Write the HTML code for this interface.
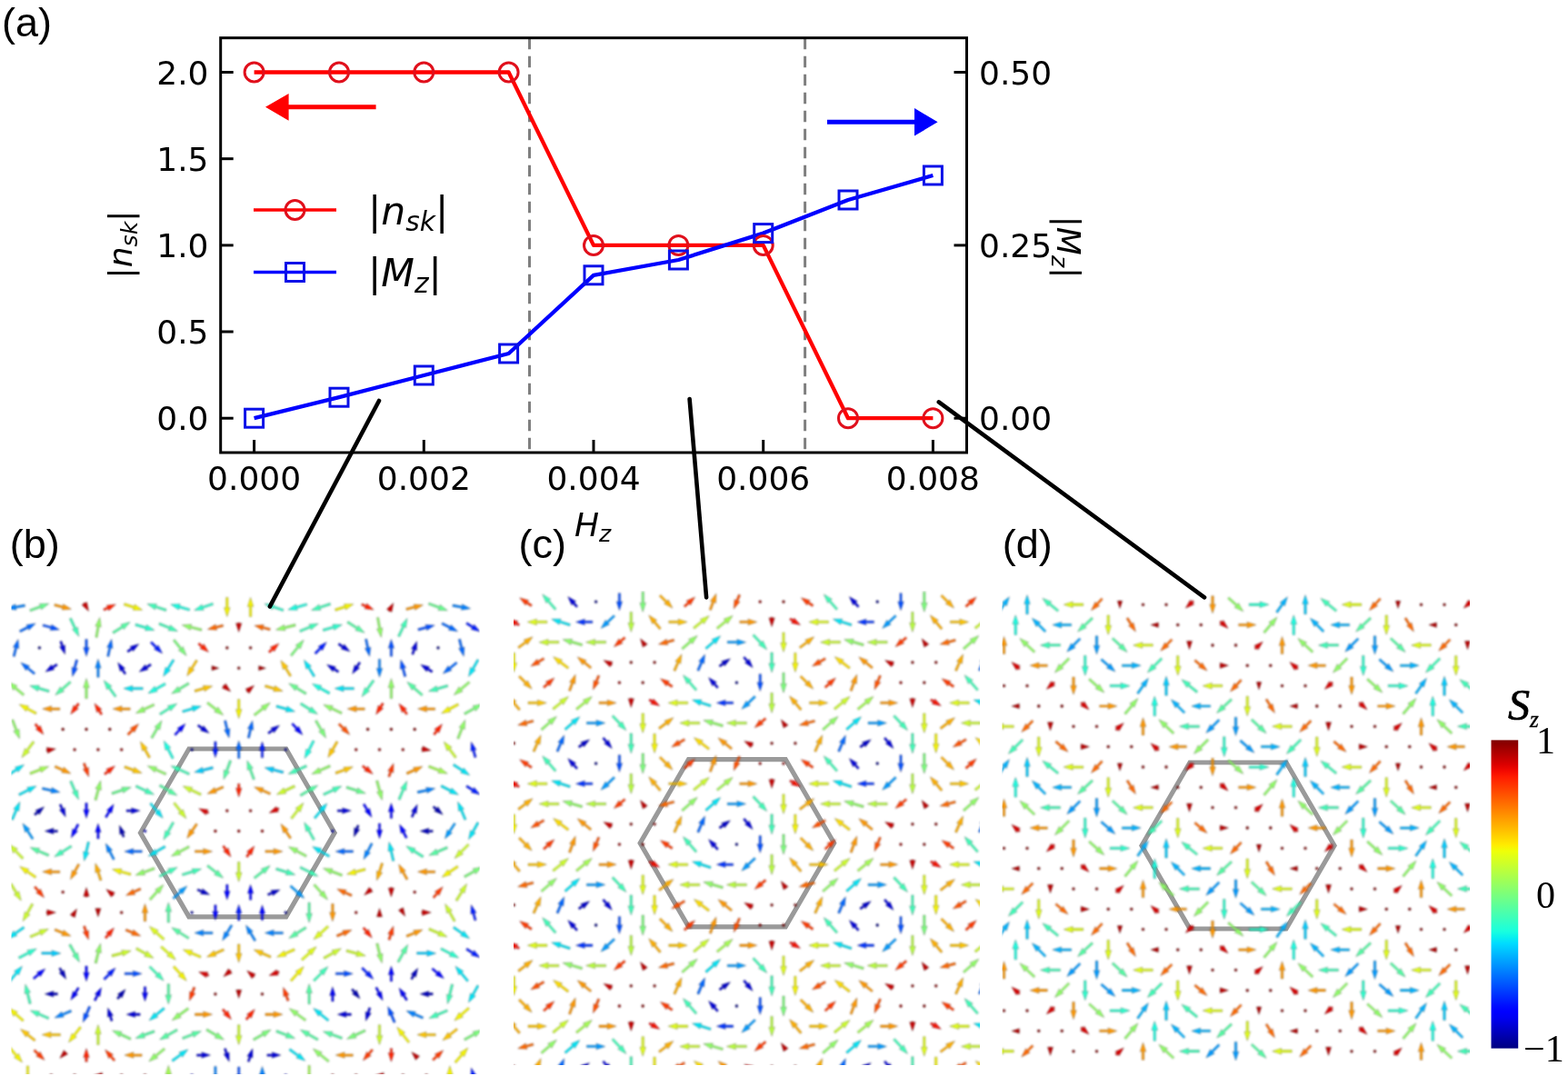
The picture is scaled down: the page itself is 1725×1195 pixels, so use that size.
<!DOCTYPE html>
<html><head><meta charset="utf-8"><title>Skyrmion figure</title><style>html,body{margin:0;padding:0;background:#fff;overflow:hidden}svg{display:block}</style></head><body>
<svg width="1725" height="1195" viewBox="0 0 1725 1195">
<defs><clipPath id="cpb"><rect x="12.5" y="655" width="515.2" height="527"/></clipPath><clipPath id="cpc"><rect x="565" y="650" width="513" height="522"/></clipPath><clipPath id="cpd"><rect x="1102.5" y="652" width="514.5" height="516"/></clipPath><filter id="bl" x="-2%" y="-2%" width="104%" height="104%"><feGaussianBlur stdDeviation="0.9"/></filter></defs>
<polygon points="207.9,824.0 314.7,824.0 368.1,916.4 314.7,1008.8 207.9,1008.8 154.5,916.4" fill="none" stroke="#9a9a9a" stroke-width="5.2" stroke-linejoin="miter"/>
<polygon points="757.5,835.7 864.2,835.7 917.6,927.7 864.2,1019.8 757.5,1019.8 704.2,927.7" fill="none" stroke="#9a9a9a" stroke-width="5.2" stroke-linejoin="miter"/>
<polygon points="1309.0,839.0 1415.0,839.0 1468.0,930.5 1415.0,1022.0 1309.0,1022.0 1256.0,930.5" fill="none" stroke="#9a9a9a" stroke-width="5.2" stroke-linejoin="miter"/>
<g clip-path="url(#cpb)"><g filter="url(#bl)" stroke="#000" stroke-opacity="0.4" stroke-width="0.7" stroke-linejoin="round"><path d="M27.2 665.1L16.7 667.0L17.1 664.8L7.8 669.7L18.2 671.2L17.1 669.3L27.6 667.4Z" fill="#0080ff"/>
<path d="M33.5 672.8L45.5 668.5L45.4 670.7L53.7 664.2L43.2 664.6L44.7 666.3L32.7 670.7Z" fill="#67ff90"/>
<path d="M59.7 666.8L69.2 669.2L68.0 671.0L78.4 670.3L69.5 664.8L69.8 667.0L60.2 664.6Z" fill="#ff9700"/>
<path d="M91.5 664.0L92.1 665.1L89.9 665.4L97.5 672.6L95.5 662.3L94.1 664.0L93.5 662.9Z" fill="#c50000"/>
<path d="M114.6 672.0L119.5 669.8L119.6 672.1L127.4 665.0L117.0 666.2L118.6 667.7L113.7 669.9Z" fill="#ff2100"/>
<path d="M136.3 665.9L147.5 669.5L146.1 671.2L156.6 671.2L148.1 665.1L148.2 667.3L137.0 663.7Z" fill="#f7f600"/>
<path d="M183.1 670.3L171.1 666.4L172.5 664.7L162.0 664.6L170.5 670.8L170.4 668.6L182.4 672.5Z" fill="#3effb9"/>
<path d="M208.8 669.9L197.0 666.5L198.4 664.7L187.9 665.0L196.6 670.9L196.4 668.7L208.2 672.1Z" fill="#15ffe2"/>
<path d="M233.9 663.4L222.1 667.4L222.2 665.2L213.8 671.5L224.3 671.3L222.8 669.6L234.6 665.6Z" fill="#29ffce"/>
<path d="M248.7 657.5L248.7 669.3L246.6 668.5L249.8 678.5L253.0 668.5L251.0 669.3L251.0 657.5Z" fill="#f7f600"/>
<path d="M276.8 678.5L276.8 666.7L278.8 667.5L275.6 657.5L272.4 667.5L274.5 666.7L274.5 678.5Z" fill="#f7f600"/>
<path d="M312.0 670.4L300.2 666.4L301.7 664.7L291.2 664.5L299.6 670.8L299.5 668.6L311.3 672.6Z" fill="#29ffce"/>
<path d="M337.2 663.9L325.4 667.3L325.6 665.1L316.9 671.0L327.4 671.3L326.0 669.5L337.8 666.1Z" fill="#15ffe2"/>
<path d="M363.0 663.5L351.0 667.4L351.1 665.2L342.6 671.4L353.1 671.3L351.7 669.6L363.7 665.7Z" fill="#3effb9"/>
<path d="M369.2 672.3L380.4 668.7L380.3 670.9L388.8 664.8L378.3 664.8L379.7 666.5L368.5 670.1Z" fill="#f7f600"/>
<path d="M397.5 666.1L402.4 668.3L400.8 669.8L411.2 671.0L403.4 663.9L403.3 666.2L398.4 664.0Z" fill="#ff2100"/>
<path d="M428.9 673.1L429.5 672.0L430.9 673.7L432.9 663.4L425.3 670.6L427.5 670.9L426.9 672.0Z" fill="#c50000"/>
<path d="M447.2 671.4L456.8 669.0L456.5 671.2L465.4 665.7L455.0 665.0L456.2 666.8L446.7 669.2Z" fill="#ff9700"/>
<path d="M471.3 665.3L483.3 669.7L481.8 671.4L492.3 671.8L484.0 665.3L484.1 667.5L472.1 663.2Z" fill="#67ff90"/>
<path d="M497.8 667.4L508.3 669.3L507.2 671.2L517.6 669.7L508.3 664.8L508.7 667.0L498.2 665.1Z" fill="#0080ff"/>
<path d="M535.2 668.0L534.4 669.4L532.8 669.4L532.0 668.0L532.8 666.6L534.4 666.6Z" fill="#b90000"/>
<path d="M22.4 695.8L31.5 691.2L31.7 693.4L39.2 686.0L28.8 687.7L30.4 689.1L21.3 693.8Z" fill="#0066ff"/>
<path d="M46.9 689.1L56.3 691.6L54.9 693.4L65.4 692.9L56.6 687.2L56.9 689.4L47.5 686.9Z" fill="#004dff"/>
<path d="M76.4 681.0L81.8 692.4L79.6 692.6L86.7 700.3L85.4 689.9L83.9 691.5L78.5 680.0Z" fill="#3effb9"/>
<path d="M107.1 701.4L109.3 688.9L111.2 690.0L109.8 679.6L104.9 688.9L107.1 688.5L104.9 701.0Z" fill="#90ff67"/>
<path d="M125.0 697.2L135.8 690.5L136.2 692.6L143.0 684.6L132.8 687.2L134.6 688.5L123.8 695.2Z" fill="#52ffa5"/>
<path d="M148.8 688.5L160.8 692.0L159.4 693.7L169.9 693.4L161.2 687.5L161.4 689.8L149.4 686.3Z" fill="#29ffce"/>
<path d="M174.8 687.4L186.5 692.1L184.9 693.7L195.4 694.5L187.3 687.8L187.3 690.0L175.6 685.3Z" fill="#3effb9"/>
<path d="M222.0 692.0L209.6 688.9L210.9 687.0L200.4 687.8L209.4 693.3L209.1 691.1L221.5 694.2Z" fill="#90ff67"/>
<path d="M245.2 687.2L237.0 689.2L237.3 687.0L228.4 692.5L238.8 693.2L237.6 691.4L245.7 689.4Z" fill="#ff6800"/>
<path d="M261.6 685.2L261.6 686.4L259.5 685.6L262.7 695.6L265.9 685.6L263.9 686.4L263.9 685.2Z" fill="#c50000"/>
<path d="M297.3 691.4L289.2 689.4L290.4 687.6L280.0 688.3L288.9 693.8L288.6 691.6L296.8 693.7Z" fill="#ff6800"/>
<path d="M324.7 686.6L312.3 689.7L312.6 687.5L303.6 693.1L314.1 693.8L312.8 692.0L325.2 688.9Z" fill="#90ff67"/>
<path d="M330.4 695.6L342.1 690.8L342.1 693.1L350.2 686.3L339.7 687.1L341.3 688.7L329.6 693.4Z" fill="#3effb9"/>
<path d="M355.8 694.5L367.8 691.1L367.6 693.3L376.3 687.4L365.8 687.1L367.2 688.9L355.2 692.3Z" fill="#29ffce"/>
<path d="M381.8 685.6L392.6 692.3L390.8 693.6L401.0 696.2L394.2 688.2L393.8 690.4L383.0 683.6Z" fill="#52ffa5"/>
<path d="M414.5 679.8L416.7 692.4L414.5 691.9L419.4 701.2L420.8 690.8L418.9 692.0L416.7 679.4Z" fill="#90ff67"/>
<path d="M439.7 700.8L445.1 689.3L446.6 691.0L447.9 680.5L440.8 688.2L443.0 688.4L437.6 699.8Z" fill="#3effb9"/>
<path d="M460.3 694.0L469.7 691.5L469.4 693.7L478.2 688.0L467.7 687.4L469.1 689.2L459.7 691.7Z" fill="#004dff"/>
<path d="M485.7 687.0L494.8 691.7L493.2 693.2L503.6 694.8L496.1 687.4L495.9 689.6L486.8 685.0Z" fill="#0066ff"/>
<path d="M512.6 686.7L519.8 691.2L518.0 692.5L528.2 695.1L521.4 687.1L521.0 689.2L513.8 684.7Z" fill="#001aff"/>
<path d="M16.4 722.5L18.8 712.6L20.7 713.9L20.0 703.4L14.4 712.3L16.6 712.0L14.1 722.0Z" fill="#0066ff"/>
<path d="M45.0 712.8L44.2 714.2L42.6 714.2L41.8 712.8L42.6 711.4L44.2 711.4Z" fill="#000080"/>
<path d="M65.8 705.9L67.6 711.7L65.4 711.5L71.6 720.1L71.5 709.5L69.8 710.9L67.9 705.2Z" fill="#0000d6"/>
<path d="M93.8 703.4L93.8 713.1L91.8 712.3L95.0 722.3L98.2 712.3L96.2 713.1L96.2 703.4Z" fill="#004dff"/>
<path d="M119.9 722.6L122.0 712.5L123.9 713.8L122.8 703.3L117.6 712.4L119.8 712.1L117.7 722.1Z" fill="#0066ff"/>
<path d="M140.9 718.0L145.9 714.7L146.4 716.8L152.9 708.6L142.8 711.5L144.6 712.8L139.7 716.1Z" fill="#0000d6"/>
<path d="M165.3 707.4L171.3 713.4L169.3 714.3L178.7 719.1L173.9 709.7L173.0 711.8L167.0 705.8Z" fill="#001aff"/>
<path d="M190.4 705.0L198.4 714.9L196.3 715.6L205.1 721.4L201.3 711.6L200.2 713.5L192.2 703.5Z" fill="#7bff7b"/>
<path d="M217.8 708.9L221.8 712.4L219.8 713.5L229.5 717.6L224.1 708.6L223.3 710.7L219.3 707.2Z" fill="#ff2100"/>
<path d="M251.4 712.8L250.6 714.2L249.0 714.2L248.2 712.8L249.0 711.4L250.6 711.4Z" fill="#800000"/>
<path d="M277.2 712.8L276.4 714.2L274.8 714.2L274.0 712.8L274.8 711.4L276.4 711.4Z" fill="#800000"/>
<path d="M296.7 718.5L300.7 715.0L301.5 717.0L306.9 708.0L297.2 712.2L299.2 713.2L295.2 716.7Z" fill="#ff2100"/>
<path d="M321.2 722.1L329.2 712.1L330.3 714.1L334.1 704.3L325.3 710.0L327.4 710.7L319.4 720.6Z" fill="#7bff7b"/>
<path d="M347.6 719.9L353.6 713.9L354.5 715.9L359.3 706.6L349.9 711.4L351.9 712.3L345.9 718.3Z" fill="#001aff"/>
<path d="M371.9 709.5L376.8 712.9L375.0 714.1L385.1 717.1L378.6 708.8L378.1 711.0L373.1 707.6Z" fill="#0000d6"/>
<path d="M401.5 703.5L403.6 713.6L401.4 713.2L406.6 722.3L407.7 711.9L405.8 713.1L403.7 703.1Z" fill="#0066ff"/>
<path d="M431.6 722.3L431.6 712.6L433.6 713.4L430.4 703.4L427.2 713.4L429.3 712.6L429.3 722.3Z" fill="#004dff"/>
<path d="M454.9 720.4L456.8 714.7L458.5 716.1L458.6 705.6L452.4 714.1L454.6 714.0L452.8 719.7Z" fill="#0000d6"/>
<path d="M483.6 712.8L482.8 714.2L481.2 714.2L480.4 712.8L481.2 711.4L482.8 711.4Z" fill="#000080"/>
<path d="M504.3 703.7L506.8 713.6L504.6 713.3L510.2 722.3L510.9 711.8L509.0 713.1L506.6 703.1Z" fill="#0066ff"/>
<path d="M535.2 712.8L534.4 714.2L532.8 714.2L532.0 712.8L532.8 711.4L534.4 711.4Z" fill="#0000b9"/>
<path d="M38.8 740.5L30.8 734.0L32.7 732.9L22.9 729.1L28.7 737.9L29.4 735.8L37.3 742.2Z" fill="#0066ff"/>
<path d="M62.1 730.2L57.0 733.4L56.6 731.2L49.9 739.3L60.0 736.7L58.3 735.4L63.4 732.2Z" fill="#0000d6"/>
<path d="M83.4 725.8L80.9 735.2L79.1 733.9L79.7 744.4L85.4 735.5L83.1 735.8L85.7 726.4Z" fill="#004dff"/>
<path d="M109.1 745.2L109.1 734.5L111.1 735.3L107.9 725.3L104.7 735.3L106.8 734.5L106.8 745.2Z" fill="#0080ff"/>
<path d="M138.8 741.0L135.5 735.9L137.7 735.5L129.6 728.9L132.3 739.0L133.6 737.2L136.9 742.2Z" fill="#0000d6"/>
<path d="M165.3 730.2L160.2 733.4L159.8 731.2L153.1 739.3L163.2 736.7L161.5 735.4L166.6 732.2Z" fill="#0000d6"/>
<path d="M190.0 725.6L183.6 735.8L182.2 734.1L179.7 744.3L187.7 737.5L185.5 737.1L191.9 726.8Z" fill="#00e5f7"/>
<path d="M215.5 726.1L209.7 735.4L208.3 733.6L205.8 743.8L213.8 737.0L211.6 736.6L217.4 727.3Z" fill="#ffc600"/>
<path d="M232.9 736.2L233.5 736.2L232.9 737.8L240.9 735.2L232.9 732.6L233.5 734.3L232.9 734.3Z" fill="#a80000"/>
<path d="M264.3 735.2L263.5 736.6L261.9 736.6L261.1 735.2L261.9 733.8L263.5 733.8Z" fill="#800000"/>
<path d="M284.5 736.2L285.1 736.2L284.5 737.8L292.5 735.2L284.5 732.6L285.1 734.3L284.5 734.3Z" fill="#a80000"/>
<path d="M320.6 743.2L314.8 733.9L317.0 733.5L309.0 726.7L311.5 736.9L312.9 735.1L318.7 744.4Z" fill="#ffc600"/>
<path d="M346.7 743.6L340.3 733.4L342.5 733.0L334.5 726.2L337.0 736.4L338.4 734.6L344.8 744.9Z" fill="#00e5f7"/>
<path d="M373.0 738.3L367.9 735.1L369.6 733.8L359.5 731.2L366.2 739.2L366.6 737.1L371.7 740.2Z" fill="#0000d6"/>
<path d="M394.9 728.2L391.6 733.3L390.3 731.5L387.6 741.6L395.7 735.0L393.5 734.5L396.8 729.5Z" fill="#0000d6"/>
<path d="M416.4 725.3L416.4 736.0L414.3 735.2L417.5 745.2L420.7 735.2L418.6 736.0L418.6 725.3Z" fill="#0080ff"/>
<path d="M446.9 744.1L444.3 734.7L446.6 734.9L440.9 726.1L440.3 736.6L442.1 735.3L444.6 744.7Z" fill="#004dff"/>
<path d="M476.2 738.3L471.1 735.1L472.8 733.8L462.7 731.2L469.4 739.2L469.8 737.1L474.9 740.2Z" fill="#0000d6"/>
<path d="M501.7 728.2L493.8 734.7L493.1 732.6L487.3 741.3L497.1 737.6L495.2 736.5L503.2 730.0Z" fill="#0066ff"/>
<path d="M524.9 725.4L519.0 735.9L517.6 734.2L515.5 744.5L523.2 737.3L521.0 737.0L526.9 726.5Z" fill="#00e5f7"/>
<path d="M26.8 763.8L17.0 755.6L18.9 754.5L9.2 750.6L14.8 759.5L15.5 757.4L25.3 765.6Z" fill="#90ff67"/>
<path d="M54.2 759.5L42.1 756.1L43.4 754.3L32.9 754.6L41.6 760.5L41.4 758.3L53.6 761.8Z" fill="#3effb9"/>
<path d="M76.7 749.6L67.1 757.9L66.4 755.8L60.9 764.8L70.6 760.7L68.6 759.7L78.2 751.3Z" fill="#52ffa5"/>
<path d="M96.2 768.6L96.2 755.9L98.2 756.7L95.0 746.7L91.8 756.7L93.8 755.9L93.8 768.6Z" fill="#90ff67"/>
<path d="M128.1 765.8L120.7 755.6L122.9 755.0L114.4 748.8L117.7 758.8L118.9 756.9L126.3 767.1Z" fill="#3effb9"/>
<path d="M157.2 756.5L145.2 756.5L146.0 754.4L136.0 757.6L146.0 760.9L145.2 758.8L157.2 758.8Z" fill="#00e5f7"/>
<path d="M181.2 751.4L170.5 757.4L170.2 755.2L163.0 762.9L173.3 760.8L171.6 759.4L182.4 753.4Z" fill="#15ffe2"/>
<path d="M207.0 751.0L196.1 757.6L195.7 755.4L188.8 763.3L199.0 760.9L197.3 759.5L208.2 753.0Z" fill="#67ff90"/>
<path d="M214.6 761.5L225.2 758.5L225.0 760.7L233.7 754.9L223.2 754.5L224.5 756.3L214.0 759.3Z" fill="#ffc600"/>
<path d="M245.1 755.2L246.0 756.0L244.1 757.0L253.8 761.0L248.2 752.1L247.5 754.2L246.5 753.4Z" fill="#c50000"/>
<path d="M272.3 761.9L273.3 761.1L274.0 763.2L279.6 754.3L269.9 758.2L271.8 759.3L270.9 760.1Z" fill="#c50000"/>
<path d="M291.4 756.0L301.9 759.0L300.6 760.8L311.1 760.4L302.4 754.6L302.6 756.8L292.0 753.8Z" fill="#ffc600"/>
<path d="M337.2 762.3L326.3 755.7L328.0 754.4L317.8 752.0L324.7 759.9L325.1 757.7L336.0 764.3Z" fill="#67ff90"/>
<path d="M363.0 761.8L352.2 755.9L353.9 754.5L343.6 752.4L350.8 760.1L351.1 757.9L361.8 763.9Z" fill="#15ffe2"/>
<path d="M389.4 756.5L377.4 756.5L378.2 754.4L368.2 757.6L378.2 760.9L377.4 758.8L389.4 758.8Z" fill="#00e5f7"/>
<path d="M410.1 748.1L402.7 758.3L401.5 756.5L398.2 766.5L406.7 760.3L404.5 759.7L411.9 749.5Z" fill="#3effb9"/>
<path d="M431.6 768.6L431.6 755.9L433.6 756.7L430.4 746.7L427.2 756.7L429.3 755.9L429.3 768.6Z" fill="#90ff67"/>
<path d="M465.2 764.0L455.6 755.6L457.6 754.6L447.9 750.4L453.4 759.4L454.1 757.4L463.7 765.7Z" fill="#52ffa5"/>
<path d="M492.2 753.5L480.0 757.0L480.2 754.8L471.5 760.6L482.0 761.0L480.7 759.2L492.8 755.7Z" fill="#3effb9"/>
<path d="M515.5 749.7L505.7 757.9L505.0 755.8L499.4 764.7L509.1 760.7L507.2 759.7L517.0 751.5Z" fill="#90ff67"/>
<path d="M532.5 747.1L532.5 758.9L530.4 758.1L533.6 768.1L536.8 758.1L534.8 758.9L534.8 747.1Z" fill="#f7f600"/>
<path d="M40.3 784.0L29.9 778.4L31.6 777.0L21.2 775.1L28.6 782.7L28.8 780.5L39.2 786.0Z" fill="#f7f600"/>
<path d="M65.8 778.9L56.0 778.9L56.8 776.8L46.8 780.0L56.8 783.3L56.0 781.2L65.8 781.2Z" fill="#ff9700"/>
<path d="M85.6 773.5L82.3 777.8L81.2 775.9L77.7 785.9L86.3 779.8L84.2 779.2L87.4 774.9Z" fill="#ff2100"/>
<path d="M112.7 785.6L109.9 781.1L112.1 780.7L104.0 773.9L106.6 784.1L107.9 782.3L110.8 786.8Z" fill="#ff2100"/>
<path d="M143.2 778.9L133.4 778.9L134.2 776.8L124.2 780.0L134.2 783.3L133.4 781.2L143.2 781.2Z" fill="#ff9700"/>
<path d="M169.0 774.4L157.4 779.8L157.2 777.5L149.5 784.7L160.0 783.4L158.4 781.8L169.9 776.4Z" fill="#90ff67"/>
<path d="M176.7 786.8L187.4 780.1L187.8 782.3L194.6 774.3L184.4 776.8L186.1 778.2L175.4 784.9Z" fill="#3effb9"/>
<path d="M201.2 784.1L212.8 780.8L212.6 783.0L221.3 777.1L210.8 776.8L212.2 778.5L200.6 781.9Z" fill="#00e5f7"/>
<path d="M227.5 774.2L237.6 782.1L235.7 783.2L245.6 786.8L239.7 778.1L239.0 780.2L229.0 772.4Z" fill="#90ff67"/>
<path d="M261.6 769.6L261.6 781.3L259.5 780.5L262.7 790.5L265.9 780.5L263.9 781.3L263.9 769.6Z" fill="#f7f600"/>
<path d="M280.6 787.7L290.6 779.9L291.3 782.0L297.2 773.3L287.3 776.9L289.2 778.0L279.1 785.9Z" fill="#90ff67"/>
<path d="M303.8 778.2L315.4 781.6L314.0 783.3L324.5 783.0L315.8 777.1L316.0 779.3L304.4 776.0Z" fill="#00e5f7"/>
<path d="M330.2 775.2L340.9 781.9L339.2 783.3L349.4 785.8L342.6 777.8L342.2 780.0L331.5 773.3Z" fill="#3effb9"/>
<path d="M376.3 783.7L364.8 778.3L366.4 776.7L355.9 775.4L363.6 782.6L363.8 780.3L375.4 785.7Z" fill="#90ff67"/>
<path d="M401.2 778.9L391.4 778.9L392.2 776.8L382.2 780.0L392.2 783.3L391.4 781.2L401.2 781.2Z" fill="#ff9700"/>
<path d="M420.4 773.3L417.5 777.8L416.2 776.0L413.6 786.2L421.7 779.4L419.5 779.0L422.3 774.5Z" fill="#ff2100"/>
<path d="M448.6 785.2L445.4 780.9L447.5 780.3L438.9 774.2L442.4 784.2L443.5 782.3L446.8 786.6Z" fill="#ff2100"/>
<path d="M478.6 778.9L468.8 778.9L469.6 776.8L459.6 780.0L469.6 783.3L468.8 781.2L478.6 781.2Z" fill="#ff9700"/>
<path d="M503.6 774.1L493.2 779.6L493.0 777.4L485.6 785.0L496.0 783.1L494.3 781.7L504.7 776.1Z" fill="#f7f600"/>
<path d="M511.6 786.4L522.8 780.2L523.1 782.4L530.3 774.7L520.0 776.8L521.7 778.2L510.5 784.4Z" fill="#7bff7b"/>
<path d="M12.6 792.6L17.2 804.5L14.9 804.5L21.5 812.7L21.0 802.2L19.3 803.7L14.7 791.8Z" fill="#90ff67"/>
<path d="M38.0 797.4L41.3 801.7L39.2 802.3L47.9 808.2L44.3 798.3L43.1 800.2L39.8 796.0Z" fill="#ff2100"/>
<path d="M70.8 802.5L70.0 803.9L68.4 803.9L67.6 802.5L68.4 801.1L70.0 801.1Z" fill="#800000"/>
<path d="M96.6 802.5L95.8 803.9L94.2 803.9L93.4 802.5L94.2 801.1L95.8 801.1Z" fill="#800000"/>
<path d="M122.4 802.5L121.6 803.9L120.0 803.9L119.2 802.5L120.0 801.1L121.6 801.1Z" fill="#800000"/>
<path d="M141.5 809.2L146.8 803.9L147.7 805.9L152.5 796.5L143.2 801.3L145.2 802.2L139.9 807.6Z" fill="#ff5000"/>
<path d="M167.9 812.6L174.3 801.5L175.7 803.2L177.9 792.9L170.1 800.0L172.3 800.3L165.9 811.4Z" fill="#7bff7b"/>
<path d="M193.3 809.4L198.5 803.8L199.5 805.8L204.0 796.3L194.8 801.4L196.9 802.2L191.6 807.9Z" fill="#0000ff"/>
<path d="M217.1 799.0L222.0 802.5L220.2 803.7L230.2 806.8L223.9 798.4L223.4 800.6L218.4 797.2Z" fill="#0000d6"/>
<path d="M246.5 793.2L248.8 803.2L246.6 802.9L252.0 811.9L252.9 801.5L251.0 802.7L248.7 792.7Z" fill="#0066ff"/>
<path d="M274.5 812.2L276.8 802.2L278.7 803.5L277.8 793.0L272.4 802.0L274.6 801.7L272.3 811.7Z" fill="#0066ff"/>
<path d="M295.8 807.8L300.8 804.3L301.3 806.5L307.6 798.1L297.6 801.2L299.4 802.4L294.5 805.9Z" fill="#0000d6"/>
<path d="M320.6 797.0L325.9 802.7L323.8 803.5L333.0 808.7L328.5 799.1L327.5 801.1L322.3 795.5Z" fill="#0000ff"/>
<path d="M346.5 793.5L352.9 804.6L350.7 804.9L358.5 812.0L356.3 801.7L354.9 803.4L348.5 792.4Z" fill="#7bff7b"/>
<path d="M372.1 797.4L377.4 802.7L375.4 803.6L384.7 808.4L379.9 799.0L379.0 801.1L373.7 795.7Z" fill="#ff5000"/>
<path d="M406.2 802.5L405.4 803.9L403.8 803.9L403.0 802.5L403.8 801.1L405.4 801.1Z" fill="#800000"/>
<path d="M432.0 802.5L431.2 803.9L429.6 803.9L428.8 802.5L429.6 801.1L431.2 801.1Z" fill="#800000"/>
<path d="M457.8 802.5L457.0 803.9L455.4 803.9L454.6 802.5L455.4 801.1L457.0 801.1Z" fill="#800000"/>
<path d="M478.4 808.9L481.7 804.7L482.9 806.6L486.5 796.7L477.8 802.6L479.9 803.3L476.6 807.5Z" fill="#ff2100"/>
<path d="M504.9 813.1L509.5 801.2L511.2 802.7L511.7 792.2L505.1 800.4L507.4 800.4L502.8 812.3Z" fill="#90ff67"/>
<path d="M535.2 802.5L534.4 803.9L532.8 803.9L532.0 802.5L532.8 801.1L534.4 801.1Z" fill="#00e5f7"/>
<path d="M36.1 815.6L28.6 825.4L27.5 823.5L24.0 833.5L32.6 827.4L30.5 826.8L37.9 817.0Z" fill="#ceff29"/>
<path d="M51.4 826.9L52.6 826.7L52.2 828.9L61.4 824.0L51.0 822.5L52.2 824.4L51.0 824.6Z" fill="#c50000"/>
<path d="M83.7 824.9L82.9 826.3L81.3 826.3L80.5 824.9L81.3 823.5L82.9 823.5Z" fill="#910000"/>
<path d="M109.5 824.9L108.7 826.3L107.1 826.3L106.3 824.9L107.1 823.5L108.7 823.5Z" fill="#910000"/>
<path d="M135.3 824.9L134.5 826.3L132.9 826.3L132.1 824.9L132.9 823.5L134.5 823.5Z" fill="#910000"/>
<path d="M165.5 833.0L160.1 823.5L162.3 823.2L154.5 816.1L156.7 826.4L158.1 824.7L163.5 834.2Z" fill="#ffc600"/>
<path d="M191.2 833.9L185.6 823.0L187.8 822.7L180.4 815.3L182.1 825.7L183.6 824.0L189.2 835.0Z" fill="#15ffe2"/>
<path d="M212.7 824.9L211.9 826.3L210.3 826.3L209.5 824.9L210.3 823.5L211.9 823.5Z" fill="#00009c"/>
<path d="M235.8 816.0L235.8 824.5L233.7 823.7L236.9 833.7L240.1 823.7L238.1 824.5L238.1 816.0Z" fill="#001aff"/>
<path d="M263.9 834.6L263.9 824.3L265.9 825.2L262.7 815.1L259.5 825.2L261.6 824.3L261.6 834.6Z" fill="#0066ff"/>
<path d="M289.6 833.7L289.6 825.2L291.7 826.0L288.5 816.0L285.3 826.0L287.4 825.2L287.4 833.7Z" fill="#001aff"/>
<path d="M315.9 824.9L315.1 826.3L313.5 826.3L312.7 824.9L313.5 823.5L315.1 823.5Z" fill="#00009c"/>
<path d="M344.0 814.8L338.4 825.7L336.9 824.1L335.2 834.4L342.6 827.0L340.4 826.8L346.0 815.8Z" fill="#15ffe2"/>
<path d="M369.9 815.6L364.5 825.1L363.1 823.3L360.9 833.6L368.7 826.5L366.5 826.2L371.9 816.7Z" fill="#ffc600"/>
<path d="M393.3 824.9L392.5 826.3L390.9 826.3L390.1 824.9L390.9 823.5L392.5 823.5Z" fill="#910000"/>
<path d="M419.1 824.9L418.3 826.3L416.7 826.3L415.9 824.9L416.7 823.5L418.3 823.5Z" fill="#910000"/>
<path d="M444.9 824.9L444.1 826.3L442.5 826.3L441.7 824.9L442.5 823.5L444.1 823.5Z" fill="#910000"/>
<path d="M463.8 825.1L465.0 825.3L463.8 827.2L474.2 825.8L465.0 820.9L465.4 823.0L464.2 822.8Z" fill="#c50000"/>
<path d="M502.3 832.8L494.9 822.9L497.0 822.3L488.4 816.3L491.9 826.2L493.0 824.3L500.5 834.2Z" fill="#ceff29"/>
<path d="M524.1 833.1L521.9 824.9L524.1 825.2L518.4 816.3L517.9 826.8L519.7 825.5L521.9 833.7Z" fill="#001aff"/>
<path d="M9.3 854.0L19.4 847.5L19.9 849.6L26.5 841.5L16.4 844.2L18.2 845.5L8.1 852.1Z" fill="#00e5f7"/>
<path d="M33.6 852.3L45.4 847.7L45.4 849.9L53.6 843.4L43.1 843.9L44.6 845.6L32.8 850.1Z" fill="#a5ff52"/>
<path d="M60.0 844.5L69.0 848.5L67.5 850.0L77.9 851.2L70.1 844.1L70.0 846.4L61.0 842.4Z" fill="#ff9700"/>
<path d="M91.4 840.2L93.5 846.4L91.3 846.3L97.6 854.7L97.3 844.2L95.6 845.6L93.5 839.5Z" fill="#ff3900"/>
<path d="M115.8 852.7L120.0 849.4L120.6 851.5L126.5 842.8L116.7 846.4L118.6 847.6L114.4 850.9Z" fill="#ff2100"/>
<path d="M136.7 844.9L147.0 848.7L145.6 850.3L156.1 850.7L147.8 844.3L147.8 846.5L137.5 842.8Z" fill="#ffc600"/>
<path d="M182.9 850.7L171.2 845.5L172.8 843.9L162.4 842.8L170.2 849.8L170.3 847.6L182.0 852.8Z" fill="#90ff67"/>
<path d="M208.6 850.7L197.1 845.5L198.7 844.0L188.2 842.8L196.1 849.9L196.2 847.6L207.7 852.8Z" fill="#3effb9"/>
<path d="M233.9 843.6L222.5 846.5L222.7 844.3L213.8 849.8L224.3 850.5L223.0 848.7L234.5 845.9Z" fill="#00ccff"/>
<path d="M252.5 836.6L248.1 848.5L246.4 847.1L246.1 857.6L252.5 849.3L250.3 849.3L254.6 837.4Z" fill="#52ffa5"/>
<path d="M280.4 857.2L276.1 845.2L278.3 845.3L271.9 837.0L272.2 847.5L273.9 846.0L278.3 858.0Z" fill="#52ffa5"/>
<path d="M311.9 848.7L300.4 845.8L301.7 844.0L291.2 844.7L300.1 850.3L299.9 848.1L311.3 850.9Z" fill="#00ccff"/>
<path d="M336.7 841.8L325.2 846.9L325.1 844.7L317.2 851.7L327.7 850.6L326.1 849.0L337.6 843.9Z" fill="#3effb9"/>
<path d="M362.6 841.8L350.9 847.0L350.8 844.7L343.0 851.7L353.4 850.6L351.8 849.1L363.5 843.9Z" fill="#90ff67"/>
<path d="M369.7 851.8L380.0 848.1L380.0 850.3L388.3 843.8L377.8 844.2L379.2 845.9L368.9 849.6Z" fill="#ffc600"/>
<path d="M398.2 843.7L402.4 847.0L400.5 848.1L410.3 851.8L404.4 843.1L403.8 845.2L399.6 841.9Z" fill="#ff2100"/>
<path d="M428.9 855.1L431.0 848.9L432.7 850.4L433.0 839.9L426.7 848.3L428.9 848.2L426.8 854.3Z" fill="#ff3900"/>
<path d="M448.0 852.2L457.0 848.2L457.1 850.4L464.9 843.4L454.5 844.5L456.0 846.1L447.0 850.1Z" fill="#ff9700"/>
<path d="M471.4 844.4L483.2 849.0L481.7 850.6L492.2 851.2L484.0 844.6L484.0 846.8L472.2 842.3Z" fill="#a5ff52"/>
<path d="M498.3 842.5L508.4 849.0L506.6 850.3L516.7 853.1L510.1 844.9L509.6 847.1L499.5 840.5Z" fill="#00e5f7"/>
<path d="M535.2 847.3L534.4 848.7L532.8 848.7L532.0 847.3L532.8 845.9L534.4 845.9Z" fill="#b90000"/>
<path d="M21.5 875.5L32.3 870.1L32.5 872.3L40.0 864.9L29.6 866.5L31.3 868.0L20.5 873.5Z" fill="#00e5f7"/>
<path d="M46.3 868.7L56.8 871.0L55.6 872.8L66.0 871.8L56.9 866.5L57.3 868.7L46.8 866.5Z" fill="#0080ff"/>
<path d="M76.8 860.1L81.7 871.7L79.5 871.8L86.4 879.7L85.4 869.3L83.8 870.8L78.9 859.2Z" fill="#3effb9"/>
<path d="M106.2 880.6L109.5 868.3L111.3 869.6L110.7 859.1L105.0 867.9L107.3 867.7L103.9 880.0Z" fill="#90ff67"/>
<path d="M123.6 874.2L135.8 870.2L135.6 872.4L144.2 866.3L133.6 866.3L135.0 868.0L122.9 872.0Z" fill="#67ff90"/>
<path d="M149.1 866.1L160.6 871.5L159.0 873.0L169.4 874.3L161.7 867.2L161.5 869.4L150.1 864.0Z" fill="#3effb9"/>
<path d="M175.2 865.2L186.2 871.6L184.5 873.0L194.8 875.2L187.7 867.4L187.4 869.6L176.4 863.2Z" fill="#52ffa5"/>
<path d="M221.4 873.2L210.2 868.0L211.8 866.4L201.3 865.1L209.0 872.3L209.2 870.1L220.4 875.3Z" fill="#ceff29"/>
<path d="M245.2 864.9L236.2 868.8L236.1 866.5L228.1 873.4L238.6 872.5L237.0 870.9L246.1 867.0Z" fill="#ff9700"/>
<path d="M261.6 862.4L261.6 867.8L259.5 867.0L262.7 877.0L265.9 867.0L263.9 867.8L263.9 862.4Z" fill="#ff2100"/>
<path d="M297.7 872.4L288.6 868.5L290.2 866.9L279.7 866.0L287.7 872.8L287.8 870.6L296.8 874.5Z" fill="#ff9700"/>
<path d="M323.6 864.1L312.4 869.3L312.2 867.1L304.5 874.2L315.0 872.9L313.4 871.4L324.6 866.2Z" fill="#ceff29"/>
<path d="M331.2 876.2L342.2 869.8L342.5 872.0L349.6 864.2L339.3 866.4L341.0 867.8L330.0 874.2Z" fill="#52ffa5"/>
<path d="M356.5 875.3L367.9 870.0L368.1 872.2L375.8 865.1L365.4 866.4L367.0 867.9L355.5 873.3Z" fill="#3effb9"/>
<path d="M380.9 867.4L393.0 871.3L391.6 873.1L402.2 873.1L393.6 866.9L393.8 869.1L381.6 865.2Z" fill="#67ff90"/>
<path d="M413.5 859.4L416.9 871.7L414.6 871.5L420.3 880.3L420.9 869.8L419.1 871.1L415.8 858.8Z" fill="#90ff67"/>
<path d="M440.1 880.2L445.0 868.6L446.6 870.1L447.6 859.6L440.7 867.6L442.9 867.7L438.0 879.3Z" fill="#3effb9"/>
<path d="M459.6 872.9L470.1 870.7L469.7 872.8L478.8 867.6L468.4 866.6L469.6 868.4L459.1 870.6Z" fill="#0080ff"/>
<path d="M484.9 865.9L495.7 871.4L494.0 872.8L504.4 874.5L496.9 867.1L496.7 869.3L485.9 863.8Z" fill="#00e5f7"/>
<path d="M512.6 866.0L519.8 870.5L518.0 871.8L528.2 874.4L521.4 866.3L521.0 868.5L513.8 864.0Z" fill="#001aff"/>
<path d="M14.5 902.3L19.2 891.2L20.8 892.8L21.8 882.3L14.9 890.3L17.1 890.3L12.4 901.4Z" fill="#00e5f7"/>
<path d="M38.9 897.4L42.3 894.5L43.1 896.6L48.7 887.7L38.9 891.7L40.9 892.7L37.4 895.6Z" fill="#0000ae"/>
<path d="M65.2 885.5L67.5 891.1L65.3 891.1L72.2 899.1L71.2 888.6L69.6 890.2L67.3 884.7Z" fill="#0000d6"/>
<path d="M93.8 883.6L93.8 891.4L91.8 890.6L95.0 900.6L98.2 890.6L96.2 891.4L96.2 883.6Z" fill="#0000ff"/>
<path d="M117.4 900.0L121.4 893.3L122.8 895.1L125.2 884.8L117.3 891.8L119.4 892.1L115.4 898.8Z" fill="#0000ff"/>
<path d="M139.0 893.2L145.0 893.2L144.2 895.3L154.2 892.1L144.2 888.9L145.0 891.0L139.0 891.0Z" fill="#0000d6"/>
<path d="M164.7 884.7L172.4 893.9L170.3 894.7L179.2 900.2L175.3 890.5L174.2 892.5L166.4 883.2Z" fill="#00e5f7"/>
<path d="M190.7 884.3L198.3 894.1L196.1 894.7L204.8 900.6L201.2 890.7L200.1 892.6L192.5 882.9Z" fill="#ceff29"/>
<path d="M229.7 893.5L227.6 892.5L229.2 891.0L218.7 889.7L226.5 896.8L226.6 894.6L228.8 895.6Z" fill="#d60000"/>
<path d="M251.4 892.1L250.6 893.5L249.0 893.5L248.2 892.1L249.0 890.7L250.6 890.7Z" fill="#910000"/>
<path d="M277.2 892.1L276.4 893.5L274.8 893.5L274.0 892.1L274.8 890.7L276.4 890.7Z" fill="#910000"/>
<path d="M306.2 888.6L304.0 889.6L303.9 887.4L296.1 894.5L306.6 893.2L305.0 891.7L307.1 890.7Z" fill="#d60000"/>
<path d="M321.5 901.3L329.1 891.6L330.2 893.5L333.8 883.6L325.1 889.5L327.3 890.1L319.7 899.9Z" fill="#ceff29"/>
<path d="M347.0 901.0L354.8 891.7L355.9 893.7L359.8 884.0L350.9 889.5L353.0 890.3L345.3 899.5Z" fill="#00e5f7"/>
<path d="M371.2 893.2L377.2 893.2L376.4 895.3L386.4 892.1L376.4 888.9L377.2 891.0L371.2 891.0Z" fill="#0000d6"/>
<path d="M399.2 885.4L403.2 892.1L401.1 892.4L409.0 899.4L406.6 889.1L405.2 890.9L401.2 884.2Z" fill="#0000ff"/>
<path d="M431.6 900.6L431.6 892.8L433.6 893.6L430.4 883.6L427.2 893.6L429.3 892.8L429.3 900.6Z" fill="#0000ff"/>
<path d="M454.3 899.5L456.6 894.0L458.2 895.6L459.2 885.1L452.3 893.1L454.5 893.1L452.2 898.7Z" fill="#0000d6"/>
<path d="M476.0 888.6L479.5 891.5L477.5 892.5L487.3 896.5L481.7 887.6L480.9 889.7L477.5 886.8Z" fill="#0000ae"/>
<path d="M513.0 901.4L508.3 890.3L510.5 890.3L503.6 882.3L504.6 892.8L506.2 891.2L510.9 902.3Z" fill="#00e5f7"/>
<path d="M535.2 892.1L534.4 893.5L532.8 893.5L532.0 892.1L532.8 890.7L534.4 890.7Z" fill="#0000b9"/>
<path d="M37.0 922.4L30.9 913.1L33.1 912.6L25.0 906.0L27.7 916.1L29.0 914.3L35.1 923.7Z" fill="#0099ff"/>
<path d="M63.4 913.4L58.4 913.4L59.2 911.3L49.2 914.5L59.2 917.7L58.4 915.7L63.4 915.7Z" fill="#0000b9"/>
<path d="M84.9 906.4L81.4 913.3L79.9 911.7L78.3 922.1L85.7 914.6L83.5 914.4L87.0 907.5Z" fill="#0000ff"/>
<path d="M109.1 923.0L109.1 915.2L111.1 916.0L107.9 906.0L104.7 916.0L106.8 915.2L106.8 923.0Z" fill="#0000ff"/>
<path d="M137.1 920.6L135.6 916.3L137.8 916.4L131.4 908.1L131.8 918.6L133.4 917.1L135.0 921.3Z" fill="#0000ae"/>
<path d="M161.1 914.5L160.3 915.9L158.7 915.9L157.9 914.5L158.7 913.1L160.3 913.1Z" fill="#0000b9"/>
<path d="M189.6 904.4L183.5 915.4L182.0 913.7L180.0 924.1L187.7 916.9L185.5 916.6L191.6 905.5Z" fill="#3effb9"/>
<path d="M215.5 906.0L210.0 914.1L208.7 912.3L205.8 922.4L214.0 915.9L211.9 915.4L217.4 907.3Z" fill="#ff9700"/>
<path d="M238.5 914.5L237.7 915.9L236.1 915.9L235.3 914.5L236.1 913.1L237.7 913.1Z" fill="#910000"/>
<path d="M264.3 914.5L263.5 915.9L261.9 915.9L261.1 914.5L261.9 913.1L263.5 913.1Z" fill="#910000"/>
<path d="M290.1 914.5L289.3 915.9L287.7 915.9L286.9 914.5L287.7 913.1L289.3 913.1Z" fill="#910000"/>
<path d="M320.6 921.8L315.1 913.6L317.2 913.1L309.0 906.6L311.9 916.7L313.2 914.9L318.7 923.1Z" fill="#ff9700"/>
<path d="M346.4 923.5L340.3 912.5L342.5 912.2L334.8 905.0L336.8 915.3L338.3 913.6L344.4 924.6Z" fill="#3effb9"/>
<path d="M367.5 914.5L366.7 915.9L365.1 915.9L364.3 914.5L365.1 913.1L366.7 913.1Z" fill="#0000b9"/>
<path d="M393.0 907.7L391.4 911.9L389.8 910.4L389.4 921.0L395.8 912.7L393.6 912.7L395.1 908.5Z" fill="#0000ae"/>
<path d="M416.4 906.0L416.4 913.8L414.3 913.0L417.5 923.0L420.7 913.0L418.6 913.8L418.6 906.0Z" fill="#0000ff"/>
<path d="M448.2 921.5L444.7 914.6L446.9 914.4L439.5 907.0L441.1 917.3L442.6 915.7L446.1 922.6Z" fill="#0000ff"/>
<path d="M476.2 913.4L471.2 913.4L472.0 911.3L462.0 914.5L472.0 917.7L471.2 915.7L476.2 915.7Z" fill="#0000b9"/>
<path d="M499.5 905.4L493.4 914.7L492.1 912.9L489.4 923.0L497.5 916.4L495.3 915.9L501.4 906.6Z" fill="#0099ff"/>
<path d="M524.9 904.6L519.0 915.2L517.6 913.5L515.5 923.8L523.2 916.6L521.0 916.3L526.9 905.8Z" fill="#00e5f7"/>
<path d="M26.0 943.7L17.3 935.0L19.3 934.1L10.0 929.3L14.8 938.7L15.7 936.6L24.4 945.4Z" fill="#ceff29"/>
<path d="M53.9 940.1L42.2 935.2L43.8 933.6L33.3 932.6L41.3 939.5L41.3 937.3L53.0 942.3Z" fill="#52ffa5"/>
<path d="M77.8 930.2L67.1 936.9L66.7 934.7L59.9 942.7L70.1 940.1L68.4 938.8L79.1 932.1Z" fill="#3effb9"/>
<path d="M96.3 926.3L93.6 938.1L91.7 936.8L92.6 947.3L98.0 938.3L95.8 938.6L98.5 926.8Z" fill="#00e5f7"/>
<path d="M126.3 945.3L121.5 935.7L123.7 935.5L116.3 928.0L118.0 938.4L119.4 936.8L124.3 946.3Z" fill="#0080ff"/>
<path d="M156.3 935.8L146.1 935.8L146.9 933.7L136.9 936.9L146.9 940.1L146.1 938.1L156.3 938.1Z" fill="#0066ff"/>
<path d="M181.0 930.6L170.6 936.6L170.2 934.4L163.2 942.2L173.5 940.0L171.7 938.6L182.2 932.6Z" fill="#00e5f7"/>
<path d="M207.4 930.7L196.1 936.7L195.8 934.5L188.5 942.1L198.8 940.2L197.2 938.8L208.4 932.8Z" fill="#90ff67"/>
<path d="M214.5 938.1L224.3 938.1L223.5 940.1L233.5 936.9L223.5 933.7L224.3 935.8L214.5 935.8Z" fill="#ff9700"/>
<path d="M244.7 931.6L247.8 936.0L245.6 936.5L254.0 942.9L250.9 932.8L249.6 934.7L246.6 930.3Z" fill="#ff2100"/>
<path d="M272.4 943.5L275.4 939.2L276.7 941.0L279.8 931.0L271.4 937.3L273.6 937.8L270.5 942.2Z" fill="#ff2100"/>
<path d="M291.9 938.1L301.7 938.1L300.9 940.1L310.9 936.9L300.9 933.7L301.7 935.8L291.9 935.8Z" fill="#ff9700"/>
<path d="M337.4 941.1L326.2 935.1L327.8 933.6L317.5 931.8L324.8 939.3L325.1 937.1L336.4 943.1Z" fill="#90ff67"/>
<path d="M362.8 941.2L352.3 935.2L354.1 933.8L343.8 931.6L350.8 939.4L351.2 937.2L361.6 943.2Z" fill="#00e5f7"/>
<path d="M388.5 935.8L378.3 935.8L379.1 933.7L369.1 936.9L379.1 940.1L378.3 938.1L388.5 938.1Z" fill="#0066ff"/>
<path d="M408.1 927.5L403.2 937.1L401.8 935.4L400.1 945.8L407.5 938.3L405.3 938.1L410.1 928.6Z" fill="#0080ff"/>
<path d="M433.9 947.0L431.2 935.3L433.4 935.6L428.0 926.6L427.1 937.0L429.0 935.8L431.7 947.5Z" fill="#00e5f7"/>
<path d="M466.1 941.7L455.4 935.0L457.1 933.7L446.9 931.1L453.7 939.2L454.1 937.0L464.8 943.7Z" fill="#3effb9"/>
<path d="M491.6 931.6L479.9 936.5L479.9 934.3L471.9 941.2L482.4 940.3L480.8 938.7L492.5 933.7Z" fill="#52ffa5"/>
<path d="M514.6 928.5L505.9 937.2L505.0 935.2L500.2 944.5L509.5 939.7L507.5 938.8L516.2 930.1Z" fill="#ceff29"/>
<path d="M532.5 926.4L532.5 938.2L530.4 937.4L533.6 947.4L536.8 937.4L534.8 938.2L534.8 926.4Z" fill="#f7f600"/>
<path d="M39.8 964.2L30.1 957.7L31.9 956.4L21.8 953.5L28.3 961.7L28.8 959.6L38.6 966.2Z" fill="#f7f600"/>
<path d="M65.8 958.2L56.0 958.2L56.8 956.1L46.8 959.3L56.8 962.5L56.0 960.5L65.8 960.5Z" fill="#ff9700"/>
<path d="M85.7 950.4L80.9 959.1L79.5 957.4L77.5 967.7L85.1 960.5L82.9 960.2L87.7 951.6Z" fill="#ff9700"/>
<path d="M112.0 968.3L108.8 958.4L111.0 958.5L104.9 950.0L104.9 960.5L106.6 959.1L109.8 969.0Z" fill="#ffaf00"/>
<path d="M144.1 960.9L132.7 957.9L134.1 956.1L123.6 956.6L132.4 962.3L132.2 960.1L143.5 963.2Z" fill="#f7f600"/>
<path d="M169.4 954.5L157.4 958.9L157.5 956.6L149.2 963.1L159.7 962.7L158.2 961.0L170.2 956.7Z" fill="#90ff67"/>
<path d="M176.1 965.3L187.3 959.6L187.6 961.8L195.0 954.4L184.6 956.0L186.3 957.5L175.1 963.3Z" fill="#3effb9"/>
<path d="M201.0 963.6L213.1 959.9L212.9 962.1L221.5 956.1L211.0 956.0L212.4 957.7L200.3 961.4Z" fill="#3effb9"/>
<path d="M227.6 953.5L237.6 961.3L235.7 962.5L245.5 966.1L239.6 957.4L239.0 959.5L229.0 951.7Z" fill="#52ffa5"/>
<path d="M261.6 948.6L261.6 960.9L259.5 960.1L262.7 970.1L265.9 960.1L263.9 960.9L263.9 948.6Z" fill="#ceff29"/>
<path d="M280.6 967.0L290.6 959.2L291.2 961.3L297.1 952.6L287.3 956.2L289.2 957.3L279.2 965.2Z" fill="#52ffa5"/>
<path d="M303.5 957.2L315.6 960.9L314.2 962.7L324.7 962.5L316.1 956.5L316.3 958.7L304.2 955.0Z" fill="#3effb9"/>
<path d="M329.9 955.4L341.1 961.1L339.4 962.6L349.8 964.3L342.4 956.9L342.1 959.1L330.9 953.4Z" fill="#3effb9"/>
<path d="M376.6 962.0L364.6 957.6L366.1 956.0L355.6 955.6L363.9 962.0L363.8 959.8L375.8 964.2Z" fill="#90ff67"/>
<path d="M401.5 955.5L390.2 958.6L390.4 956.3L381.6 962.0L392.1 962.6L390.7 960.8L402.1 957.7Z" fill="#f7f600"/>
<path d="M419.4 949.6L416.2 959.6L414.5 958.2L414.5 968.7L420.6 960.2L418.4 960.3L421.6 950.3Z" fill="#ffaf00"/>
<path d="M448.9 967.1L444.1 958.5L446.3 958.2L438.7 951.0L440.7 961.3L442.1 959.6L446.9 968.2Z" fill="#ff9700"/>
<path d="M478.6 958.2L468.8 958.2L469.6 956.1L459.6 959.3L469.6 962.5L468.8 960.5L478.6 960.5Z" fill="#ff9700"/>
<path d="M503.0 952.5L493.2 959.1L492.7 956.9L486.2 965.2L496.3 962.3L494.5 961.0L504.2 954.4Z" fill="#f7f600"/>
<path d="M511.6 965.7L522.8 959.5L523.1 961.7L530.3 954.0L520.0 956.0L521.7 957.5L510.5 963.7Z" fill="#7bff7b"/>
<path d="M10.9 973.2L17.5 983.7L15.3 984.1L23.3 990.9L20.7 980.7L19.4 982.5L12.9 972.0Z" fill="#ceff29"/>
<path d="M37.4 976.6L41.7 981.5L39.6 982.2L48.6 987.7L44.4 978.0L43.4 980.0L39.1 975.1Z" fill="#ff3900"/>
<path d="M70.8 981.7L70.0 983.1L68.4 983.1L67.6 981.7L68.4 980.3L70.0 980.3Z" fill="#910000"/>
<path d="M96.2 987.0L96.2 985.7L98.2 986.5L95.0 976.5L91.8 986.5L93.8 985.7L93.8 987.0Z" fill="#c50000"/>
<path d="M125.5 984.2L124.6 983.4L126.5 982.3L116.8 978.4L122.4 987.3L123.1 985.2L124.1 986.0Z" fill="#c50000"/>
<path d="M154.2 977.1L146.5 980.5L146.4 978.3L138.6 985.3L149.0 984.2L147.4 982.6L155.1 979.2Z" fill="#ff6800"/>
<path d="M165.9 990.7L174.4 981.2L175.4 983.2L179.8 973.6L170.7 978.9L172.7 979.6L164.2 989.1Z" fill="#90ff67"/>
<path d="M191.4 989.4L199.7 981.9L200.5 984.0L205.8 974.9L196.2 979.2L198.1 980.2L189.9 987.7Z" fill="#0099ff"/>
<path d="M216.8 980.1L221.8 982.1L220.3 983.7L230.8 984.5L222.7 977.7L222.7 980.0L217.7 977.9Z" fill="#0000c5"/>
<path d="M248.7 973.3L248.7 981.0L246.6 980.2L249.8 990.2L253.0 980.2L251.0 981.0L251.0 973.3Z" fill="#0000ff"/>
<path d="M276.8 990.2L276.8 982.5L278.8 983.3L275.6 973.3L272.4 983.3L274.5 982.5L274.5 990.2Z" fill="#0000ff"/>
<path d="M295.1 985.5L300.1 983.5L300.1 985.7L308.2 979.0L297.7 979.8L299.2 981.4L294.2 983.4Z" fill="#0000c5"/>
<path d="M318.9 975.8L327.1 983.2L325.2 984.2L334.8 988.5L329.5 979.5L328.7 981.5L320.4 974.1Z" fill="#0099ff"/>
<path d="M344.8 974.3L353.3 983.8L351.3 984.6L360.4 989.9L356.0 980.3L355.0 982.3L346.5 972.8Z" fill="#90ff67"/>
<path d="M387.3 984.3L379.6 980.9L381.2 979.3L370.8 978.2L378.6 985.2L378.7 983.0L386.4 986.4Z" fill="#ff6800"/>
<path d="M407.9 977.5L406.9 978.3L406.2 976.2L400.6 985.1L410.3 981.1L408.4 980.1L409.3 979.3Z" fill="#c50000"/>
<path d="M429.3 976.5L429.3 977.8L427.2 977.0L430.4 987.0L433.6 977.0L431.6 977.8L431.6 976.5Z" fill="#c50000"/>
<path d="M457.8 981.7L457.0 983.1L455.4 983.1L454.6 981.7L455.4 980.3L457.0 980.3Z" fill="#910000"/>
<path d="M477.7 988.4L482.0 983.5L483.0 985.5L487.2 975.8L478.2 981.2L480.3 982.0L476.0 986.9Z" fill="#ff3900"/>
<path d="M503.1 991.5L509.6 981.0L510.9 982.8L513.5 972.6L505.5 979.4L507.7 979.8L501.1 990.3Z" fill="#ceff29"/>
<path d="M535.2 981.7L534.4 983.1L532.8 983.1L532.0 981.7L532.8 980.3L534.4 980.3Z" fill="#00e5f7"/>
<path d="M34.7 994.2L28.7 1005.0L27.3 1003.3L25.3 1013.6L32.9 1006.4L30.7 1006.1L36.7 995.3Z" fill="#ceff29"/>
<path d="M51.1 1005.3L52.3 1005.3L51.5 1007.4L61.5 1004.1L51.5 1000.9L52.3 1003.0L51.1 1003.0Z" fill="#c50000"/>
<path d="M80.7 1008.9L81.0 1008.2L82.4 1009.8L84.5 1000.0L77.0 1006.8L79.1 1007.1L78.7 1007.8Z" fill="#b90000"/>
<path d="M106.8 999.4L106.8 1000.1L104.8 999.4L107.9 1008.9L111.0 999.4L109.0 1000.1L109.0 999.4Z" fill="#b90000"/>
<path d="M135.3 1004.1L134.5 1005.5L132.9 1005.5L132.1 1004.1L132.9 1002.8L134.5 1002.8Z" fill="#910000"/>
<path d="M160.7 1013.7L160.7 1003.8L162.7 1004.6L159.5 994.6L156.3 1004.6L158.3 1003.8L158.3 1013.7Z" fill="#ff9700"/>
<path d="M186.5 1015.1L186.5 1002.4L188.5 1003.2L185.3 993.2L182.1 1003.2L184.2 1002.4L184.2 1015.1Z" fill="#52ffa5"/>
<path d="M212.7 1004.1L211.9 1005.5L210.3 1005.5L209.5 1004.1L210.3 1002.8L211.9 1002.8Z" fill="#00009c"/>
<path d="M235.8 995.7L235.8 1003.4L233.7 1002.6L236.9 1012.6L240.1 1002.6L238.1 1003.4L238.1 995.7Z" fill="#0000ff"/>
<path d="M263.9 1013.0L263.9 1004.5L265.9 1005.3L262.7 995.3L259.5 1005.3L261.6 1004.5L261.6 1013.0Z" fill="#001aff"/>
<path d="M289.6 1012.6L289.6 1004.9L291.7 1005.7L288.5 995.7L285.3 1005.7L287.4 1004.9L287.4 1012.6Z" fill="#0000ff"/>
<path d="M315.9 1004.1L315.1 1005.5L313.5 1005.5L312.7 1004.1L313.5 1002.8L315.1 1002.8Z" fill="#00009c"/>
<path d="M339.0 993.2L339.0 1005.9L336.9 1005.1L340.1 1015.1L343.3 1005.1L341.2 1005.9L341.2 993.2Z" fill="#52ffa5"/>
<path d="M364.8 994.6L364.8 1004.5L362.7 1003.7L365.9 1013.7L369.1 1003.7L367.1 1004.5L367.1 994.6Z" fill="#ff9700"/>
<path d="M393.3 1004.1L392.5 1005.5L390.9 1005.5L390.1 1004.1L390.9 1002.8L392.5 1002.8Z" fill="#910000"/>
<path d="M418.6 1008.9L418.6 1008.2L420.6 1008.9L417.5 999.4L414.4 1008.9L416.4 1008.2L416.4 1008.9Z" fill="#b90000"/>
<path d="M439.9 1000.5L440.3 1001.2L438.2 1001.5L445.7 1008.3L443.6 998.5L442.2 1000.1L441.9 999.4Z" fill="#b90000"/>
<path d="M463.9 1005.3L465.1 1005.3L464.3 1007.4L474.3 1004.1L464.3 1000.9L465.1 1003.0L463.9 1003.0Z" fill="#c50000"/>
<path d="M501.1 1013.0L495.1 1002.2L497.3 1001.9L489.7 994.7L491.7 1005.0L493.1 1003.3L499.1 1014.1Z" fill="#ceff29"/>
<path d="M524.1 1012.4L521.9 1004.2L524.1 1004.4L518.4 995.6L517.9 1006.1L519.7 1004.8L521.9 1013.0Z" fill="#001aff"/>
<path d="M25.7 1019.5L15.8 1026.4L15.2 1024.3L8.9 1032.7L18.9 1029.6L17.1 1028.3L27.0 1021.4Z" fill="#00e5f7"/>
<path d="M33.9 1031.8L45.3 1027.0L45.4 1029.2L53.3 1022.3L42.9 1023.3L44.4 1024.9L33.0 1029.7Z" fill="#ceff29"/>
<path d="M59.9 1024.1L69.1 1027.7L67.5 1029.4L78.0 1030.1L70.0 1023.4L69.9 1025.6L60.8 1021.9Z" fill="#ff9700"/>
<path d="M91.5 1019.4L93.5 1025.6L91.3 1025.5L97.4 1034.0L97.4 1023.5L95.7 1024.9L93.7 1018.7Z" fill="#ff3900"/>
<path d="M117.0 1032.9L120.4 1028.8L121.5 1030.7L125.5 1021.0L116.6 1026.6L118.7 1027.3L115.2 1031.4Z" fill="#ff2100"/>
<path d="M138.0 1024.3L145.8 1027.5L144.3 1029.1L154.8 1029.9L146.7 1023.1L146.7 1025.3L138.9 1022.2Z" fill="#ff6800"/>
<path d="M181.1 1032.8L172.1 1024.7L174.1 1023.7L164.5 1019.4L169.8 1028.5L170.6 1026.4L179.5 1034.5Z" fill="#e2ff15"/>
<path d="M208.1 1031.4L197.3 1024.7L199.1 1023.3L188.9 1020.8L195.7 1028.8L196.1 1026.6L206.9 1033.3Z" fill="#52ffa5"/>
<path d="M234.0 1025.4L223.2 1025.4L224.0 1023.3L214.0 1026.6L224.0 1029.8L223.2 1027.7L234.0 1027.7Z" fill="#0080ff"/>
<path d="M253.9 1017.4L248.4 1026.6L247.1 1024.9L244.7 1035.1L252.6 1028.2L250.4 1027.8L255.9 1018.6Z" fill="#0080ff"/>
<path d="M281.7 1034.5L276.2 1025.3L278.4 1024.9L270.5 1018.0L272.9 1028.3L274.2 1026.5L279.7 1035.7Z" fill="#0080ff"/>
<path d="M311.4 1025.4L300.6 1025.4L301.4 1023.3L291.4 1026.6L301.4 1029.8L300.6 1027.7L311.4 1027.7Z" fill="#0080ff"/>
<path d="M335.9 1019.8L325.1 1026.5L324.7 1024.3L317.9 1032.4L328.1 1029.8L326.3 1028.5L337.1 1021.7Z" fill="#52ffa5"/>
<path d="M360.1 1018.6L351.2 1026.7L350.4 1024.6L345.1 1033.7L354.7 1029.4L352.7 1028.4L361.7 1020.3Z" fill="#e2ff15"/>
<path d="M371.1 1030.9L378.9 1027.8L378.9 1030.0L387.0 1023.3L376.5 1024.0L378.0 1025.6L370.2 1028.8Z" fill="#ff6800"/>
<path d="M399.0 1021.7L402.5 1025.8L400.4 1026.5L409.3 1032.1L405.3 1022.4L404.2 1024.3L400.8 1020.2Z" fill="#ff2100"/>
<path d="M429.1 1034.4L431.1 1028.2L432.8 1029.6L432.8 1019.1L426.7 1027.6L428.9 1027.5L426.9 1033.7Z" fill="#ff3900"/>
<path d="M447.8 1031.2L456.9 1027.5L457.0 1029.7L465.0 1023.0L454.5 1023.8L456.1 1025.4L446.9 1029.1Z" fill="#ff9700"/>
<path d="M471.6 1023.4L483.0 1028.2L481.5 1029.8L491.9 1030.8L484.0 1023.9L483.9 1026.1L472.5 1021.3Z" fill="#ceff29"/>
<path d="M498.4 1021.4L508.3 1028.3L506.5 1029.6L516.5 1032.7L510.2 1024.3L509.6 1026.4L499.7 1019.5Z" fill="#00e5f7"/>
<path d="M535.2 1026.6L534.4 1028.0L532.8 1028.0L532.0 1026.6L532.8 1025.2L534.4 1025.2Z" fill="#b90000"/>
<path d="M21.4 1054.9L32.5 1049.3L32.7 1051.5L40.2 1044.0L29.8 1045.7L31.4 1047.2L20.3 1052.9Z" fill="#29ffce"/>
<path d="M45.8 1050.1L57.6 1050.1L56.8 1052.2L66.8 1049.0L56.8 1045.8L57.6 1047.8L45.8 1047.8Z" fill="#00ccff"/>
<path d="M75.8 1039.9L81.9 1051.1L79.7 1051.4L87.4 1058.6L85.4 1048.2L84.0 1050.0L77.8 1038.8Z" fill="#52ffa5"/>
<path d="M106.4 1059.9L109.4 1047.5L111.3 1048.8L110.6 1038.3L105.0 1047.2L107.2 1047.0L104.1 1059.4Z" fill="#90ff67"/>
<path d="M123.6 1052.9L135.5 1049.7L135.3 1051.9L144.1 1046.2L133.6 1045.7L134.9 1047.5L123.0 1050.6Z" fill="#ceff29"/>
<path d="M149.5 1044.8L160.3 1050.7L158.6 1052.2L168.9 1054.2L161.7 1046.5L161.4 1048.7L150.6 1042.7Z" fill="#ceff29"/>
<path d="M176.6 1042.7L185.6 1050.8L183.6 1051.8L193.2 1056.1L187.9 1047.0L187.1 1049.1L178.2 1041.0Z" fill="#e2ff15"/>
<path d="M221.2 1052.0L210.4 1047.4L211.9 1045.8L201.4 1044.9L209.4 1051.7L209.5 1049.5L220.3 1054.1Z" fill="#f7f600"/>
<path d="M245.7 1044.0L235.6 1048.3L235.6 1046.0L227.6 1052.9L238.1 1052.0L236.5 1050.4L246.6 1046.1Z" fill="#ffc600"/>
<path d="M261.6 1038.9L261.6 1049.9L259.5 1049.0L262.7 1059.1L265.9 1049.0L263.9 1049.9L263.9 1038.9Z" fill="#ffc600"/>
<path d="M298.2 1051.9L288.1 1047.6L289.7 1046.0L279.2 1045.0L287.2 1051.9L287.2 1049.7L297.3 1054.0Z" fill="#ffc600"/>
<path d="M323.5 1043.8L312.7 1048.4L312.6 1046.2L304.6 1053.1L315.1 1052.1L313.6 1050.5L324.4 1045.9Z" fill="#f7f600"/>
<path d="M333.0 1057.0L341.9 1048.9L342.7 1050.9L348.0 1041.8L338.4 1046.1L340.4 1047.1L331.4 1055.2Z" fill="#e2ff15"/>
<path d="M357.0 1055.2L367.8 1049.2L368.1 1051.4L375.3 1043.7L365.0 1045.8L366.7 1047.2L355.9 1053.2Z" fill="#ceff29"/>
<path d="M381.0 1047.3L392.9 1050.5L391.6 1052.3L402.1 1051.8L393.3 1046.1L393.5 1048.3L381.6 1045.1Z" fill="#ceff29"/>
<path d="M413.7 1038.6L416.8 1051.0L414.6 1050.7L420.2 1059.6L420.9 1049.1L419.0 1050.4L416.0 1038.0Z" fill="#90ff67"/>
<path d="M439.0 1059.1L445.2 1048.0L446.6 1049.7L448.6 1039.4L440.9 1046.6L443.1 1046.9L437.0 1058.0Z" fill="#52ffa5"/>
<path d="M458.6 1050.1L470.4 1050.1L469.6 1052.2L479.6 1049.0L469.6 1045.8L470.4 1047.8L458.6 1047.8Z" fill="#00ccff"/>
<path d="M484.7 1045.1L495.8 1050.7L494.2 1052.2L504.6 1053.9L497.1 1046.5L496.9 1048.7L485.8 1043.0Z" fill="#29ffce"/>
<path d="M512.6 1045.3L519.8 1049.8L518.0 1051.1L528.2 1053.7L521.4 1045.6L521.0 1047.8L513.8 1043.3Z" fill="#001aff"/>
<path d="M11.6 1080.3L19.4 1071.0L20.5 1073.0L24.4 1063.2L15.5 1068.8L17.6 1069.5L9.9 1078.8Z" fill="#00e5f7"/>
<path d="M37.6 1077.7L43.6 1072.7L44.3 1074.8L49.9 1065.9L40.2 1069.9L42.1 1071.0L36.2 1075.9Z" fill="#0000ff"/>
<path d="M64.7 1065.8L67.1 1070.1L65.0 1070.5L72.7 1077.5L70.5 1067.2L69.1 1069.0L66.7 1064.7Z" fill="#0000b9"/>
<path d="M93.8 1062.9L93.8 1070.7L91.8 1069.8L95.0 1079.9L98.2 1069.8L96.2 1070.7L96.2 1062.9Z" fill="#0000ff"/>
<path d="M115.4 1078.4L121.4 1072.4L122.3 1074.5L127.1 1065.1L117.7 1069.9L119.7 1070.8L113.7 1076.8Z" fill="#001aff"/>
<path d="M137.1 1072.5L146.9 1072.5L146.1 1074.6L156.1 1071.4L146.1 1068.2L146.9 1070.2L137.1 1070.2Z" fill="#004dff"/>
<path d="M163.9 1064.5L172.8 1073.4L170.8 1074.3L180.1 1079.1L175.3 1069.7L174.4 1071.8L165.5 1062.9Z" fill="#3effb9"/>
<path d="M190.3 1064.4L198.2 1073.1L196.1 1073.9L205.2 1079.2L200.9 1069.6L199.9 1071.6L192.0 1062.8Z" fill="#f7f600"/>
<path d="M229.8 1072.3L227.6 1071.5L229.1 1069.8L218.6 1069.4L226.9 1075.8L226.8 1073.6L229.1 1074.4Z" fill="#d60000"/>
<path d="M253.1 1067.1L252.1 1067.9L251.4 1065.8L245.8 1074.7L255.5 1070.8L253.6 1069.7L254.5 1068.9Z" fill="#c50000"/>
<path d="M280.3 1073.9L279.4 1073.1L281.3 1072.0L271.6 1068.0L277.2 1076.9L277.9 1074.8L278.9 1075.6Z" fill="#c50000"/>
<path d="M306.5 1068.3L304.2 1069.1L304.3 1066.9L296.0 1073.4L306.5 1073.0L305.0 1071.3L307.2 1070.5Z" fill="#d60000"/>
<path d="M321.0 1079.9L328.9 1071.2L329.9 1073.2L334.2 1063.6L325.1 1068.9L327.2 1069.6L319.3 1078.4Z" fill="#f7f600"/>
<path d="M346.1 1079.9L355.0 1071.0L355.9 1073.0L360.7 1063.7L351.4 1068.5L353.4 1069.4L344.5 1078.3Z" fill="#3effb9"/>
<path d="M369.3 1072.5L379.1 1072.5L378.3 1074.6L388.3 1071.4L378.3 1068.2L379.1 1070.2L369.3 1070.2Z" fill="#004dff"/>
<path d="M397.5 1065.9L403.5 1071.9L401.5 1072.8L410.9 1077.6L406.1 1068.3L405.2 1070.3L399.2 1064.3Z" fill="#001aff"/>
<path d="M431.6 1079.9L431.6 1072.1L433.6 1072.9L430.4 1062.9L427.2 1072.9L429.3 1072.1L429.3 1079.9Z" fill="#0000ff"/>
<path d="M453.7 1078.1L456.1 1073.8L457.5 1075.5L459.7 1065.2L452.0 1072.3L454.1 1072.6L451.7 1076.9Z" fill="#0000b9"/>
<path d="M474.8 1066.8L480.7 1071.8L478.8 1072.9L488.5 1076.8L482.9 1067.9L482.2 1070.0L476.2 1065.1Z" fill="#0000ff"/>
<path d="M515.5 1078.8L507.8 1069.5L509.9 1068.8L501.0 1063.2L504.9 1073.0L506.0 1071.0L513.8 1080.3Z" fill="#00e5f7"/>
<path d="M535.2 1071.4L534.4 1072.8L532.8 1072.8L532.0 1071.4L532.8 1070.0L534.4 1070.0Z" fill="#0000b9"/>
<path d="M34.3 1104.1L31.2 1091.9L33.4 1092.1L27.9 1083.2L27.2 1093.7L29.0 1092.4L32.0 1104.7Z" fill="#3effb9"/>
<path d="M63.4 1092.6L58.4 1092.6L59.2 1090.6L49.2 1093.8L59.2 1097.0L58.4 1094.9L63.4 1094.9Z" fill="#0000b9"/>
<path d="M85.4 1086.3L81.7 1092.2L80.4 1090.4L77.8 1100.6L85.9 1093.9L83.7 1093.4L87.3 1087.6Z" fill="#0000f3"/>
<path d="M105.3 1101.5L108.4 1095.3L109.9 1097.0L111.6 1086.6L104.2 1094.1L106.4 1094.3L103.2 1100.5Z" fill="#0000f3"/>
<path d="M130.2 1099.8L133.1 1096.3L134.1 1098.3L138.1 1088.5L129.2 1094.1L131.3 1094.8L128.4 1098.3Z" fill="#0000ae"/>
<path d="M158.3 1085.7L158.3 1092.7L156.3 1091.9L159.5 1101.9L162.7 1091.9L160.7 1092.7L160.7 1085.7Z" fill="#0000f3"/>
<path d="M184.2 1082.8L184.2 1095.6L182.1 1094.7L185.3 1104.8L188.5 1094.7L186.5 1095.6L186.5 1082.8Z" fill="#52ffa5"/>
<path d="M212.7 1086.0L210.5 1092.1L208.8 1090.7L208.4 1101.2L214.9 1092.9L212.6 1092.9L214.9 1086.8Z" fill="#ff3900"/>
<path d="M238.5 1093.8L237.7 1095.2L236.1 1095.2L235.3 1093.8L236.1 1092.4L237.7 1092.4Z" fill="#800000"/>
<path d="M261.6 1089.0L261.6 1089.8L259.6 1089.0L262.7 1098.6L265.8 1089.0L263.8 1089.8L263.8 1089.0Z" fill="#b90000"/>
<path d="M290.1 1093.8L289.3 1095.2L287.7 1095.2L286.9 1093.8L287.7 1092.4L289.3 1092.4Z" fill="#800000"/>
<path d="M318.1 1100.8L315.8 1094.7L318.1 1094.7L311.6 1086.4L312.0 1096.9L313.7 1095.4L315.9 1101.6Z" fill="#ff3900"/>
<path d="M341.2 1104.8L341.2 1092.0L343.3 1092.8L340.1 1082.8L336.9 1092.8L339.0 1092.0L339.0 1104.8Z" fill="#52ffa5"/>
<path d="M367.1 1101.9L367.1 1094.9L369.1 1095.7L365.9 1085.7L362.7 1095.7L364.8 1094.9L364.8 1101.9Z" fill="#0000f3"/>
<path d="M386.4 1089.3L389.3 1092.7L387.2 1093.4L396.1 1099.0L392.1 1089.3L391.1 1091.3L388.2 1087.8Z" fill="#0000ae"/>
<path d="M412.8 1087.1L416.0 1093.3L413.8 1093.5L421.2 1101.0L419.5 1090.6L418.0 1092.3L414.9 1086.1Z" fill="#0000f3"/>
<path d="M448.5 1100.0L444.9 1094.1L447.1 1093.7L439.0 1087.0L441.6 1097.1L442.9 1095.4L446.6 1101.2Z" fill="#0000f3"/>
<path d="M476.2 1092.6L471.2 1092.6L472.0 1090.6L462.0 1093.8L472.0 1097.0L471.2 1094.9L476.2 1094.9Z" fill="#0000b9"/>
<path d="M496.4 1082.9L493.4 1095.2L491.6 1093.9L492.3 1104.4L497.8 1095.4L495.6 1095.7L498.7 1083.5Z" fill="#3effb9"/>
<path d="M524.9 1083.9L519.0 1094.5L517.6 1092.8L515.5 1103.1L523.2 1095.9L521.0 1095.6L526.9 1085.0Z" fill="#00e5f7"/>
<path d="M26.3 1122.2L17.4 1114.5L19.3 1113.4L9.7 1109.3L15.1 1118.3L15.9 1116.2L24.8 1124.0Z" fill="#f7f600"/>
<path d="M53.9 1119.4L42.3 1114.5L43.8 1112.9L33.4 1111.9L41.3 1118.8L41.4 1116.6L53.0 1121.5Z" fill="#3effb9"/>
<path d="M77.9 1111.3L68.1 1115.4L68.0 1113.2L60.0 1120.1L70.5 1119.1L69.0 1117.6L78.8 1113.4Z" fill="#0080ff"/>
<path d="M97.6 1107.0L93.8 1116.0L92.2 1114.4L91.3 1124.9L98.2 1117.0L96.0 1116.9L99.8 1107.9Z" fill="#004dff"/>
<path d="M124.1 1123.1L122.4 1117.4L124.6 1117.6L118.6 1108.9L118.4 1119.4L120.2 1118.1L121.9 1123.8Z" fill="#0000d6"/>
<path d="M154.2 1115.0L148.2 1115.0L149.0 1113.0L139.0 1116.2L149.0 1119.4L148.2 1117.4L154.2 1117.4Z" fill="#0000d6"/>
<path d="M179.9 1108.6L170.6 1116.2L169.9 1114.1L164.1 1122.9L173.9 1119.1L172.0 1118.0L181.4 1110.4Z" fill="#00e5f7"/>
<path d="M206.4 1108.8L196.1 1116.3L195.5 1114.2L189.3 1122.7L199.3 1119.4L197.4 1118.2L207.8 1110.7Z" fill="#90ff67"/>
<path d="M214.5 1117.4L224.3 1117.4L223.5 1119.4L233.5 1116.2L223.5 1113.0L224.3 1115.0L214.5 1115.0Z" fill="#ff9700"/>
<path d="M244.2 1111.4L247.7 1115.5L245.6 1116.2L254.5 1121.8L250.5 1112.0L249.4 1114.0L246.0 1109.9Z" fill="#ff2100"/>
<path d="M271.8 1122.5L275.2 1118.4L276.3 1120.4L280.3 1110.6L271.4 1116.2L273.5 1116.9L270.0 1121.0Z" fill="#ff2100"/>
<path d="M291.9 1117.4L301.7 1117.4L300.9 1119.4L310.9 1116.2L300.9 1113.0L301.7 1115.0L291.9 1115.0Z" fill="#ff9700"/>
<path d="M336.8 1121.7L326.4 1114.2L328.3 1113.0L318.3 1109.7L324.5 1118.2L325.1 1116.1L335.4 1123.6Z" fill="#90ff67"/>
<path d="M362.0 1122.0L352.6 1114.4L354.5 1113.3L344.7 1109.5L350.5 1118.3L351.2 1116.2L360.5 1123.8Z" fill="#00e5f7"/>
<path d="M386.4 1115.0L380.4 1115.0L381.2 1113.0L371.2 1116.2L381.2 1119.4L380.4 1117.4L386.4 1117.4Z" fill="#0000d6"/>
<path d="M405.7 1108.6L404.0 1114.3L402.2 1113.0L402.4 1123.5L408.4 1114.8L406.2 1115.0L407.9 1109.3Z" fill="#0000d6"/>
<path d="M435.2 1124.5L431.4 1115.5L433.6 1115.4L426.7 1107.5L427.6 1118.0L429.2 1116.4L433.0 1125.4Z" fill="#004dff"/>
<path d="M465.8 1119.0L456.0 1114.8L457.5 1113.3L447.0 1112.3L455.0 1119.2L455.1 1117.0L464.9 1121.1Z" fill="#0080ff"/>
<path d="M491.6 1110.9L480.0 1115.8L479.9 1113.6L472.0 1120.5L482.4 1119.5L480.9 1117.9L492.5 1113.0Z" fill="#3effb9"/>
<path d="M515.0 1108.4L506.1 1116.2L505.3 1114.1L499.9 1123.1L509.5 1119.0L507.6 1117.9L516.5 1110.2Z" fill="#f7f600"/>
<path d="M532.5 1105.7L532.5 1117.5L530.4 1116.7L533.6 1126.7L536.8 1116.7L534.8 1117.5L534.8 1105.7Z" fill="#f7f600"/>
<path d="M39.2 1143.9L30.5 1137.2L32.4 1136.0L22.6 1132.4L28.5 1141.1L29.1 1139.0L37.7 1145.7Z" fill="#ffc600"/>
<path d="M66.4 1137.5L55.4 1137.5L56.2 1135.4L46.2 1138.6L56.2 1141.8L55.4 1139.8L66.4 1139.8Z" fill="#ffc600"/>
<path d="M87.7 1129.6L80.4 1138.9L79.3 1137.0L75.6 1146.9L84.3 1141.0L82.2 1140.3L89.5 1131.0Z" fill="#f7f600"/>
<path d="M109.1 1149.4L109.1 1137.0L111.1 1137.8L107.9 1127.8L104.7 1137.8L106.8 1137.0L106.8 1149.4Z" fill="#ceff29"/>
<path d="M144.2 1142.2L132.6 1136.8L134.2 1135.3L123.7 1134.0L131.4 1141.1L131.6 1138.9L143.2 1144.3Z" fill="#7bff7b"/>
<path d="M169.4 1133.8L157.5 1138.1L157.5 1135.9L149.2 1142.4L159.7 1142.0L158.2 1140.3L170.2 1135.9Z" fill="#52ffa5"/>
<path d="M194.3 1132.3L183.2 1138.5L182.9 1136.3L175.7 1143.9L186.0 1141.9L184.3 1140.5L195.4 1134.3Z" fill="#52ffa5"/>
<path d="M201.3 1143.6L213.2 1139.1L213.1 1141.3L221.3 1134.7L210.8 1135.3L212.3 1136.9L200.5 1141.5Z" fill="#52ffa5"/>
<path d="M226.8 1134.1L237.9 1140.5L236.2 1141.9L246.4 1144.1L239.4 1136.3L239.0 1138.5L227.9 1132.1Z" fill="#7bff7b"/>
<path d="M261.6 1127.8L261.6 1140.2L259.5 1139.4L262.7 1149.4L265.9 1139.4L263.9 1140.2L263.9 1127.8Z" fill="#ceff29"/>
<path d="M279.5 1145.1L290.6 1138.7L291.0 1140.9L298.0 1133.1L287.8 1135.3L289.5 1136.7L278.4 1143.1Z" fill="#7bff7b"/>
<path d="M303.7 1135.8L315.5 1140.3L314.0 1142.0L324.5 1142.5L316.3 1135.9L316.4 1138.2L304.5 1133.6Z" fill="#52ffa5"/>
<path d="M350.2 1142.9L339.1 1136.8L340.8 1135.3L330.5 1133.3L337.7 1141.0L338.0 1138.8L349.1 1144.9Z" fill="#52ffa5"/>
<path d="M376.6 1141.3L364.6 1136.9L366.1 1135.3L355.6 1134.9L363.9 1141.3L363.9 1139.1L375.8 1143.4Z" fill="#52ffa5"/>
<path d="M401.2 1132.9L389.6 1138.3L389.4 1136.1L381.7 1143.3L392.2 1141.9L390.6 1140.4L402.2 1135.0Z" fill="#7bff7b"/>
<path d="M416.4 1127.8L416.4 1140.2L414.3 1139.4L417.5 1149.4L420.7 1139.4L418.6 1140.2L418.6 1127.8Z" fill="#ceff29"/>
<path d="M450.7 1146.2L443.4 1136.9L445.5 1136.2L436.8 1130.3L440.5 1140.2L441.6 1138.3L448.9 1147.6Z" fill="#f7f600"/>
<path d="M479.2 1137.5L468.2 1137.5L469.0 1135.4L459.0 1138.6L469.0 1141.8L468.2 1139.8L479.2 1139.8Z" fill="#ffc600"/>
<path d="M502.1 1131.5L493.5 1138.2L492.9 1136.1L487.0 1144.8L496.8 1141.2L494.9 1140.1L503.6 1133.3Z" fill="#ffc600"/>
<path d="M511.6 1144.9L522.8 1138.7L523.1 1140.9L530.3 1133.3L520.0 1135.3L521.7 1136.7L510.5 1142.9Z" fill="#7bff7b"/>
<path d="M9.8 1153.9L17.6 1162.8L15.5 1163.5L24.5 1168.9L20.4 1159.3L19.3 1161.2L11.6 1152.3Z" fill="#f7f600"/>
<path d="M36.9 1156.5L41.6 1160.9L39.6 1161.9L49.1 1166.4L44.0 1157.2L43.2 1159.3L38.4 1154.8Z" fill="#ff3900"/>
<path d="M71.8 1156.9L71.3 1157.4L70.4 1155.4L65.8 1164.4L74.8 1159.8L72.8 1159.0L73.4 1158.4Z" fill="#b90000"/>
<path d="M96.2 1168.3L96.2 1162.9L98.2 1163.7L95.0 1153.7L91.8 1163.7L93.8 1162.9L93.8 1168.3Z" fill="#ff2100"/>
<path d="M126.8 1166.2L122.5 1161.3L124.6 1160.5L115.6 1155.1L119.8 1164.8L120.8 1162.8L125.1 1167.7Z" fill="#ff3900"/>
<path d="M156.1 1159.9L146.3 1159.9L147.1 1157.8L137.1 1161.0L147.1 1164.2L146.3 1162.2L156.1 1162.2Z" fill="#ff9700"/>
<path d="M180.2 1153.2L170.3 1161.3L169.6 1159.1L163.9 1167.9L173.7 1164.1L171.7 1163.0L181.7 1155.0Z" fill="#90ff67"/>
<path d="M190.3 1168.2L200.0 1161.1L200.6 1163.3L206.8 1154.8L196.8 1158.0L198.7 1159.2L188.9 1166.3Z" fill="#00e5f7"/>
<path d="M216.4 1162.2L222.4 1162.2L221.6 1164.2L231.6 1161.0L221.6 1157.8L222.4 1159.9L216.4 1159.9Z" fill="#0000d6"/>
<path d="M246.4 1154.1L248.2 1159.9L246.0 1159.7L252.2 1168.3L252.1 1157.7L250.4 1159.1L248.5 1153.4Z" fill="#0000d6"/>
<path d="M274.3 1168.6L276.2 1162.9L277.9 1164.3L278.0 1153.8L271.8 1162.3L274.0 1162.2L272.2 1167.9Z" fill="#0000d6"/>
<path d="M293.8 1162.2L299.8 1162.2L299.0 1164.2L309.0 1161.0L299.0 1157.8L299.8 1159.9L293.8 1159.9Z" fill="#0000d6"/>
<path d="M317.9 1155.7L327.7 1162.8L325.8 1164.0L335.8 1167.3L329.6 1158.8L329.0 1160.9L319.3 1153.8Z" fill="#00e5f7"/>
<path d="M362.3 1167.0L352.3 1159.0L354.3 1157.9L344.5 1154.1L350.2 1162.9L350.9 1160.8L360.8 1168.8Z" fill="#90ff67"/>
<path d="M388.3 1159.9L378.5 1159.9L379.3 1157.8L369.3 1161.0L379.3 1164.2L378.5 1162.2L388.3 1162.2Z" fill="#ff9700"/>
<path d="M408.9 1154.3L404.6 1159.3L403.6 1157.3L399.4 1166.9L408.4 1161.5L406.3 1160.8L410.6 1155.8Z" fill="#ff3900"/>
<path d="M429.3 1153.7L429.3 1159.1L427.2 1158.3L430.4 1168.3L433.6 1158.3L431.6 1159.1L431.6 1153.7Z" fill="#ff2100"/>
<path d="M460.4 1163.6L459.8 1163.1L461.8 1162.2L452.8 1157.6L457.4 1166.6L458.3 1164.6L458.8 1165.2Z" fill="#b90000"/>
<path d="M477.0 1167.2L481.8 1162.8L482.6 1164.8L487.7 1155.7L478.2 1160.1L480.2 1161.1L475.5 1165.5Z" fill="#ff3900"/>
<path d="M501.8 1169.7L509.5 1160.8L510.6 1162.8L514.7 1153.1L505.7 1158.5L507.8 1159.3L500.0 1168.2Z" fill="#f7f600"/>
<path d="M535.2 1161.0L534.4 1162.4L532.8 1162.4L532.0 1161.0L532.8 1159.6L534.4 1159.6Z" fill="#00e5f7"/>
<path d="M29.4 1172.9L29.4 1184.7L27.3 1183.9L30.5 1193.9L33.7 1183.9L31.6 1184.7L31.6 1172.9Z" fill="#f7f600"/>
<path d="M57.9 1183.4L57.1 1184.8L55.5 1184.8L54.7 1183.4L55.5 1182.0L57.1 1182.0Z" fill="#800000"/>
<path d="M83.7 1183.4L82.9 1184.8L81.3 1184.8L80.5 1183.4L81.3 1182.0L82.9 1182.0Z" fill="#800000"/>
<path d="M112.7 1182.3L111.9 1182.3L112.7 1180.3L103.1 1183.4L112.7 1186.5L111.9 1184.5L112.7 1184.5Z" fill="#b90000"/>
<path d="M135.3 1183.4L134.5 1184.8L132.9 1184.8L132.1 1183.4L132.9 1182.0L134.5 1182.0Z" fill="#800000"/>
<path d="M161.1 1183.4L160.3 1184.8L158.7 1184.8L157.9 1183.4L158.7 1182.0L160.3 1182.0Z" fill="#800000"/>
<path d="M186.5 1194.4L186.5 1181.7L188.5 1182.5L185.3 1172.5L182.1 1182.5L184.2 1181.7L184.2 1194.4Z" fill="#a5ff52"/>
<path d="M212.7 1183.4L211.9 1184.8L210.3 1184.8L209.5 1183.4L210.3 1182.0L211.9 1182.0Z" fill="#0000b9"/>
<path d="M235.8 1173.5L235.8 1184.2L233.7 1183.4L236.9 1193.4L240.1 1183.4L238.1 1184.2L238.1 1173.5Z" fill="#0080ff"/>
<path d="M261.6 1174.0L261.6 1183.7L259.5 1182.9L262.7 1192.9L265.9 1182.9L263.9 1183.7L263.9 1174.0Z" fill="#004dff"/>
<path d="M289.6 1193.4L289.6 1182.7L291.7 1183.5L288.5 1173.5L285.3 1183.5L287.4 1182.7L287.4 1193.4Z" fill="#0080ff"/>
<path d="M315.9 1183.4L315.1 1184.8L313.5 1184.8L312.7 1183.4L313.5 1182.0L315.1 1182.0Z" fill="#0000b9"/>
<path d="M339.0 1172.5L339.0 1185.2L336.9 1184.4L340.1 1194.4L343.3 1184.4L341.2 1185.2L341.2 1172.5Z" fill="#a5ff52"/>
<path d="M367.5 1183.4L366.7 1184.8L365.1 1184.8L364.3 1183.4L365.1 1182.0L366.7 1182.0Z" fill="#800000"/>
<path d="M393.3 1183.4L392.5 1184.8L390.9 1184.8L390.1 1183.4L390.9 1182.0L392.5 1182.0Z" fill="#800000"/>
<path d="M422.3 1182.3L421.5 1182.3L422.3 1180.3L412.7 1183.4L422.3 1186.5L421.5 1184.5L422.3 1184.5Z" fill="#b90000"/>
<path d="M444.9 1183.4L444.1 1184.8L442.5 1184.8L441.7 1183.4L442.5 1182.0L444.1 1182.0Z" fill="#800000"/>
<path d="M470.7 1183.4L469.9 1184.8L468.3 1184.8L467.5 1183.4L468.3 1182.0L469.9 1182.0Z" fill="#800000"/>
<path d="M496.1 1193.9L496.1 1182.1L498.1 1182.9L494.9 1172.9L491.7 1182.9L493.8 1182.1L493.8 1193.9Z" fill="#f7f600"/>
<path d="M524.1 1191.7L521.9 1183.5L524.1 1183.7L518.4 1174.9L517.9 1185.4L519.7 1184.1L521.9 1192.3Z" fill="#001aff"/></g></g>
<g clip-path="url(#cpc)"><g filter="url(#bl)" stroke="#000" stroke-opacity="0.4" stroke-width="0.7" stroke-linejoin="round"><path d="M585.4 665.6L580.0 662.0L581.8 660.7L571.7 657.8L578.2 666.1L578.7 663.9L584.1 667.5Z" fill="#ff3900"/>
<path d="M612.0 669.7L603.7 660.2L605.8 659.4L596.8 654.0L601.0 663.6L602.0 661.7L610.3 671.2Z" fill="#3effb9"/>
<path d="M635.7 667.1L631.7 662.6L633.8 661.8L624.7 656.5L629.0 666.1L630.0 664.2L634.0 668.6Z" fill="#0000d6"/>
<path d="M657.2 662.2L656.4 663.6L654.8 663.6L654.0 662.2L654.8 660.8L656.4 660.8Z" fill="#000080"/>
<path d="M680.3 652.7L680.3 662.5L678.2 661.7L681.4 671.7L684.6 661.7L682.6 662.5L682.6 652.7Z" fill="#004dff"/>
<path d="M706.1 651.2L706.1 664.0L704.0 663.2L707.2 673.2L710.4 663.2L708.4 664.0L708.4 651.2Z" fill="#7bff7b"/>
<path d="M725.2 656.1L732.6 663.5L730.6 664.3L739.9 669.1L735.1 659.8L734.3 661.8L726.9 654.4Z" fill="#ffaf00"/>
<path d="M753.7 668.3L758.6 664.0L759.4 666.0L764.6 656.9L755.0 661.2L757.0 662.2L752.2 666.6Z" fill="#ff3900"/>
<path d="M782.4 671.5L785.8 662.3L787.5 663.8L787.9 653.2L781.4 661.5L783.6 661.5L780.3 670.8Z" fill="#ff9700"/>
<path d="M812.5 654.0L809.6 661.0L808.0 659.5L807.3 670.0L814.0 661.9L811.8 661.9L814.6 654.9Z" fill="#ff5000"/>
<path d="M837.8 662.2L837.0 663.6L835.4 663.6L834.6 662.2L835.4 660.8L837.0 660.8Z" fill="#910000"/>
<path d="M863.6 662.2L862.8 663.6L861.2 663.6L860.4 662.2L861.2 660.8L862.8 660.8Z" fill="#800000"/>
<path d="M895.0 665.6L889.6 662.0L891.4 660.7L881.3 657.8L887.8 666.1L888.3 663.9L893.7 667.5Z" fill="#ff3900"/>
<path d="M921.6 669.7L913.3 660.2L915.4 659.4L906.4 654.0L910.6 663.6L911.6 661.7L919.9 671.2Z" fill="#3effb9"/>
<path d="M945.3 667.1L941.3 662.6L943.4 661.8L934.3 656.5L938.6 666.1L939.6 664.2L943.6 668.6Z" fill="#0000d6"/>
<path d="M966.8 662.2L966.0 663.6L964.4 663.6L963.6 662.2L964.4 660.8L966.0 660.8Z" fill="#000080"/>
<path d="M989.9 652.7L989.9 662.5L987.8 661.7L991.0 671.7L994.2 661.7L992.1 662.5L992.1 652.7Z" fill="#004dff"/>
<path d="M1015.7 651.2L1015.7 664.0L1013.6 663.2L1016.8 673.2L1020.0 663.2L1018.0 664.0L1018.0 651.2Z" fill="#7bff7b"/>
<path d="M1034.8 656.1L1042.2 663.5L1040.2 664.3L1049.5 669.1L1044.7 659.8L1043.9 661.8L1036.5 654.4Z" fill="#ffaf00"/>
<path d="M1063.3 668.3L1068.2 664.0L1069.0 666.0L1074.2 656.9L1064.6 661.2L1066.6 662.2L1061.8 666.6Z" fill="#ff3900"/>
<path d="M571.6 686.7L568.1 684.7L569.9 683.4L559.6 681.1L566.6 688.9L567.0 686.7L570.4 688.7Z" fill="#f30900"/>
<path d="M601.8 683.3L589.6 683.3L590.5 681.2L580.4 684.4L590.5 687.7L589.6 685.6L601.8 685.6Z" fill="#e2ff15"/>
<path d="M627.4 686.6L615.9 682.9L617.3 681.2L606.8 681.2L615.3 687.3L615.2 685.1L626.7 688.8Z" fill="#00e5f7"/>
<path d="M651.9 683.3L642.7 683.3L643.5 681.2L633.5 684.4L643.5 687.7L642.7 685.6L651.9 685.6Z" fill="#0033ff"/>
<path d="M675.1 676.7L667.0 684.3L666.2 682.2L661.1 691.4L670.6 686.9L668.6 685.9L676.7 678.3Z" fill="#0099ff"/>
<path d="M693.1 673.6L693.1 686.1L691.1 685.3L694.3 695.3L697.5 685.3L695.4 686.1L695.4 673.6Z" fill="#b9ff3e"/>
<path d="M727.3 691.2L720.6 683.2L722.7 682.5L713.8 676.9L717.8 686.6L718.8 684.7L725.5 692.7Z" fill="#ffaf00"/>
<path d="M735.8 685.6L746.8 685.6L746.0 687.7L756.0 684.4L746.0 681.2L746.8 683.3L735.8 683.3Z" fill="#ffc600"/>
<path d="M764.0 692.1L773.6 684.3L774.3 686.5L780.1 677.7L770.3 681.5L772.2 682.6L762.6 690.3Z" fill="#ceff29"/>
<path d="M789.7 692.2L799.6 684.2L800.3 686.4L806.0 677.6L796.2 681.3L798.1 682.4L788.3 690.4Z" fill="#a5ff52"/>
<path d="M813.8 685.6L823.6 685.6L822.8 687.7L832.8 684.4L822.8 681.2L823.6 683.3L813.8 683.3Z" fill="#ff9700"/>
<path d="M847.9 679.2L847.9 680.5L845.9 679.7L849.1 689.7L852.3 679.7L850.2 680.5L850.2 679.2Z" fill="#c50000"/>
<path d="M868.6 682.1L872.1 684.1L870.3 685.5L880.6 687.7L873.6 679.9L873.2 682.1L869.8 680.1Z" fill="#f30900"/>
<path d="M911.4 683.3L899.2 683.3L900.1 681.2L890.0 684.4L900.1 687.7L899.2 685.6L911.4 685.6Z" fill="#e2ff15"/>
<path d="M937.0 686.6L925.5 682.9L926.9 681.2L916.4 681.2L924.9 687.3L924.8 685.1L936.3 688.8Z" fill="#00e5f7"/>
<path d="M961.5 683.3L952.3 683.3L953.1 681.2L943.1 684.4L953.1 687.7L952.3 685.6L961.5 685.6Z" fill="#0033ff"/>
<path d="M984.7 676.7L976.6 684.3L975.8 682.2L970.7 691.4L980.2 686.9L978.2 685.9L986.3 678.3Z" fill="#0099ff"/>
<path d="M1002.8 673.6L1002.8 686.1L1000.7 685.3L1003.9 695.3L1007.1 685.3L1005.0 686.1L1005.0 673.6Z" fill="#b9ff3e"/>
<path d="M1036.9 691.2L1030.2 683.2L1032.3 682.5L1023.4 676.9L1027.4 686.6L1028.4 684.7L1035.1 692.7Z" fill="#ffaf00"/>
<path d="M1045.4 685.6L1056.4 685.6L1055.6 687.7L1065.6 684.4L1055.6 681.2L1056.4 683.3L1045.4 683.3Z" fill="#ffc600"/>
<path d="M1073.6 692.1L1083.2 684.3L1083.9 686.5L1089.7 677.7L1079.9 681.5L1081.8 682.6L1072.2 690.3Z" fill="#ceff29"/>
<path d="M571.0 713.5L579.4 707.2L580.0 709.4L586.0 700.8L576.1 704.2L578.0 705.4L569.7 711.7Z" fill="#ffaf00"/>
<path d="M614.8 705.5L602.4 705.5L603.2 703.5L593.2 706.7L603.2 709.9L602.4 707.8L614.8 707.8Z" fill="#ceff29"/>
<path d="M640.7 708.6L628.4 705.1L629.7 703.3L619.2 703.7L628.0 709.5L627.8 707.3L640.0 710.8Z" fill="#90ff67"/>
<path d="M666.5 705.5L653.9 705.5L654.7 703.5L644.7 706.7L654.7 709.9L653.9 707.8L666.5 707.8Z" fill="#b9ff3e"/>
<path d="M686.7 700.7L681.7 704.9L681.0 702.8L675.4 711.7L685.1 707.8L683.2 706.7L688.2 702.5Z" fill="#ff3900"/>
<path d="M710.8 710.0L710.4 709.4L712.4 708.9L704.5 702.7L707.3 712.4L708.5 710.6L709.0 711.3Z" fill="#b90000"/>
<path d="M741.2 703.3L733.1 705.5L733.3 703.3L724.5 709.0L735.0 709.5L733.7 707.7L741.8 705.5Z" fill="#ff6800"/>
<path d="M751.3 714.8L760.9 706.4L761.7 708.5L767.1 699.5L757.4 703.6L759.4 704.6L749.8 713.0Z" fill="#90ff67"/>
<path d="M777.3 714.5L786.4 706.6L787.2 708.7L792.6 699.7L783.0 703.8L784.9 704.9L775.8 712.8Z" fill="#00e5f7"/>
<path d="M800.2 707.8L811.4 707.8L810.6 709.9L820.6 706.7L810.6 703.5L811.4 705.5L800.2 705.5Z" fill="#0099ff"/>
<path d="M827.9 699.5L836.5 708.7L834.5 709.5L843.6 714.7L839.2 705.1L838.2 707.1L829.6 697.9Z" fill="#3effb9"/>
<path d="M860.9 696.0L860.9 708.1L858.8 707.3L862.0 717.3L865.2 707.3L863.1 708.1L863.1 696.0Z" fill="#e2ff15"/>
<path d="M880.6 713.5L889.0 707.2L889.6 709.4L895.6 700.8L885.7 704.2L887.6 705.4L879.3 711.7Z" fill="#ffaf00"/>
<path d="M924.4 705.5L912.0 705.5L912.8 703.5L902.8 706.7L912.8 709.9L912.0 707.8L924.4 707.8Z" fill="#ceff29"/>
<path d="M950.3 708.6L938.0 705.1L939.3 703.3L928.8 703.7L937.6 709.5L937.4 707.3L949.6 710.8Z" fill="#90ff67"/>
<path d="M976.1 705.5L963.5 705.5L964.3 703.5L954.3 706.7L964.3 709.9L963.5 707.8L976.1 707.8Z" fill="#b9ff3e"/>
<path d="M996.3 700.7L991.3 704.9L990.6 702.8L985.0 711.7L994.7 707.8L992.8 706.7L997.8 702.5Z" fill="#ff3900"/>
<path d="M1020.4 710.0L1020.0 709.4L1022.0 708.9L1014.1 702.7L1016.9 712.4L1018.1 710.6L1018.6 711.3Z" fill="#b90000"/>
<path d="M1050.8 703.3L1042.7 705.5L1042.9 703.3L1034.1 709.0L1044.6 709.5L1043.3 707.7L1051.4 705.5Z" fill="#ff6800"/>
<path d="M1060.9 714.8L1070.5 706.4L1071.3 708.5L1076.7 699.5L1067.0 703.6L1069.0 704.6L1059.4 713.0Z" fill="#90ff67"/>
<path d="M564.1 718.4L564.1 730.2L562.1 729.4L565.3 739.4L568.5 729.4L566.4 730.2L566.4 718.4Z" fill="#f7f600"/>
<path d="M597.8 723.7L591.3 727.5L590.9 725.3L583.9 733.1L594.1 730.9L592.4 729.5L598.9 725.7Z" fill="#ff5000"/>
<path d="M625.8 734.2L616.7 727.3L618.6 726.2L608.7 722.7L614.7 731.3L615.3 729.2L624.4 736.0Z" fill="#ffde00"/>
<path d="M650.8 734.0L643.2 727.8L645.1 726.7L635.3 722.9L641.0 731.7L641.7 729.6L649.4 735.8Z" fill="#ff9700"/>
<path d="M673.7 730.4L672.5 729.8L674.2 728.3L663.9 726.5L671.2 734.0L671.5 731.8L672.6 732.4Z" fill="#c50000"/>
<path d="M695.9 728.9L695.1 730.3L693.5 730.3L692.7 728.9L693.5 727.5L695.1 727.5Z" fill="#800000"/>
<path d="M721.7 728.9L720.9 730.3L719.3 730.3L718.5 728.9L719.3 727.5L720.9 727.5Z" fill="#800000"/>
<path d="M743.0 738.4L747.2 728.8L748.8 730.4L749.9 719.9L742.9 727.8L745.1 727.9L740.9 737.4Z" fill="#ffaf00"/>
<path d="M769.0 738.3L773.0 728.9L774.6 730.4L775.5 720.0L768.6 727.9L770.8 728.0L766.8 737.4Z" fill="#0066ff"/>
<path d="M792.2 734.0L796.6 731.0L797.1 733.1L803.5 724.7L793.4 727.8L795.3 729.1L790.9 732.2Z" fill="#0000c5"/>
<path d="M817.5 723.8L821.4 728.4L819.3 729.2L828.2 734.7L824.2 725.0L823.2 727.0L819.3 722.4Z" fill="#0000d6"/>
<path d="M847.9 718.0L847.9 730.6L845.9 729.8L849.1 739.8L852.3 729.8L850.2 730.6L850.2 718.0Z" fill="#3effb9"/>
<path d="M873.8 718.4L873.8 730.2L871.7 729.4L874.9 739.4L878.1 729.4L876.0 730.2L876.0 718.4Z" fill="#f7f600"/>
<path d="M907.4 723.7L900.9 727.5L900.5 725.3L893.5 733.1L903.7 730.9L902.0 729.5L908.5 725.7Z" fill="#ff5000"/>
<path d="M935.4 734.2L926.3 727.3L928.2 726.2L918.3 722.7L924.3 731.3L924.9 729.2L934.0 736.0Z" fill="#ffde00"/>
<path d="M960.4 734.0L952.8 727.8L954.7 726.7L944.9 722.9L950.6 731.7L951.3 729.6L959.0 735.8Z" fill="#ff9700"/>
<path d="M983.3 730.4L982.1 729.8L983.8 728.3L973.5 726.5L980.8 734.0L981.1 731.8L982.2 732.4Z" fill="#c50000"/>
<path d="M1005.5 728.9L1004.7 730.3L1003.1 730.3L1002.3 728.9L1003.1 727.5L1004.7 727.5Z" fill="#800000"/>
<path d="M1031.3 728.9L1030.5 730.3L1028.9 730.3L1028.1 728.9L1028.9 727.5L1030.5 727.5Z" fill="#800000"/>
<path d="M1052.6 738.4L1056.8 728.8L1058.4 730.4L1059.5 719.9L1052.5 727.8L1054.7 727.9L1050.5 737.4Z" fill="#ffaf00"/>
<path d="M1078.6 738.3L1082.6 728.9L1084.2 730.4L1085.1 720.0L1078.2 727.9L1080.4 728.0L1076.4 737.4Z" fill="#0066ff"/>
<path d="M570.4 745.0L577.8 752.4L575.8 753.3L585.1 758.1L580.3 748.8L579.5 750.8L572.1 743.4Z" fill="#ffaf00"/>
<path d="M598.9 757.3L603.8 752.9L604.6 755.0L609.8 745.9L600.2 750.2L602.2 751.2L597.4 755.6Z" fill="#ff3900"/>
<path d="M627.6 760.5L631.0 751.2L632.7 752.7L633.1 742.2L626.6 750.5L628.8 750.5L625.5 759.7Z" fill="#ff9700"/>
<path d="M657.7 743.0L654.8 749.9L653.2 748.4L652.5 758.9L659.2 750.8L657.0 750.8L659.8 743.8Z" fill="#ff5000"/>
<path d="M683.0 751.2L682.2 752.6L680.6 752.6L679.8 751.2L680.6 749.8L682.2 749.8Z" fill="#910000"/>
<path d="M708.8 751.2L708.0 752.6L706.4 752.6L705.6 751.2L706.4 749.8L708.0 749.8Z" fill="#800000"/>
<path d="M740.2 754.6L734.8 751.0L736.6 749.7L726.5 746.8L733.0 755.0L733.5 752.9L738.9 756.5Z" fill="#ff3900"/>
<path d="M766.8 758.6L758.5 749.1L760.6 748.4L751.6 742.9L755.8 752.6L756.8 750.6L765.1 760.1Z" fill="#3effb9"/>
<path d="M790.5 756.0L786.5 751.6L788.6 750.8L779.5 745.5L783.8 755.1L784.8 753.1L788.8 757.6Z" fill="#0000d6"/>
<path d="M812.0 751.2L811.2 752.6L809.6 752.6L808.8 751.2L809.6 749.8L811.2 749.8Z" fill="#000080"/>
<path d="M835.1 741.7L835.1 751.4L833.0 750.6L836.2 760.6L839.4 750.6L837.4 751.4L837.4 741.7Z" fill="#004dff"/>
<path d="M860.9 740.2L860.9 753.0L858.8 752.2L862.0 762.2L865.2 752.2L863.1 753.0L863.1 740.2Z" fill="#7bff7b"/>
<path d="M880.0 745.0L887.4 752.4L885.4 753.3L894.7 758.1L889.9 748.8L889.1 750.8L881.7 743.4Z" fill="#ffaf00"/>
<path d="M908.5 757.3L913.4 752.9L914.2 755.0L919.4 745.9L909.8 750.2L911.8 751.2L907.0 755.6Z" fill="#ff3900"/>
<path d="M937.2 760.5L940.6 751.2L942.3 752.7L942.7 742.2L936.2 750.5L938.4 750.5L935.1 759.7Z" fill="#ff9700"/>
<path d="M967.3 743.0L964.4 749.9L962.8 748.4L962.1 758.9L968.8 750.8L966.6 750.8L969.4 743.8Z" fill="#ff5000"/>
<path d="M992.6 751.2L991.8 752.6L990.2 752.6L989.4 751.2L990.2 749.8L991.8 749.8Z" fill="#910000"/>
<path d="M1018.4 751.2L1017.6 752.6L1016.0 752.6L1015.2 751.2L1016.0 749.8L1017.6 749.8Z" fill="#800000"/>
<path d="M1049.8 754.6L1044.4 751.0L1046.2 749.7L1036.1 746.8L1042.6 755.0L1043.1 752.9L1048.5 756.5Z" fill="#ff3900"/>
<path d="M1076.4 758.6L1068.1 749.1L1070.2 748.4L1061.2 742.9L1065.4 752.6L1066.4 750.6L1074.7 760.1Z" fill="#3effb9"/>
<path d="M572.5 780.2L565.8 772.2L567.9 771.5L559.0 765.9L563.0 775.6L564.0 773.7L570.7 781.7Z" fill="#ffaf00"/>
<path d="M581.0 774.6L592.0 774.6L591.2 776.6L601.2 773.4L591.2 770.2L592.0 772.3L581.0 772.3Z" fill="#ffc600"/>
<path d="M609.2 781.1L618.8 773.3L619.5 775.4L625.3 766.6L615.5 770.4L617.4 771.5L607.8 779.3Z" fill="#ceff29"/>
<path d="M634.9 781.2L644.8 773.2L645.5 775.3L651.2 766.5L641.4 770.3L643.3 771.4L633.5 779.4Z" fill="#a5ff52"/>
<path d="M659.0 774.6L668.8 774.6L668.0 776.6L678.0 773.4L668.0 770.2L668.8 772.3L659.0 772.3Z" fill="#ff9700"/>
<path d="M693.1 768.2L693.1 769.4L691.1 768.6L694.3 778.6L697.5 768.6L695.4 769.4L695.4 768.2Z" fill="#c50000"/>
<path d="M713.8 771.1L717.3 773.1L715.5 774.5L725.8 776.7L718.8 768.9L718.4 771.1L715.0 769.1Z" fill="#f30900"/>
<path d="M756.6 772.3L744.4 772.3L745.3 770.2L735.2 773.4L745.3 776.6L744.4 774.6L756.6 774.6Z" fill="#e2ff15"/>
<path d="M782.2 775.6L770.7 771.9L772.1 770.1L761.6 770.1L770.1 776.3L770.0 774.0L781.5 777.8Z" fill="#00e5f7"/>
<path d="M806.7 772.3L797.5 772.3L798.3 770.2L788.3 773.4L798.3 776.6L797.5 774.6L806.7 774.6Z" fill="#0033ff"/>
<path d="M829.9 765.6L821.8 773.2L821.0 771.2L815.9 780.3L825.4 775.9L823.4 774.9L831.5 767.3Z" fill="#0099ff"/>
<path d="M847.9 762.5L847.9 775.1L845.9 774.3L849.1 784.3L852.3 774.3L850.2 775.1L850.2 762.5Z" fill="#b9ff3e"/>
<path d="M882.1 780.2L875.4 772.2L877.5 771.5L868.6 765.9L872.6 775.6L873.6 773.7L880.3 781.7Z" fill="#ffaf00"/>
<path d="M890.6 774.6L901.6 774.6L900.8 776.6L910.8 773.4L900.8 770.2L901.6 772.3L890.6 772.3Z" fill="#ffc600"/>
<path d="M918.8 781.1L928.4 773.3L929.1 775.4L934.9 766.6L925.1 770.4L927.0 771.5L917.4 779.3Z" fill="#ceff29"/>
<path d="M944.5 781.2L954.4 773.2L955.1 775.3L960.8 766.5L951.0 770.3L952.9 771.4L943.1 779.4Z" fill="#a5ff52"/>
<path d="M968.6 774.6L978.4 774.6L977.6 776.6L987.6 773.4L977.6 770.2L978.4 772.3L968.6 772.3Z" fill="#ff9700"/>
<path d="M1002.8 768.2L1002.8 769.4L1000.7 768.6L1003.9 778.6L1007.1 768.6L1005.0 769.4L1005.0 768.2Z" fill="#c50000"/>
<path d="M1023.4 771.1L1026.9 773.1L1025.1 774.5L1035.4 776.7L1028.4 768.9L1028.0 771.1L1024.6 769.1Z" fill="#f30900"/>
<path d="M1066.2 772.3L1054.0 772.3L1054.9 770.2L1044.8 773.4L1054.9 776.6L1054.0 774.6L1066.2 774.6Z" fill="#e2ff15"/>
<path d="M1091.8 775.6L1080.3 771.9L1081.7 770.1L1071.2 770.1L1079.7 776.3L1079.6 774.0L1091.1 777.8Z" fill="#00e5f7"/>
<path d="M586.4 792.3L578.3 794.4L578.5 792.2L569.7 797.9L580.2 798.4L578.9 796.6L587.0 794.5Z" fill="#ff6800"/>
<path d="M596.5 803.7L606.1 795.3L606.9 797.4L612.3 788.4L602.6 792.6L604.6 793.6L595.0 802.0Z" fill="#90ff67"/>
<path d="M622.5 803.5L631.6 795.6L632.4 797.7L637.8 788.7L628.2 792.8L630.1 793.8L621.0 801.8Z" fill="#00e5f7"/>
<path d="M645.4 796.8L656.6 796.8L655.8 798.9L665.8 795.6L655.8 792.4L656.6 794.5L645.4 794.5Z" fill="#0099ff"/>
<path d="M673.1 788.4L681.7 797.7L679.7 798.5L688.8 803.6L684.4 794.1L683.4 796.1L674.8 786.9Z" fill="#3effb9"/>
<path d="M706.1 785.0L706.1 797.1L704.0 796.3L707.2 806.3L710.4 796.3L708.4 797.1L708.4 785.0Z" fill="#e2ff15"/>
<path d="M725.8 802.5L734.2 796.2L734.8 798.3L740.8 789.7L730.9 793.2L732.8 794.3L724.5 800.6Z" fill="#ffaf00"/>
<path d="M769.6 794.5L757.2 794.5L758.0 792.4L748.0 795.6L758.0 798.9L757.2 796.8L769.6 796.8Z" fill="#ceff29"/>
<path d="M795.5 797.6L783.2 794.0L784.5 792.3L774.0 792.6L782.8 798.5L782.6 796.3L794.8 799.8Z" fill="#90ff67"/>
<path d="M821.3 794.5L808.7 794.5L809.5 792.4L799.5 795.6L809.5 798.9L808.7 796.8L821.3 796.8Z" fill="#b9ff3e"/>
<path d="M841.5 789.7L836.5 793.9L835.8 791.8L830.2 800.7L839.9 796.7L838.0 795.7L843.0 791.5Z" fill="#ff3900"/>
<path d="M865.6 799.0L865.2 798.4L867.2 797.9L859.3 791.7L862.1 801.3L863.3 799.6L863.8 800.2Z" fill="#b90000"/>
<path d="M896.0 792.3L887.9 794.4L888.1 792.2L879.3 797.9L889.8 798.4L888.5 796.6L896.6 794.5Z" fill="#ff6800"/>
<path d="M906.1 803.7L915.7 795.3L916.5 797.4L921.9 788.4L912.2 792.6L914.2 793.6L904.6 802.0Z" fill="#90ff67"/>
<path d="M932.1 803.5L941.2 795.6L942.0 797.7L947.4 788.7L937.8 792.8L939.7 793.8L930.6 801.8Z" fill="#00e5f7"/>
<path d="M955.0 796.8L966.2 796.8L965.4 798.9L975.4 795.6L965.4 792.4L966.2 794.5L955.0 794.5Z" fill="#0099ff"/>
<path d="M982.7 788.4L991.3 797.7L989.3 798.5L998.4 803.6L994.0 794.1L993.0 796.1L984.4 786.9Z" fill="#3effb9"/>
<path d="M1015.7 785.0L1015.7 797.1L1013.6 796.3L1016.8 806.3L1020.0 796.3L1018.0 797.1L1018.0 785.0Z" fill="#e2ff15"/>
<path d="M1035.4 802.5L1043.8 796.2L1044.4 798.3L1050.4 789.7L1040.5 793.2L1042.4 794.3L1034.1 800.6Z" fill="#ffaf00"/>
<path d="M1079.2 794.5L1066.8 794.5L1067.6 792.4L1057.6 795.6L1067.6 798.9L1066.8 796.8L1079.2 796.8Z" fill="#ceff29"/>
<path d="M566.9 817.9L566.1 819.3L564.5 819.3L563.7 817.9L564.5 816.5L566.1 816.5Z" fill="#800000"/>
<path d="M588.2 827.3L592.4 817.8L594.0 819.4L595.1 808.9L588.1 816.7L590.3 816.8L586.1 826.4Z" fill="#ffaf00"/>
<path d="M614.2 827.3L618.2 817.8L619.8 819.4L620.7 808.9L613.8 816.9L616.0 816.9L612.0 826.4Z" fill="#0066ff"/>
<path d="M637.4 823.0L641.8 819.9L642.3 822.1L648.7 813.7L638.6 816.8L640.5 818.0L636.1 821.1Z" fill="#0000c5"/>
<path d="M662.7 812.8L666.6 817.4L664.5 818.1L673.4 823.7L669.4 814.0L668.4 815.9L664.5 811.3Z" fill="#0000d6"/>
<path d="M693.1 807.0L693.1 819.6L691.1 818.8L694.3 828.8L697.5 818.8L695.4 819.6L695.4 807.0Z" fill="#3effb9"/>
<path d="M718.9 807.4L718.9 819.2L716.9 818.4L720.1 828.4L723.3 818.4L721.2 819.2L721.2 807.4Z" fill="#f7f600"/>
<path d="M752.6 812.7L746.1 816.5L745.7 814.3L738.7 822.1L748.9 819.8L747.2 818.5L753.7 814.7Z" fill="#ff5000"/>
<path d="M780.6 823.2L771.5 816.3L773.4 815.1L763.5 811.7L769.5 820.3L770.1 818.1L779.2 825.0Z" fill="#ffde00"/>
<path d="M805.6 823.0L798.0 816.8L799.9 815.7L790.1 811.9L795.8 820.7L796.5 818.6L804.2 824.8Z" fill="#ff9700"/>
<path d="M828.5 819.3L827.3 818.7L829.0 817.3L818.7 815.4L826.0 823.0L826.3 820.8L827.4 821.3Z" fill="#c50000"/>
<path d="M850.7 817.9L849.9 819.3L848.3 819.3L847.5 817.9L848.3 816.5L849.9 816.5Z" fill="#800000"/>
<path d="M876.5 817.9L875.7 819.3L874.1 819.3L873.3 817.9L874.1 816.5L875.7 816.5Z" fill="#800000"/>
<path d="M897.8 827.3L902.0 817.8L903.6 819.4L904.7 808.9L897.7 816.7L899.9 816.8L895.7 826.4Z" fill="#ffaf00"/>
<path d="M923.8 827.3L927.8 817.8L929.4 819.4L930.3 808.9L923.4 816.9L925.6 816.9L921.6 826.4Z" fill="#0066ff"/>
<path d="M947.0 823.0L951.4 819.9L951.9 822.1L958.3 813.7L948.2 816.8L950.1 818.0L945.7 821.1Z" fill="#0000c5"/>
<path d="M972.3 812.8L976.2 817.4L974.1 818.1L983.0 823.7L979.0 814.0L978.0 815.9L974.1 811.3Z" fill="#0000d6"/>
<path d="M1002.8 807.0L1002.8 819.6L1000.7 818.8L1003.9 828.8L1007.1 818.8L1005.0 819.6L1005.0 807.0Z" fill="#3effb9"/>
<path d="M1028.5 807.4L1028.5 819.2L1026.5 818.4L1029.7 828.4L1032.9 818.4L1030.9 819.2L1030.9 807.4Z" fill="#f7f600"/>
<path d="M1062.2 812.7L1055.7 816.5L1055.3 814.3L1048.3 822.1L1058.5 819.8L1056.8 818.5L1063.3 814.7Z" fill="#ff5000"/>
<path d="M1090.2 823.2L1081.1 816.3L1083.0 815.1L1073.1 811.7L1079.1 820.3L1079.7 818.1L1088.8 825.0Z" fill="#ffde00"/>
<path d="M585.4 843.6L580.0 839.9L581.8 838.7L571.7 835.7L578.2 844.0L578.7 841.8L584.1 845.5Z" fill="#ff3900"/>
<path d="M612.0 847.6L603.7 838.1L605.8 837.3L596.8 831.9L601.0 841.5L602.0 839.6L610.3 849.1Z" fill="#3effb9"/>
<path d="M635.7 845.0L631.7 840.5L633.8 839.7L624.7 834.5L629.0 844.1L630.0 842.1L634.0 846.5Z" fill="#0000d6"/>
<path d="M657.2 840.1L656.4 841.5L654.8 841.5L654.0 840.1L654.8 838.7L656.4 838.7Z" fill="#000080"/>
<path d="M680.3 830.7L680.3 840.4L678.2 839.6L681.4 849.6L684.6 839.6L682.6 840.4L682.6 830.7Z" fill="#004dff"/>
<path d="M706.1 829.1L706.1 841.9L704.0 841.1L707.2 851.1L710.4 841.1L708.4 841.9L708.4 829.1Z" fill="#7bff7b"/>
<path d="M725.2 834.0L732.6 841.4L730.6 842.3L739.9 847.1L735.1 837.7L734.3 839.7L726.9 832.4Z" fill="#ffaf00"/>
<path d="M753.7 846.2L758.6 841.9L759.4 844.0L764.6 834.9L755.0 839.2L757.0 840.2L752.2 844.5Z" fill="#ff3900"/>
<path d="M782.4 849.5L785.8 840.2L787.5 841.7L787.9 831.2L781.4 839.5L783.6 839.4L780.3 848.7Z" fill="#ff9700"/>
<path d="M812.5 831.9L809.6 838.9L808.0 837.4L807.3 847.9L814.0 839.8L811.8 839.8L814.6 832.8Z" fill="#ff5000"/>
<path d="M837.8 840.1L837.0 841.5L835.4 841.5L834.6 840.1L835.4 838.7L837.0 838.7Z" fill="#910000"/>
<path d="M863.6 840.1L862.8 841.5L861.2 841.5L860.4 840.1L861.2 838.7L862.8 838.7Z" fill="#800000"/>
<path d="M895.0 843.6L889.6 839.9L891.4 838.7L881.3 835.7L887.8 844.0L888.3 841.8L893.7 845.5Z" fill="#ff3900"/>
<path d="M921.6 847.6L913.3 838.1L915.4 837.3L906.4 831.9L910.6 841.5L911.6 839.6L919.9 849.1Z" fill="#3effb9"/>
<path d="M945.3 845.0L941.3 840.5L943.4 839.7L934.3 834.5L938.6 844.1L939.6 842.1L943.6 846.5Z" fill="#0000d6"/>
<path d="M966.8 840.1L966.0 841.5L964.4 841.5L963.6 840.1L964.4 838.7L966.0 838.7Z" fill="#000080"/>
<path d="M989.9 830.7L989.9 840.4L987.8 839.6L991.0 849.6L994.2 839.6L992.1 840.4L992.1 830.7Z" fill="#004dff"/>
<path d="M1015.7 829.1L1015.7 841.9L1013.6 841.1L1016.8 851.1L1020.0 841.1L1018.0 841.9L1018.0 829.1Z" fill="#7bff7b"/>
<path d="M1034.8 834.0L1042.2 841.4L1040.2 842.3L1049.5 847.1L1044.7 837.7L1043.9 839.7L1036.5 832.4Z" fill="#ffaf00"/>
<path d="M1063.3 846.2L1068.2 841.9L1069.0 844.0L1074.2 834.9L1064.6 839.2L1066.6 840.2L1061.8 844.5Z" fill="#ff3900"/>
<path d="M571.6 864.7L568.1 862.7L569.9 861.3L559.6 859.1L566.6 866.9L567.0 864.7L570.4 866.7Z" fill="#f30900"/>
<path d="M601.8 861.2L589.6 861.2L590.5 859.1L580.4 862.4L590.5 865.6L589.6 863.5L601.8 863.5Z" fill="#e2ff15"/>
<path d="M627.4 864.6L615.9 860.8L617.3 859.1L606.8 859.1L615.3 865.2L615.2 863.0L626.7 866.7Z" fill="#00e5f7"/>
<path d="M651.9 861.2L642.7 861.2L643.5 859.1L633.5 862.4L643.5 865.6L642.7 863.5L651.9 863.5Z" fill="#0033ff"/>
<path d="M675.1 854.6L667.0 862.2L666.2 860.1L661.1 869.3L670.6 864.8L668.6 863.9L676.7 856.3Z" fill="#0099ff"/>
<path d="M693.1 851.5L693.1 864.0L691.1 863.2L694.3 873.2L697.5 863.2L695.4 864.0L695.4 851.5Z" fill="#b9ff3e"/>
<path d="M727.3 869.1L720.6 861.1L722.7 860.4L713.8 854.8L717.8 864.6L718.8 862.6L725.5 870.6Z" fill="#ffaf00"/>
<path d="M735.8 863.5L746.8 863.5L746.0 865.6L756.0 862.4L746.0 859.1L746.8 861.2L735.8 861.2Z" fill="#ffc600"/>
<path d="M764.0 870.0L773.6 862.3L774.3 864.4L780.1 855.6L770.3 859.4L772.2 860.5L762.6 868.2Z" fill="#ceff29"/>
<path d="M789.7 870.1L799.6 862.2L800.3 864.3L806.0 855.5L796.2 859.3L798.1 860.4L788.3 868.4Z" fill="#a5ff52"/>
<path d="M813.8 863.5L823.6 863.5L822.8 865.6L832.8 862.4L822.8 859.1L823.6 861.2L813.8 861.2Z" fill="#ff9700"/>
<path d="M847.9 857.1L847.9 858.4L845.9 857.6L849.1 867.6L852.3 857.6L850.2 858.4L850.2 857.1Z" fill="#c50000"/>
<path d="M868.6 860.1L872.1 862.1L870.3 863.4L880.6 865.7L873.6 857.9L873.2 860.1L869.8 858.1Z" fill="#f30900"/>
<path d="M911.4 861.2L899.2 861.2L900.1 859.1L890.0 862.4L900.1 865.6L899.2 863.5L911.4 863.5Z" fill="#e2ff15"/>
<path d="M937.0 864.6L925.5 860.8L926.9 859.1L916.4 859.1L924.9 865.2L924.8 863.0L936.3 866.7Z" fill="#00e5f7"/>
<path d="M961.5 861.2L952.3 861.2L953.1 859.1L943.1 862.4L953.1 865.6L952.3 863.5L961.5 863.5Z" fill="#0033ff"/>
<path d="M984.7 854.6L976.6 862.2L975.8 860.1L970.7 869.3L980.2 864.8L978.2 863.9L986.3 856.3Z" fill="#0099ff"/>
<path d="M1002.8 851.5L1002.8 864.0L1000.7 863.2L1003.9 873.2L1007.1 863.2L1005.0 864.0L1005.0 851.5Z" fill="#b9ff3e"/>
<path d="M1036.9 869.1L1030.2 861.1L1032.3 860.4L1023.4 854.8L1027.4 864.6L1028.4 862.6L1035.1 870.6Z" fill="#ffaf00"/>
<path d="M1045.4 863.5L1056.4 863.5L1055.6 865.6L1065.6 862.4L1055.6 859.1L1056.4 861.2L1045.4 861.2Z" fill="#ffc600"/>
<path d="M1073.6 870.0L1083.2 862.3L1083.9 864.4L1089.7 855.6L1079.9 859.4L1081.8 860.5L1072.2 868.2Z" fill="#ceff29"/>
<path d="M571.0 891.4L579.4 885.1L580.0 887.3L586.0 878.7L576.1 882.1L578.0 883.3L569.7 889.6Z" fill="#ffaf00"/>
<path d="M614.8 883.5L602.4 883.5L603.2 881.4L593.2 884.6L603.2 887.8L602.4 885.8L614.8 885.8Z" fill="#ceff29"/>
<path d="M640.7 886.5L628.4 883.0L629.7 881.2L619.2 881.6L628.0 887.4L627.8 885.2L640.0 888.7Z" fill="#90ff67"/>
<path d="M666.5 883.5L653.9 883.5L654.7 881.4L644.7 884.6L654.7 887.8L653.9 885.8L666.5 885.8Z" fill="#b9ff3e"/>
<path d="M686.7 878.7L681.7 882.9L681.0 880.8L675.4 889.6L685.1 885.7L683.2 884.6L688.2 880.4Z" fill="#ff3900"/>
<path d="M710.8 888.0L710.4 887.3L712.4 886.8L704.5 880.6L707.3 890.3L708.5 888.6L709.0 889.2Z" fill="#b90000"/>
<path d="M741.2 881.2L733.1 883.4L733.3 881.2L724.5 886.9L735.0 887.4L733.7 885.6L741.8 883.4Z" fill="#ff6800"/>
<path d="M751.3 892.7L760.9 884.3L761.7 886.4L767.1 877.4L757.4 881.5L759.4 882.6L749.8 890.9Z" fill="#90ff67"/>
<path d="M777.3 892.4L786.4 884.5L787.2 886.6L792.6 877.6L783.0 881.8L784.9 882.8L775.8 890.7Z" fill="#00e5f7"/>
<path d="M800.2 885.8L811.4 885.8L810.6 887.8L820.6 884.6L810.6 881.4L811.4 883.5L800.2 883.5Z" fill="#0099ff"/>
<path d="M827.9 877.4L836.5 886.6L834.5 887.5L843.6 892.6L839.2 883.1L838.2 885.1L829.6 875.8Z" fill="#3effb9"/>
<path d="M860.9 873.9L860.9 886.1L858.8 885.2L862.0 895.3L865.2 885.2L863.1 886.1L863.1 873.9Z" fill="#e2ff15"/>
<path d="M880.6 891.4L889.0 885.1L889.6 887.3L895.6 878.7L885.7 882.1L887.6 883.3L879.3 889.6Z" fill="#ffaf00"/>
<path d="M924.4 883.5L912.0 883.5L912.8 881.4L902.8 884.6L912.8 887.8L912.0 885.8L924.4 885.8Z" fill="#ceff29"/>
<path d="M950.3 886.5L938.0 883.0L939.3 881.2L928.8 881.6L937.6 887.4L937.4 885.2L949.6 888.7Z" fill="#90ff67"/>
<path d="M976.1 883.5L963.5 883.5L964.3 881.4L954.3 884.6L964.3 887.8L963.5 885.8L976.1 885.8Z" fill="#b9ff3e"/>
<path d="M996.3 878.7L991.3 882.9L990.6 880.8L985.0 889.6L994.7 885.7L992.8 884.6L997.8 880.4Z" fill="#ff3900"/>
<path d="M1020.4 888.0L1020.0 887.3L1022.0 886.8L1014.1 880.6L1016.9 890.3L1018.1 888.6L1018.6 889.2Z" fill="#b90000"/>
<path d="M1050.8 881.2L1042.7 883.4L1042.9 881.2L1034.1 886.9L1044.6 887.4L1043.3 885.6L1051.4 883.4Z" fill="#ff6800"/>
<path d="M1060.9 892.7L1070.5 884.3L1071.3 886.4L1076.7 877.4L1067.0 881.5L1069.0 882.6L1059.4 890.9Z" fill="#90ff67"/>
<path d="M564.1 896.3L564.1 908.1L562.1 907.3L565.3 917.3L568.5 907.3L566.4 908.1L566.4 896.3Z" fill="#f7f600"/>
<path d="M597.8 901.7L591.3 905.4L590.9 903.2L583.9 911.0L594.1 908.8L592.4 907.4L598.9 903.7Z" fill="#ff5000"/>
<path d="M625.8 912.1L616.7 905.3L618.6 904.1L608.7 900.6L614.7 909.2L615.3 907.1L624.4 914.0Z" fill="#ffde00"/>
<path d="M650.8 911.9L643.2 905.7L645.1 904.6L635.3 900.8L641.0 909.6L641.7 907.5L649.4 913.7Z" fill="#ff9700"/>
<path d="M673.7 908.3L672.5 907.7L674.2 906.2L663.9 904.4L671.2 911.9L671.5 909.7L672.6 910.3Z" fill="#c50000"/>
<path d="M695.9 906.8L695.1 908.2L693.5 908.2L692.7 906.8L693.5 905.4L695.1 905.4Z" fill="#800000"/>
<path d="M721.7 906.8L720.9 908.2L719.3 908.2L718.5 906.8L719.3 905.4L720.9 905.4Z" fill="#800000"/>
<path d="M743.0 916.3L747.2 906.7L748.8 908.3L749.9 897.9L742.9 905.7L745.1 905.8L740.9 915.3Z" fill="#ffaf00"/>
<path d="M769.0 916.2L773.0 906.8L774.6 908.4L775.5 897.9L768.6 905.8L770.8 905.9L766.8 915.3Z" fill="#0066ff"/>
<path d="M792.2 912.0L796.6 908.9L797.1 911.0L803.5 902.7L793.4 905.8L795.3 907.0L790.9 910.1Z" fill="#0000c5"/>
<path d="M817.5 901.8L821.4 906.4L819.3 907.1L828.2 912.7L824.2 902.9L823.2 904.9L819.3 900.3Z" fill="#0000d6"/>
<path d="M847.9 895.9L847.9 908.6L845.9 907.7L849.1 917.8L852.3 907.7L850.2 908.6L850.2 895.9Z" fill="#3effb9"/>
<path d="M873.8 896.3L873.8 908.1L871.7 907.3L874.9 917.3L878.1 907.3L876.0 908.1L876.0 896.3Z" fill="#f7f600"/>
<path d="M907.4 901.7L900.9 905.4L900.5 903.2L893.5 911.0L903.7 908.8L902.0 907.4L908.5 903.7Z" fill="#ff5000"/>
<path d="M935.4 912.1L926.3 905.3L928.2 904.1L918.3 900.6L924.3 909.2L924.9 907.1L934.0 914.0Z" fill="#ffde00"/>
<path d="M960.4 911.9L952.8 905.7L954.7 904.6L944.9 900.8L950.6 909.6L951.3 907.5L959.0 913.7Z" fill="#ff9700"/>
<path d="M983.3 908.3L982.1 907.7L983.8 906.2L973.5 904.4L980.8 911.9L981.1 909.7L982.2 910.3Z" fill="#c50000"/>
<path d="M1005.5 906.8L1004.7 908.2L1003.1 908.2L1002.3 906.8L1003.1 905.4L1004.7 905.4Z" fill="#800000"/>
<path d="M1031.3 906.8L1030.5 908.2L1028.9 908.2L1028.1 906.8L1028.9 905.4L1030.5 905.4Z" fill="#800000"/>
<path d="M1052.6 916.3L1056.8 906.7L1058.4 908.3L1059.5 897.9L1052.5 905.7L1054.7 905.8L1050.5 915.3Z" fill="#ffaf00"/>
<path d="M1078.6 916.2L1082.6 906.8L1084.2 908.4L1085.1 897.9L1078.2 905.8L1080.4 905.9L1076.4 915.3Z" fill="#0066ff"/>
<path d="M570.4 922.9L577.8 930.3L575.8 931.2L585.1 936.0L580.3 926.7L579.5 928.7L572.1 921.3Z" fill="#ffaf00"/>
<path d="M598.9 935.2L603.8 930.8L604.6 932.9L609.8 923.8L600.2 928.1L602.2 929.1L597.4 933.5Z" fill="#ff3900"/>
<path d="M627.6 938.4L631.0 929.2L632.7 930.6L633.1 920.1L626.6 928.4L628.8 928.4L625.5 937.6Z" fill="#ff9700"/>
<path d="M657.7 920.9L654.8 927.9L653.2 926.3L652.5 936.8L659.2 928.8L657.0 928.7L659.8 921.8Z" fill="#ff5000"/>
<path d="M683.0 929.1L682.2 930.5L680.6 930.5L679.8 929.1L680.6 927.7L682.2 927.7Z" fill="#910000"/>
<path d="M708.8 929.1L708.0 930.5L706.4 930.5L705.6 929.1L706.4 927.7L708.0 927.7Z" fill="#800000"/>
<path d="M740.2 932.5L734.8 928.9L736.6 927.6L726.5 924.7L733.0 933.0L733.5 930.8L738.9 934.4Z" fill="#ff3900"/>
<path d="M766.8 936.6L758.5 927.0L760.6 926.3L751.6 920.8L755.8 930.5L756.8 928.5L765.1 938.1Z" fill="#3effb9"/>
<path d="M790.5 934.0L786.5 929.5L788.6 928.7L779.5 923.4L783.8 933.0L784.8 931.0L788.8 935.5Z" fill="#0000d6"/>
<path d="M812.0 929.1L811.2 930.5L809.6 930.5L808.8 929.1L809.6 927.7L811.2 927.7Z" fill="#000080"/>
<path d="M835.1 919.6L835.1 929.3L833.0 928.5L836.2 938.5L839.4 928.5L837.4 929.3L837.4 919.6Z" fill="#004dff"/>
<path d="M860.9 918.1L860.9 930.9L858.8 930.1L862.0 940.1L865.2 930.1L863.1 930.9L863.1 918.1Z" fill="#7bff7b"/>
<path d="M880.0 922.9L887.4 930.3L885.4 931.2L894.7 936.0L889.9 926.7L889.1 928.7L881.7 921.3Z" fill="#ffaf00"/>
<path d="M908.5 935.2L913.4 930.8L914.2 932.9L919.4 923.8L909.8 928.1L911.8 929.1L907.0 933.5Z" fill="#ff3900"/>
<path d="M937.2 938.4L940.6 929.2L942.3 930.6L942.7 920.1L936.2 928.4L938.4 928.4L935.1 937.6Z" fill="#ff9700"/>
<path d="M967.3 920.9L964.4 927.9L962.8 926.3L962.1 936.8L968.8 928.8L966.6 928.7L969.4 921.8Z" fill="#ff5000"/>
<path d="M992.6 929.1L991.8 930.5L990.2 930.5L989.4 929.1L990.2 927.7L991.8 927.7Z" fill="#910000"/>
<path d="M1018.4 929.1L1017.6 930.5L1016.0 930.5L1015.2 929.1L1016.0 927.7L1017.6 927.7Z" fill="#800000"/>
<path d="M1049.8 932.5L1044.4 928.9L1046.2 927.6L1036.1 924.7L1042.6 933.0L1043.1 930.8L1048.5 934.4Z" fill="#ff3900"/>
<path d="M1076.4 936.6L1068.1 927.0L1070.2 926.3L1061.2 920.8L1065.4 930.5L1066.4 928.5L1074.7 938.1Z" fill="#3effb9"/>
<path d="M572.5 958.1L565.8 950.1L567.9 949.4L559.0 943.8L563.0 953.5L564.0 951.6L570.7 959.6Z" fill="#ffaf00"/>
<path d="M581.0 952.5L592.0 952.5L591.2 954.5L601.2 951.3L591.2 948.1L592.0 950.2L581.0 950.2Z" fill="#ffc600"/>
<path d="M609.2 959.0L618.8 951.2L619.5 953.3L625.3 944.5L615.5 948.3L617.4 949.4L607.8 957.2Z" fill="#ceff29"/>
<path d="M634.9 959.1L644.8 951.1L645.5 953.2L651.2 944.4L641.4 948.2L643.3 949.3L633.5 957.3Z" fill="#a5ff52"/>
<path d="M659.0 952.5L668.8 952.5L668.0 954.5L678.0 951.3L668.0 948.1L668.8 950.2L659.0 950.2Z" fill="#ff9700"/>
<path d="M693.1 946.1L693.1 947.3L691.1 946.5L694.3 956.5L697.5 946.5L695.4 947.3L695.4 946.1Z" fill="#c50000"/>
<path d="M713.8 949.0L717.3 951.0L715.5 952.4L725.8 954.6L718.8 946.8L718.4 949.0L715.0 947.0Z" fill="#f30900"/>
<path d="M756.6 950.2L744.4 950.2L745.3 948.1L735.2 951.3L745.3 954.5L744.4 952.5L756.6 952.5Z" fill="#e2ff15"/>
<path d="M782.2 953.5L770.7 949.8L772.1 948.1L761.6 948.0L770.1 954.2L770.0 952.0L781.5 955.7Z" fill="#00e5f7"/>
<path d="M806.7 950.2L797.5 950.2L798.3 948.1L788.3 951.3L798.3 954.5L797.5 952.5L806.7 952.5Z" fill="#0033ff"/>
<path d="M829.9 943.5L821.8 951.1L821.0 949.1L815.9 958.3L825.4 953.8L823.4 952.8L831.5 945.2Z" fill="#0099ff"/>
<path d="M847.9 940.4L847.9 953.0L845.9 952.2L849.1 962.2L852.3 952.2L850.2 953.0L850.2 940.4Z" fill="#b9ff3e"/>
<path d="M882.1 958.1L875.4 950.1L877.5 949.4L868.6 943.8L872.6 953.5L873.6 951.6L880.3 959.6Z" fill="#ffaf00"/>
<path d="M890.6 952.5L901.6 952.5L900.8 954.5L910.8 951.3L900.8 948.1L901.6 950.2L890.6 950.2Z" fill="#ffc600"/>
<path d="M918.8 959.0L928.4 951.2L929.1 953.3L934.9 944.5L925.1 948.3L927.0 949.4L917.4 957.2Z" fill="#ceff29"/>
<path d="M944.5 959.1L954.4 951.1L955.1 953.2L960.8 944.4L951.0 948.2L952.9 949.3L943.1 957.3Z" fill="#a5ff52"/>
<path d="M968.6 952.5L978.4 952.5L977.6 954.5L987.6 951.3L977.6 948.1L978.4 950.2L968.6 950.2Z" fill="#ff9700"/>
<path d="M1002.8 946.1L1002.8 947.3L1000.7 946.5L1003.9 956.5L1007.1 946.5L1005.0 947.3L1005.0 946.1Z" fill="#c50000"/>
<path d="M1023.4 949.0L1026.9 951.0L1025.1 952.4L1035.4 954.6L1028.4 946.8L1028.0 949.0L1024.6 947.0Z" fill="#f30900"/>
<path d="M1066.2 950.2L1054.0 950.2L1054.9 948.1L1044.8 951.3L1054.9 954.5L1054.0 952.5L1066.2 952.5Z" fill="#e2ff15"/>
<path d="M1091.8 953.5L1080.3 949.8L1081.7 948.1L1071.2 948.0L1079.7 954.2L1079.6 952.0L1091.1 955.7Z" fill="#00e5f7"/>
<path d="M586.4 970.2L578.3 972.3L578.5 970.1L569.7 975.8L580.2 976.4L578.9 974.6L587.0 972.4Z" fill="#ff6800"/>
<path d="M596.5 981.6L606.1 973.3L606.9 975.3L612.3 966.4L602.6 970.5L604.6 971.5L595.0 979.9Z" fill="#90ff67"/>
<path d="M622.5 981.4L631.6 973.5L632.4 975.6L637.8 966.6L628.2 970.7L630.1 971.7L621.0 979.7Z" fill="#00e5f7"/>
<path d="M645.4 974.7L656.6 974.7L655.8 976.8L665.8 973.6L655.8 970.3L656.6 972.4L645.4 972.4Z" fill="#0099ff"/>
<path d="M673.1 966.4L681.7 975.6L679.7 976.4L688.8 981.5L684.4 972.0L683.4 974.0L674.8 964.8Z" fill="#3effb9"/>
<path d="M706.1 962.9L706.1 975.0L704.0 974.2L707.2 984.2L710.4 974.2L708.4 975.0L708.4 962.9Z" fill="#e2ff15"/>
<path d="M725.8 980.4L734.2 974.1L734.8 976.2L740.8 967.6L730.9 971.1L732.8 972.3L724.5 978.6Z" fill="#ffaf00"/>
<path d="M769.6 972.4L757.2 972.4L758.0 970.3L748.0 973.6L758.0 976.8L757.2 974.7L769.6 974.7Z" fill="#ceff29"/>
<path d="M795.5 975.5L783.2 972.0L784.5 970.2L774.0 970.5L782.8 976.4L782.6 974.2L794.8 977.7Z" fill="#90ff67"/>
<path d="M821.3 972.4L808.7 972.4L809.5 970.3L799.5 973.6L809.5 976.8L808.7 974.7L821.3 974.7Z" fill="#b9ff3e"/>
<path d="M841.5 967.6L836.5 971.8L835.8 969.7L830.2 978.6L839.9 974.6L838.0 973.6L843.0 969.4Z" fill="#ff3900"/>
<path d="M865.6 976.9L865.2 976.3L867.2 975.8L859.3 969.6L862.1 979.3L863.3 977.5L863.8 978.2Z" fill="#b90000"/>
<path d="M896.0 970.2L887.9 972.3L888.1 970.1L879.3 975.8L889.8 976.4L888.5 974.6L896.6 972.4Z" fill="#ff6800"/>
<path d="M906.1 981.6L915.7 973.3L916.5 975.3L921.9 966.4L912.2 970.5L914.2 971.5L904.6 979.9Z" fill="#90ff67"/>
<path d="M932.1 981.4L941.2 973.5L942.0 975.6L947.4 966.6L937.8 970.7L939.7 971.7L930.6 979.7Z" fill="#00e5f7"/>
<path d="M955.0 974.7L966.2 974.7L965.4 976.8L975.4 973.6L965.4 970.3L966.2 972.4L955.0 972.4Z" fill="#0099ff"/>
<path d="M982.7 966.4L991.3 975.6L989.3 976.4L998.4 981.5L994.0 972.0L993.0 974.0L984.4 964.8Z" fill="#3effb9"/>
<path d="M1015.7 962.9L1015.7 975.0L1013.6 974.2L1016.8 984.2L1020.0 974.2L1018.0 975.0L1018.0 962.9Z" fill="#e2ff15"/>
<path d="M1035.4 980.4L1043.8 974.1L1044.4 976.2L1050.4 967.6L1040.5 971.1L1042.4 972.3L1034.1 978.6Z" fill="#ffaf00"/>
<path d="M1079.2 972.4L1066.8 972.4L1067.6 970.3L1057.6 973.6L1067.6 976.8L1066.8 974.7L1079.2 974.7Z" fill="#ceff29"/>
<path d="M566.9 995.8L566.1 997.2L564.5 997.2L563.7 995.8L564.5 994.4L566.1 994.4Z" fill="#800000"/>
<path d="M588.2 1005.2L592.4 995.7L594.0 997.3L595.1 986.8L588.1 994.7L590.3 994.8L586.1 1004.3Z" fill="#ffaf00"/>
<path d="M614.2 1005.2L618.2 995.8L619.8 997.3L620.7 986.8L613.8 994.8L616.0 994.9L612.0 1004.3Z" fill="#0066ff"/>
<path d="M637.4 1000.9L641.8 997.8L642.3 1000.0L648.7 991.6L638.6 994.7L640.5 995.9L636.1 999.0Z" fill="#0000c5"/>
<path d="M662.7 990.7L666.6 995.3L664.5 996.0L673.4 1001.6L669.4 991.9L668.4 993.8L664.5 989.2Z" fill="#0000d6"/>
<path d="M693.1 984.9L693.1 997.5L691.1 996.7L694.3 1006.7L697.5 996.7L695.4 997.5L695.4 984.9Z" fill="#3effb9"/>
<path d="M718.9 985.3L718.9 997.1L716.9 996.3L720.1 1006.3L723.3 996.3L721.2 997.1L721.2 985.3Z" fill="#f7f600"/>
<path d="M752.6 990.6L746.1 994.4L745.7 992.2L738.7 1000.0L748.9 997.8L747.2 996.4L753.7 992.6Z" fill="#ff5000"/>
<path d="M780.6 1001.1L771.5 994.2L773.4 993.0L763.5 989.6L769.5 998.2L770.1 996.1L779.2 1002.9Z" fill="#ffde00"/>
<path d="M805.6 1000.9L798.0 994.7L799.9 993.6L790.1 989.8L795.8 998.6L796.5 996.5L804.2 1002.7Z" fill="#ff9700"/>
<path d="M828.5 997.2L827.3 996.7L829.0 995.2L818.7 993.3L826.0 1000.9L826.3 998.7L827.4 999.3Z" fill="#c50000"/>
<path d="M850.7 995.8L849.9 997.2L848.3 997.2L847.5 995.8L848.3 994.4L849.9 994.4Z" fill="#800000"/>
<path d="M876.5 995.8L875.7 997.2L874.1 997.2L873.3 995.8L874.1 994.4L875.7 994.4Z" fill="#800000"/>
<path d="M897.8 1005.2L902.0 995.7L903.6 997.3L904.7 986.8L897.7 994.7L899.9 994.8L895.7 1004.3Z" fill="#ffaf00"/>
<path d="M923.8 1005.2L927.8 995.8L929.4 997.3L930.3 986.8L923.4 994.8L925.6 994.9L921.6 1004.3Z" fill="#0066ff"/>
<path d="M947.0 1000.9L951.4 997.8L951.9 1000.0L958.3 991.6L948.2 994.7L950.1 995.9L945.7 999.0Z" fill="#0000c5"/>
<path d="M972.3 990.7L976.2 995.3L974.1 996.0L983.0 1001.6L979.0 991.9L978.0 993.8L974.1 989.2Z" fill="#0000d6"/>
<path d="M1002.8 984.9L1002.8 997.5L1000.7 996.7L1003.9 1006.7L1007.1 996.7L1005.0 997.5L1005.0 984.9Z" fill="#3effb9"/>
<path d="M1028.5 985.3L1028.5 997.1L1026.5 996.3L1029.7 1006.3L1032.9 996.3L1030.9 997.1L1030.9 985.3Z" fill="#f7f600"/>
<path d="M1062.2 990.6L1055.7 994.4L1055.3 992.2L1048.3 1000.0L1058.5 997.8L1056.8 996.4L1063.3 992.6Z" fill="#ff5000"/>
<path d="M1090.2 1001.1L1081.1 994.2L1083.0 993.0L1073.1 989.6L1079.1 998.2L1079.7 996.1L1088.8 1002.9Z" fill="#ffde00"/>
<path d="M585.4 1021.5L580.0 1017.8L581.8 1016.6L571.7 1013.6L578.2 1021.9L578.7 1019.7L584.1 1023.4Z" fill="#ff3900"/>
<path d="M612.0 1025.5L603.7 1016.0L605.8 1015.2L596.8 1009.8L601.0 1019.5L602.0 1017.5L610.3 1027.0Z" fill="#3effb9"/>
<path d="M635.7 1022.9L631.7 1018.5L633.8 1017.7L624.7 1012.4L629.0 1022.0L630.0 1020.0L634.0 1024.5Z" fill="#0000d6"/>
<path d="M657.2 1018.0L656.4 1019.4L654.8 1019.4L654.0 1018.0L654.8 1016.6L656.4 1016.6Z" fill="#000080"/>
<path d="M680.3 1008.6L680.3 1018.3L678.2 1017.5L681.4 1027.5L684.6 1017.5L682.6 1018.3L682.6 1008.6Z" fill="#004dff"/>
<path d="M706.1 1007.0L706.1 1019.8L704.0 1019.0L707.2 1029.0L710.4 1019.0L708.4 1019.8L708.4 1007.0Z" fill="#7bff7b"/>
<path d="M725.2 1011.9L732.6 1019.3L730.6 1020.2L739.9 1025.0L735.1 1015.6L734.3 1017.7L726.9 1010.3Z" fill="#ffaf00"/>
<path d="M753.7 1024.2L758.6 1019.8L759.4 1021.9L764.6 1012.8L755.0 1017.1L757.0 1018.1L752.2 1022.4Z" fill="#ff3900"/>
<path d="M782.4 1027.4L785.8 1018.1L787.5 1019.6L787.9 1009.1L781.4 1017.4L783.6 1017.3L780.3 1026.6Z" fill="#ff9700"/>
<path d="M812.5 1009.9L809.6 1016.8L808.0 1015.3L807.3 1025.8L814.0 1017.7L811.8 1017.7L814.6 1010.7Z" fill="#ff5000"/>
<path d="M837.8 1018.0L837.0 1019.4L835.4 1019.4L834.6 1018.0L835.4 1016.6L837.0 1016.6Z" fill="#910000"/>
<path d="M863.6 1018.0L862.8 1019.4L861.2 1019.4L860.4 1018.0L861.2 1016.6L862.8 1016.6Z" fill="#800000"/>
<path d="M895.0 1021.5L889.6 1017.8L891.4 1016.6L881.3 1013.6L887.8 1021.9L888.3 1019.7L893.7 1023.4Z" fill="#ff3900"/>
<path d="M921.6 1025.5L913.3 1016.0L915.4 1015.2L906.4 1009.8L910.6 1019.5L911.6 1017.5L919.9 1027.0Z" fill="#3effb9"/>
<path d="M945.3 1022.9L941.3 1018.5L943.4 1017.7L934.3 1012.4L938.6 1022.0L939.6 1020.0L943.6 1024.5Z" fill="#0000d6"/>
<path d="M966.8 1018.0L966.0 1019.4L964.4 1019.4L963.6 1018.0L964.4 1016.6L966.0 1016.6Z" fill="#000080"/>
<path d="M989.9 1008.6L989.9 1018.3L987.8 1017.5L991.0 1027.5L994.2 1017.5L992.1 1018.3L992.1 1008.6Z" fill="#004dff"/>
<path d="M1015.7 1007.0L1015.7 1019.8L1013.6 1019.0L1016.8 1029.0L1020.0 1019.0L1018.0 1019.8L1018.0 1007.0Z" fill="#7bff7b"/>
<path d="M1034.8 1011.9L1042.2 1019.3L1040.2 1020.2L1049.5 1025.0L1044.7 1015.6L1043.9 1017.7L1036.5 1010.3Z" fill="#ffaf00"/>
<path d="M1063.3 1024.2L1068.2 1019.8L1069.0 1021.9L1074.2 1012.8L1064.6 1017.1L1066.6 1018.1L1061.8 1022.4Z" fill="#ff3900"/>
<path d="M571.6 1042.6L568.1 1040.6L569.9 1039.2L559.6 1037.0L566.6 1044.8L567.0 1042.6L570.4 1044.6Z" fill="#f30900"/>
<path d="M601.8 1039.1L589.6 1039.1L590.5 1037.1L580.4 1040.3L590.5 1043.5L589.6 1041.4L601.8 1041.4Z" fill="#e2ff15"/>
<path d="M627.4 1042.5L615.9 1038.7L617.3 1037.0L606.8 1037.0L615.3 1043.1L615.2 1040.9L626.7 1044.7Z" fill="#00e5f7"/>
<path d="M651.9 1039.1L642.7 1039.1L643.5 1037.1L633.5 1040.3L643.5 1043.5L642.7 1041.4L651.9 1041.4Z" fill="#0033ff"/>
<path d="M675.1 1032.5L667.0 1040.1L666.2 1038.0L661.1 1047.2L670.6 1042.7L668.6 1041.8L676.7 1034.2Z" fill="#0099ff"/>
<path d="M693.1 1029.4L693.1 1042.0L691.1 1041.2L694.3 1051.2L697.5 1041.2L695.4 1042.0L695.4 1029.4Z" fill="#b9ff3e"/>
<path d="M727.3 1047.1L720.6 1039.1L722.7 1038.3L713.8 1032.8L717.8 1042.5L718.8 1040.5L725.5 1048.5Z" fill="#ffaf00"/>
<path d="M735.8 1041.4L746.8 1041.4L746.0 1043.5L756.0 1040.3L746.0 1037.1L746.8 1039.1L735.8 1039.1Z" fill="#ffc600"/>
<path d="M764.0 1048.0L773.6 1040.2L774.3 1042.3L780.1 1033.5L770.3 1037.3L772.2 1038.4L762.6 1046.2Z" fill="#ceff29"/>
<path d="M789.7 1048.1L799.6 1040.1L800.3 1042.2L806.0 1033.4L796.2 1037.2L798.1 1038.3L788.3 1046.3Z" fill="#a5ff52"/>
<path d="M813.8 1041.4L823.6 1041.4L822.8 1043.5L832.8 1040.3L822.8 1037.1L823.6 1039.1L813.8 1039.1Z" fill="#ff9700"/>
<path d="M847.9 1035.1L847.9 1036.3L845.9 1035.5L849.1 1045.5L852.3 1035.5L850.2 1036.3L850.2 1035.1Z" fill="#c50000"/>
<path d="M868.6 1038.0L872.1 1040.0L870.3 1041.4L880.6 1043.6L873.6 1035.8L873.2 1038.0L869.8 1036.0Z" fill="#f30900"/>
<path d="M911.4 1039.1L899.2 1039.1L900.1 1037.1L890.0 1040.3L900.1 1043.5L899.2 1041.4L911.4 1041.4Z" fill="#e2ff15"/>
<path d="M937.0 1042.5L925.5 1038.7L926.9 1037.0L916.4 1037.0L924.9 1043.1L924.8 1040.9L936.3 1044.7Z" fill="#00e5f7"/>
<path d="M961.5 1039.1L952.3 1039.1L953.1 1037.1L943.1 1040.3L953.1 1043.5L952.3 1041.4L961.5 1041.4Z" fill="#0033ff"/>
<path d="M984.7 1032.5L976.6 1040.1L975.8 1038.0L970.7 1047.2L980.2 1042.7L978.2 1041.8L986.3 1034.2Z" fill="#0099ff"/>
<path d="M1002.8 1029.4L1002.8 1042.0L1000.7 1041.2L1003.9 1051.2L1007.1 1041.2L1005.0 1042.0L1005.0 1029.4Z" fill="#b9ff3e"/>
<path d="M1036.9 1047.1L1030.2 1039.1L1032.3 1038.3L1023.4 1032.8L1027.4 1042.5L1028.4 1040.5L1035.1 1048.5Z" fill="#ffaf00"/>
<path d="M1045.4 1041.4L1056.4 1041.4L1055.6 1043.5L1065.6 1040.3L1055.6 1037.1L1056.4 1039.1L1045.4 1039.1Z" fill="#ffc600"/>
<path d="M1073.6 1048.0L1083.2 1040.2L1083.9 1042.3L1089.7 1033.5L1079.9 1037.3L1081.8 1038.4L1072.2 1046.2Z" fill="#ceff29"/>
<path d="M571.0 1069.4L579.4 1063.1L580.0 1065.2L586.0 1056.6L576.1 1060.1L578.0 1061.2L569.7 1067.5Z" fill="#ffaf00"/>
<path d="M614.8 1061.4L602.4 1061.4L603.2 1059.3L593.2 1062.5L603.2 1065.7L602.4 1063.7L614.8 1063.7Z" fill="#ceff29"/>
<path d="M640.7 1064.4L628.4 1060.9L629.7 1059.2L619.2 1059.5L628.0 1065.3L627.8 1063.1L640.0 1066.7Z" fill="#90ff67"/>
<path d="M666.5 1061.4L653.9 1061.4L654.7 1059.3L644.7 1062.5L654.7 1065.7L653.9 1063.7L666.5 1063.7Z" fill="#b9ff3e"/>
<path d="M686.7 1056.6L681.7 1060.8L681.0 1058.7L675.4 1067.6L685.1 1063.6L683.2 1062.5L688.2 1058.4Z" fill="#ff3900"/>
<path d="M710.8 1065.9L710.4 1065.2L712.4 1064.8L704.5 1058.5L707.3 1068.2L708.5 1066.5L709.0 1067.1Z" fill="#b90000"/>
<path d="M741.2 1059.1L733.1 1061.3L733.3 1059.1L724.5 1064.8L735.0 1065.3L733.7 1063.5L741.8 1061.4Z" fill="#ff6800"/>
<path d="M751.3 1070.6L760.9 1062.2L761.7 1064.3L767.1 1055.3L757.4 1059.4L759.4 1060.5L749.8 1068.9Z" fill="#90ff67"/>
<path d="M777.3 1070.4L786.4 1062.4L787.2 1064.5L792.6 1055.5L783.0 1059.7L784.9 1060.7L775.8 1068.6Z" fill="#00e5f7"/>
<path d="M800.2 1063.7L811.4 1063.7L810.6 1065.7L820.6 1062.5L810.6 1059.3L811.4 1061.4L800.2 1061.4Z" fill="#0099ff"/>
<path d="M827.9 1055.3L836.5 1064.6L834.5 1065.4L843.6 1070.5L839.2 1061.0L838.2 1063.0L829.6 1053.8Z" fill="#3effb9"/>
<path d="M860.9 1051.9L860.9 1064.0L858.8 1063.2L862.0 1073.2L865.2 1063.2L863.1 1064.0L863.1 1051.9Z" fill="#e2ff15"/>
<path d="M880.6 1069.4L889.0 1063.1L889.6 1065.2L895.6 1056.6L885.7 1060.1L887.6 1061.2L879.3 1067.5Z" fill="#ffaf00"/>
<path d="M924.4 1061.4L912.0 1061.4L912.8 1059.3L902.8 1062.5L912.8 1065.7L912.0 1063.7L924.4 1063.7Z" fill="#ceff29"/>
<path d="M950.3 1064.4L938.0 1060.9L939.3 1059.2L928.8 1059.5L937.6 1065.3L937.4 1063.1L949.6 1066.7Z" fill="#90ff67"/>
<path d="M976.1 1061.4L963.5 1061.4L964.3 1059.3L954.3 1062.5L964.3 1065.7L963.5 1063.7L976.1 1063.7Z" fill="#b9ff3e"/>
<path d="M996.3 1056.6L991.3 1060.8L990.6 1058.7L985.0 1067.6L994.7 1063.6L992.8 1062.5L997.8 1058.4Z" fill="#ff3900"/>
<path d="M1020.4 1065.9L1020.0 1065.2L1022.0 1064.8L1014.1 1058.5L1016.9 1068.2L1018.1 1066.5L1018.6 1067.1Z" fill="#b90000"/>
<path d="M1050.8 1059.1L1042.7 1061.3L1042.9 1059.1L1034.1 1064.8L1044.6 1065.3L1043.3 1063.5L1051.4 1061.4Z" fill="#ff6800"/>
<path d="M1060.9 1070.6L1070.5 1062.2L1071.3 1064.3L1076.7 1055.3L1067.0 1059.4L1069.0 1060.5L1059.4 1068.9Z" fill="#90ff67"/>
<path d="M564.1 1074.3L564.1 1086.1L562.1 1085.2L565.3 1095.3L568.5 1085.2L566.4 1086.1L566.4 1074.3Z" fill="#f7f600"/>
<path d="M597.8 1079.6L591.3 1083.3L590.9 1081.1L583.9 1088.9L594.1 1086.7L592.4 1085.3L598.9 1081.6Z" fill="#ff5000"/>
<path d="M625.8 1090.0L616.7 1083.2L618.6 1082.0L608.7 1078.6L614.7 1087.2L615.3 1085.0L624.4 1091.9Z" fill="#ffde00"/>
<path d="M650.8 1089.9L643.2 1083.7L645.1 1082.6L635.3 1078.8L641.0 1087.6L641.7 1085.4L649.4 1091.6Z" fill="#ff9700"/>
<path d="M673.7 1086.2L672.5 1085.6L674.2 1084.2L663.9 1082.3L671.2 1089.8L671.5 1087.6L672.6 1088.2Z" fill="#c50000"/>
<path d="M695.9 1084.8L695.1 1086.2L693.5 1086.2L692.7 1084.8L693.5 1083.4L695.1 1083.4Z" fill="#800000"/>
<path d="M721.7 1084.8L720.9 1086.2L719.3 1086.2L718.5 1084.8L719.3 1083.4L720.9 1083.4Z" fill="#800000"/>
<path d="M743.0 1094.2L747.2 1084.7L748.8 1086.2L749.9 1075.8L742.9 1083.6L745.1 1083.7L740.9 1093.3Z" fill="#ffaf00"/>
<path d="M769.0 1094.2L773.0 1084.7L774.6 1086.3L775.5 1075.8L768.6 1083.8L770.8 1083.8L766.8 1093.3Z" fill="#0066ff"/>
<path d="M792.2 1089.9L796.6 1086.8L797.1 1088.9L803.5 1080.6L793.4 1083.7L795.3 1084.9L790.9 1088.0Z" fill="#0000c5"/>
<path d="M817.5 1079.7L821.4 1084.3L819.3 1085.0L828.2 1090.6L824.2 1080.9L823.2 1082.8L819.3 1078.2Z" fill="#0000d6"/>
<path d="M847.9 1073.8L847.9 1086.5L845.9 1085.7L849.1 1095.7L852.3 1085.7L850.2 1086.5L850.2 1073.8Z" fill="#3effb9"/>
<path d="M873.8 1074.3L873.8 1086.1L871.7 1085.2L874.9 1095.3L878.1 1085.2L876.0 1086.1L876.0 1074.3Z" fill="#f7f600"/>
<path d="M907.4 1079.6L900.9 1083.3L900.5 1081.1L893.5 1088.9L903.7 1086.7L902.0 1085.3L908.5 1081.6Z" fill="#ff5000"/>
<path d="M935.4 1090.0L926.3 1083.2L928.2 1082.0L918.3 1078.6L924.3 1087.2L924.9 1085.0L934.0 1091.9Z" fill="#ffde00"/>
<path d="M960.4 1089.9L952.8 1083.7L954.7 1082.6L944.9 1078.8L950.6 1087.6L951.3 1085.4L959.0 1091.6Z" fill="#ff9700"/>
<path d="M983.3 1086.2L982.1 1085.6L983.8 1084.2L973.5 1082.3L980.8 1089.8L981.1 1087.6L982.2 1088.2Z" fill="#c50000"/>
<path d="M1005.5 1084.8L1004.7 1086.2L1003.1 1086.2L1002.3 1084.8L1003.1 1083.4L1004.7 1083.4Z" fill="#800000"/>
<path d="M1031.3 1084.8L1030.5 1086.2L1028.9 1086.2L1028.1 1084.8L1028.9 1083.4L1030.5 1083.4Z" fill="#800000"/>
<path d="M1052.6 1094.2L1056.8 1084.7L1058.4 1086.2L1059.5 1075.8L1052.5 1083.6L1054.7 1083.7L1050.5 1093.3Z" fill="#ffaf00"/>
<path d="M1078.6 1094.2L1082.6 1084.7L1084.2 1086.3L1085.1 1075.8L1078.2 1083.8L1080.4 1083.8L1076.4 1093.3Z" fill="#0066ff"/>
<path d="M570.4 1100.9L577.8 1108.3L575.8 1109.1L585.1 1113.9L580.3 1104.6L579.5 1106.6L572.1 1099.2Z" fill="#ffaf00"/>
<path d="M598.9 1113.1L603.8 1108.8L604.6 1110.8L609.8 1101.7L600.2 1106.0L602.2 1107.0L597.4 1111.4Z" fill="#ff3900"/>
<path d="M627.6 1116.3L631.0 1107.1L632.7 1108.6L633.1 1098.0L626.6 1106.3L628.8 1106.3L625.5 1115.6Z" fill="#ff9700"/>
<path d="M657.7 1098.8L654.8 1105.8L653.2 1104.3L652.5 1114.8L659.2 1106.7L657.0 1106.7L659.8 1099.7Z" fill="#ff5000"/>
<path d="M683.0 1107.0L682.2 1108.4L680.6 1108.4L679.8 1107.0L680.6 1105.6L682.2 1105.6Z" fill="#910000"/>
<path d="M708.8 1107.0L708.0 1108.4L706.4 1108.4L705.6 1107.0L706.4 1105.6L708.0 1105.6Z" fill="#800000"/>
<path d="M740.2 1110.4L734.8 1106.8L736.6 1105.5L726.5 1102.6L733.0 1110.9L733.5 1108.7L738.9 1112.3Z" fill="#ff3900"/>
<path d="M766.8 1114.5L758.5 1105.0L760.6 1104.2L751.6 1098.8L755.8 1108.4L756.8 1106.5L765.1 1116.0Z" fill="#3effb9"/>
<path d="M790.5 1111.9L786.5 1107.4L788.6 1106.6L779.5 1101.3L783.8 1110.9L784.8 1109.0L788.8 1113.4Z" fill="#0000d6"/>
<path d="M812.0 1107.0L811.2 1108.4L809.6 1108.4L808.8 1107.0L809.6 1105.6L811.2 1105.6Z" fill="#000080"/>
<path d="M835.1 1097.5L835.1 1107.3L833.0 1106.5L836.2 1116.5L839.4 1106.5L837.4 1107.3L837.4 1097.5Z" fill="#004dff"/>
<path d="M860.9 1096.0L860.9 1108.8L858.8 1108.0L862.0 1118.0L865.2 1108.0L863.1 1108.8L863.1 1096.0Z" fill="#7bff7b"/>
<path d="M880.0 1100.9L887.4 1108.3L885.4 1109.1L894.7 1113.9L889.9 1104.6L889.1 1106.6L881.7 1099.2Z" fill="#ffaf00"/>
<path d="M908.5 1113.1L913.4 1108.8L914.2 1110.8L919.4 1101.7L909.8 1106.0L911.8 1107.0L907.0 1111.4Z" fill="#ff3900"/>
<path d="M937.2 1116.3L940.6 1107.1L942.3 1108.6L942.7 1098.0L936.2 1106.3L938.4 1106.3L935.1 1115.6Z" fill="#ff9700"/>
<path d="M967.3 1098.8L964.4 1105.8L962.8 1104.3L962.1 1114.8L968.8 1106.7L966.6 1106.7L969.4 1099.7Z" fill="#ff5000"/>
<path d="M992.6 1107.0L991.8 1108.4L990.2 1108.4L989.4 1107.0L990.2 1105.6L991.8 1105.6Z" fill="#910000"/>
<path d="M1018.4 1107.0L1017.6 1108.4L1016.0 1108.4L1015.2 1107.0L1016.0 1105.6L1017.6 1105.6Z" fill="#800000"/>
<path d="M1049.8 1110.4L1044.4 1106.8L1046.2 1105.5L1036.1 1102.6L1042.6 1110.9L1043.1 1108.7L1048.5 1112.3Z" fill="#ff3900"/>
<path d="M1076.4 1114.5L1068.1 1105.0L1070.2 1104.2L1061.2 1098.8L1065.4 1108.4L1066.4 1106.5L1074.7 1116.0Z" fill="#3effb9"/>
<path d="M572.5 1136.0L565.8 1128.0L567.9 1127.3L559.0 1121.7L563.0 1131.4L564.0 1129.5L570.7 1137.5Z" fill="#ffaf00"/>
<path d="M581.0 1130.4L592.0 1130.4L591.2 1132.5L601.2 1129.2L591.2 1126.0L592.0 1128.1L581.0 1128.1Z" fill="#ffc600"/>
<path d="M609.2 1136.9L618.8 1129.1L619.5 1131.3L625.3 1122.5L615.5 1126.3L617.4 1127.4L607.8 1135.1Z" fill="#ceff29"/>
<path d="M634.9 1137.0L644.8 1129.0L645.5 1131.2L651.2 1122.4L641.4 1126.1L643.3 1127.2L633.5 1135.2Z" fill="#a5ff52"/>
<path d="M659.0 1130.4L668.8 1130.4L668.0 1132.5L678.0 1129.2L668.0 1126.0L668.8 1128.1L659.0 1128.1Z" fill="#ff9700"/>
<path d="M693.1 1124.0L693.1 1125.3L691.1 1124.5L694.3 1134.5L697.5 1124.5L695.4 1125.3L695.4 1124.0Z" fill="#c50000"/>
<path d="M713.8 1126.9L717.3 1128.9L715.5 1130.3L725.8 1132.5L718.8 1124.7L718.4 1126.9L715.0 1124.9Z" fill="#f30900"/>
<path d="M756.6 1128.1L744.4 1128.1L745.3 1126.0L735.2 1129.2L745.3 1132.5L744.4 1130.4L756.6 1130.4Z" fill="#e2ff15"/>
<path d="M782.2 1131.4L770.7 1127.7L772.1 1126.0L761.6 1126.0L770.1 1132.1L770.0 1129.9L781.5 1133.6Z" fill="#00e5f7"/>
<path d="M806.7 1128.1L797.5 1128.1L798.3 1126.0L788.3 1129.2L798.3 1132.5L797.5 1130.4L806.7 1130.4Z" fill="#0033ff"/>
<path d="M829.9 1121.5L821.8 1129.1L821.0 1127.0L815.9 1136.2L825.4 1131.7L823.4 1130.7L831.5 1123.1Z" fill="#0099ff"/>
<path d="M847.9 1118.4L847.9 1130.9L845.9 1130.1L849.1 1140.1L852.3 1130.1L850.2 1130.9L850.2 1118.4Z" fill="#b9ff3e"/>
<path d="M882.1 1136.0L875.4 1128.0L877.5 1127.3L868.6 1121.7L872.6 1131.4L873.6 1129.5L880.3 1137.5Z" fill="#ffaf00"/>
<path d="M890.6 1130.4L901.6 1130.4L900.8 1132.5L910.8 1129.2L900.8 1126.0L901.6 1128.1L890.6 1128.1Z" fill="#ffc600"/>
<path d="M918.8 1136.9L928.4 1129.1L929.1 1131.3L934.9 1122.5L925.1 1126.3L927.0 1127.4L917.4 1135.1Z" fill="#ceff29"/>
<path d="M944.5 1137.0L954.4 1129.0L955.1 1131.2L960.8 1122.4L951.0 1126.1L952.9 1127.2L943.1 1135.2Z" fill="#a5ff52"/>
<path d="M968.6 1130.4L978.4 1130.4L977.6 1132.5L987.6 1129.2L977.6 1126.0L978.4 1128.1L968.6 1128.1Z" fill="#ff9700"/>
<path d="M1002.8 1124.0L1002.8 1125.3L1000.7 1124.5L1003.9 1134.5L1007.1 1124.5L1005.0 1125.3L1005.0 1124.0Z" fill="#c50000"/>
<path d="M1023.4 1126.9L1026.9 1128.9L1025.1 1130.3L1035.4 1132.5L1028.4 1124.7L1028.0 1126.9L1024.6 1124.9Z" fill="#f30900"/>
<path d="M1066.2 1128.1L1054.0 1128.1L1054.9 1126.0L1044.8 1129.2L1054.9 1132.5L1054.0 1130.4L1066.2 1130.4Z" fill="#e2ff15"/>
<path d="M1091.8 1131.4L1080.3 1127.7L1081.7 1126.0L1071.2 1126.0L1079.7 1132.1L1079.6 1129.9L1091.1 1133.6Z" fill="#00e5f7"/>
<path d="M586.4 1148.1L578.3 1150.3L578.5 1148.1L569.7 1153.8L580.2 1154.3L578.9 1152.5L587.0 1150.3Z" fill="#ff6800"/>
<path d="M596.5 1159.6L606.1 1151.2L606.9 1153.3L612.3 1144.3L602.6 1148.4L604.6 1149.4L595.0 1157.8Z" fill="#90ff67"/>
<path d="M622.5 1159.3L631.6 1151.4L632.4 1153.5L637.8 1144.5L628.2 1148.6L630.1 1149.7L621.0 1157.6Z" fill="#00e5f7"/>
<path d="M645.4 1152.6L656.6 1152.6L655.8 1154.7L665.8 1151.5L655.8 1148.3L656.6 1150.3L645.4 1150.3Z" fill="#0099ff"/>
<path d="M673.1 1144.3L681.7 1153.5L679.7 1154.3L688.8 1159.5L684.4 1149.9L683.4 1151.9L674.8 1142.7Z" fill="#3effb9"/>
<path d="M706.1 1140.8L706.1 1152.9L704.0 1152.1L707.2 1162.1L710.4 1152.1L708.4 1152.9L708.4 1140.8Z" fill="#e2ff15"/>
<path d="M725.8 1158.3L734.2 1152.0L734.8 1154.2L740.8 1145.6L730.9 1149.0L732.8 1150.2L724.5 1156.5Z" fill="#ffaf00"/>
<path d="M769.6 1150.3L757.2 1150.3L758.0 1148.3L748.0 1151.5L758.0 1154.7L757.2 1152.6L769.6 1152.6Z" fill="#ceff29"/>
<path d="M795.5 1153.4L783.2 1149.9L784.5 1148.1L774.0 1148.5L782.8 1154.3L782.6 1152.1L794.8 1155.6Z" fill="#90ff67"/>
<path d="M821.3 1150.3L808.7 1150.3L809.5 1148.3L799.5 1151.5L809.5 1154.7L808.7 1152.6L821.3 1152.6Z" fill="#b9ff3e"/>
<path d="M841.5 1145.5L836.5 1149.7L835.8 1147.6L830.2 1156.5L839.9 1152.6L838.0 1151.5L843.0 1147.3Z" fill="#ff3900"/>
<path d="M865.6 1154.8L865.2 1154.2L867.2 1153.7L859.3 1147.5L862.1 1157.2L863.3 1155.4L863.8 1156.1Z" fill="#b90000"/>
<path d="M896.0 1148.1L887.9 1150.3L888.1 1148.1L879.3 1153.8L889.8 1154.3L888.5 1152.5L896.6 1150.3Z" fill="#ff6800"/>
<path d="M906.1 1159.6L915.7 1151.2L916.5 1153.3L921.9 1144.3L912.2 1148.4L914.2 1149.4L904.6 1157.8Z" fill="#90ff67"/>
<path d="M932.1 1159.3L941.2 1151.4L942.0 1153.5L947.4 1144.5L937.8 1148.6L939.7 1149.7L930.6 1157.6Z" fill="#00e5f7"/>
<path d="M955.0 1152.6L966.2 1152.6L965.4 1154.7L975.4 1151.5L965.4 1148.3L966.2 1150.3L955.0 1150.3Z" fill="#0099ff"/>
<path d="M982.7 1144.3L991.3 1153.5L989.3 1154.3L998.4 1159.5L994.0 1149.9L993.0 1151.9L984.4 1142.7Z" fill="#3effb9"/>
<path d="M1015.7 1140.8L1015.7 1152.9L1013.6 1152.1L1016.8 1162.1L1020.0 1152.1L1018.0 1152.9L1018.0 1140.8Z" fill="#e2ff15"/>
<path d="M1035.4 1158.3L1043.8 1152.0L1044.4 1154.2L1050.4 1145.6L1040.5 1149.0L1042.4 1150.2L1034.1 1156.5Z" fill="#ffaf00"/>
<path d="M1079.2 1150.3L1066.8 1150.3L1067.6 1148.3L1057.6 1151.5L1067.6 1154.7L1066.8 1152.6L1079.2 1152.6Z" fill="#ceff29"/>
<path d="M566.9 1173.7L566.1 1175.1L564.5 1175.1L563.7 1173.7L564.5 1172.3L566.1 1172.3Z" fill="#800000"/>
<path d="M588.2 1183.2L592.4 1173.6L594.0 1175.2L595.1 1164.7L588.1 1172.6L590.3 1172.7L586.1 1182.2Z" fill="#ffaf00"/>
<path d="M614.2 1183.1L618.2 1173.7L619.8 1175.2L620.7 1164.8L613.8 1172.7L616.0 1172.8L612.0 1182.2Z" fill="#0066ff"/>
<path d="M637.4 1178.8L641.8 1175.8L642.3 1177.9L648.7 1169.5L638.6 1172.6L640.5 1173.9L636.1 1177.0Z" fill="#0000c5"/>
<path d="M662.7 1168.6L666.6 1173.2L664.5 1174.0L673.4 1179.5L669.4 1169.8L668.4 1171.8L664.5 1167.2Z" fill="#0000d6"/>
<path d="M693.1 1162.8L693.1 1175.4L691.1 1174.6L694.3 1184.6L697.5 1174.6L695.4 1175.4L695.4 1162.8Z" fill="#3effb9"/>
<path d="M718.9 1163.2L718.9 1175.0L716.9 1174.2L720.1 1184.2L723.3 1174.2L721.2 1175.0L721.2 1163.2Z" fill="#f7f600"/>
<path d="M752.6 1168.5L746.1 1172.3L745.7 1170.1L738.7 1177.9L748.9 1175.7L747.2 1174.3L753.7 1170.5Z" fill="#ff5000"/>
<path d="M780.6 1179.0L771.5 1172.1L773.4 1171.0L763.5 1167.5L769.5 1176.1L770.1 1174.0L779.2 1180.8Z" fill="#ffde00"/>
<path d="M805.6 1178.8L798.0 1172.6L799.9 1171.5L790.1 1167.7L795.8 1176.5L796.5 1174.4L804.2 1180.6Z" fill="#ff9700"/>
<path d="M828.5 1175.2L827.3 1174.6L829.0 1173.1L818.7 1171.3L826.0 1178.8L826.3 1176.6L827.4 1177.2Z" fill="#c50000"/>
<path d="M850.7 1173.7L849.9 1175.1L848.3 1175.1L847.5 1173.7L848.3 1172.3L849.9 1172.3Z" fill="#800000"/>
<path d="M876.5 1173.7L875.7 1175.1L874.1 1175.1L873.3 1173.7L874.1 1172.3L875.7 1172.3Z" fill="#800000"/>
<path d="M897.8 1183.2L902.0 1173.6L903.6 1175.2L904.7 1164.7L897.7 1172.6L899.9 1172.7L895.7 1182.2Z" fill="#ffaf00"/>
<path d="M923.8 1183.1L927.8 1173.7L929.4 1175.2L930.3 1164.8L923.4 1172.7L925.6 1172.8L921.6 1182.2Z" fill="#0066ff"/>
<path d="M947.0 1178.8L951.4 1175.8L951.9 1177.9L958.3 1169.5L948.2 1172.6L950.1 1173.9L945.7 1177.0Z" fill="#0000c5"/>
<path d="M972.3 1168.6L976.2 1173.2L974.1 1174.0L983.0 1179.5L979.0 1169.8L978.0 1171.8L974.1 1167.2Z" fill="#0000d6"/>
<path d="M1002.8 1162.8L1002.8 1175.4L1000.7 1174.6L1003.9 1184.6L1007.1 1174.6L1005.0 1175.4L1005.0 1162.8Z" fill="#3effb9"/>
<path d="M1028.5 1163.2L1028.5 1175.0L1026.5 1174.2L1029.7 1184.2L1032.9 1174.2L1030.9 1175.0L1030.9 1163.2Z" fill="#f7f600"/>
<path d="M1062.2 1168.5L1055.7 1172.3L1055.3 1170.1L1048.3 1177.9L1058.5 1175.7L1056.8 1174.3L1063.3 1170.5Z" fill="#ff5000"/>
<path d="M1090.2 1179.0L1081.1 1172.1L1083.0 1171.0L1073.1 1167.5L1079.1 1176.1L1079.7 1174.0L1088.8 1180.8Z" fill="#ffde00"/></g></g>
<g clip-path="url(#cpd)"><g filter="url(#bl)" stroke="#000" stroke-opacity="0.4" stroke-width="0.7" stroke-linejoin="round"><path d="M1099.5 674.4L1106.1 665.0L1107.3 666.9L1110.4 656.8L1102.1 663.2L1104.2 663.7L1097.6 673.1Z" fill="#00b2ff"/>
<path d="M1131.2 675.8L1131.2 664.0L1133.2 664.8L1130.0 654.8L1126.8 664.8L1128.8 664.0L1128.8 675.8Z" fill="#00ccff"/>
<path d="M1164.7 671.3L1154.9 663.3L1156.8 662.2L1147.0 658.4L1152.8 667.2L1153.4 665.1L1163.3 673.1Z" fill="#3effb9"/>
<path d="M1191.7 664.1L1179.5 664.1L1180.4 662.1L1170.3 665.3L1180.4 668.5L1179.5 666.4L1191.7 666.4Z" fill="#e2ff15"/>
<path d="M1211.7 658.1L1205.9 664.2L1205.0 662.2L1200.5 671.7L1209.7 666.6L1207.6 665.8L1213.3 659.6Z" fill="#ff6800"/>
<path d="M1231.0 661.0L1231.0 661.7L1229.2 661.0L1232.0 669.6L1234.8 661.0L1233.0 661.7L1233.0 661.0Z" fill="#ae0000"/>
<path d="M1259.1 665.3L1258.3 666.7L1256.7 666.7L1255.9 665.3L1256.7 663.9L1258.3 663.9Z" fill="#800000"/>
<path d="M1284.6 665.3L1283.8 666.7L1282.2 666.7L1281.4 665.3L1282.2 663.9L1283.8 663.9Z" fill="#800000"/>
<path d="M1312.0 660.6L1310.3 662.2L1309.5 660.1L1304.2 669.2L1313.8 664.9L1311.8 663.9L1313.6 662.3Z" fill="#d60000"/>
<path d="M1332.8 655.8L1332.8 665.6L1330.8 664.8L1334.0 674.8L1337.2 664.8L1335.2 665.6L1335.2 655.8Z" fill="#ff9700"/>
<path d="M1350.6 658.8L1360.1 667.3L1358.1 668.3L1367.7 672.7L1362.4 663.6L1361.6 665.6L1352.1 657.1Z" fill="#90ff67"/>
<path d="M1374.2 666.4L1386.6 666.4L1385.8 668.5L1395.8 665.3L1385.8 662.1L1386.6 664.1L1374.2 664.1Z" fill="#29ffce"/>
<path d="M1405.5 674.4L1412.1 665.0L1413.3 666.9L1416.4 656.8L1408.1 663.2L1410.2 663.7L1403.6 673.1Z" fill="#00b2ff"/>
<path d="M1437.2 675.8L1437.2 664.0L1439.2 664.8L1436.0 654.8L1432.8 664.8L1434.8 664.0L1434.8 675.8Z" fill="#00ccff"/>
<path d="M1470.7 671.3L1460.9 663.3L1462.8 662.2L1453.0 658.4L1458.8 667.2L1459.4 665.1L1469.3 673.1Z" fill="#3effb9"/>
<path d="M1497.7 664.1L1485.5 664.1L1486.4 662.1L1476.3 665.3L1486.4 668.5L1485.5 666.4L1497.7 666.4Z" fill="#e2ff15"/>
<path d="M1517.7 658.1L1511.9 664.2L1511.0 662.2L1506.5 671.7L1515.7 666.6L1513.6 665.8L1519.3 659.6Z" fill="#ff6800"/>
<path d="M1537.0 661.0L1537.0 661.7L1535.2 661.0L1538.0 669.6L1540.8 661.0L1539.0 661.7L1539.0 661.0Z" fill="#ae0000"/>
<path d="M1565.1 665.3L1564.3 666.7L1562.7 666.7L1561.9 665.3L1562.7 663.9L1564.3 663.9Z" fill="#800000"/>
<path d="M1590.6 665.3L1589.8 666.7L1588.2 666.7L1587.4 665.3L1588.2 663.9L1589.8 663.9Z" fill="#800000"/>
<path d="M1618.0 660.6L1616.3 662.2L1615.5 660.1L1610.2 669.2L1619.8 664.9L1617.8 663.9L1619.6 662.3Z" fill="#d60000"/>
<path d="M1118.4 698.4L1118.4 686.1L1120.5 686.9L1117.2 676.9L1114.0 686.9L1116.1 686.1L1116.1 698.4Z" fill="#15ffe2"/>
<path d="M1150.9 694.1L1142.8 686.0L1144.8 685.1L1135.4 680.3L1140.2 689.7L1141.1 687.6L1149.3 695.8Z" fill="#00b2ff"/>
<path d="M1178.6 686.5L1167.1 686.5L1167.9 684.4L1157.9 687.6L1167.9 690.9L1167.1 688.8L1178.6 688.8Z" fill="#00b2ff"/>
<path d="M1201.0 679.3L1191.7 688.0L1190.9 685.9L1185.7 695.1L1195.2 690.6L1193.2 689.7L1202.6 681.0Z" fill="#52ffa5"/>
<path d="M1218.1 677.0L1218.1 689.1L1216.0 688.3L1219.2 698.3L1222.5 688.3L1220.4 689.1L1220.4 677.0Z" fill="#e2ff15"/>
<path d="M1239.1 680.8L1243.6 687.9L1241.4 688.3L1249.4 695.1L1246.8 684.9L1245.5 686.7L1241.1 679.6Z" fill="#ff6800"/>
<path d="M1274.6 686.6L1273.9 686.6L1274.6 684.9L1265.9 687.6L1274.6 690.4L1273.9 688.6L1274.6 688.6Z" fill="#ae0000"/>
<path d="M1297.4 687.6L1296.6 689.0L1294.9 689.0L1294.1 687.6L1294.9 686.2L1296.6 686.2Z" fill="#800000"/>
<path d="M1322.9 687.6L1322.1 689.0L1320.4 689.0L1319.6 687.6L1320.4 686.2L1322.1 686.2Z" fill="#800000"/>
<path d="M1341.7 684.6L1343.4 686.2L1341.5 687.2L1351.1 691.5L1345.8 682.4L1345.0 684.5L1343.2 682.9Z" fill="#d60000"/>
<path d="M1362.7 688.8L1372.6 688.8L1371.8 690.9L1381.8 687.6L1371.8 684.4L1372.6 686.5L1362.7 686.5Z" fill="#ff9700"/>
<path d="M1391.6 696.8L1399.8 687.0L1400.8 689.0L1404.8 679.2L1395.9 684.8L1398.0 685.5L1389.8 695.3Z" fill="#90ff67"/>
<path d="M1424.4 698.4L1424.4 686.1L1426.5 686.9L1423.2 676.9L1420.0 686.9L1422.1 686.1L1422.1 698.4Z" fill="#15ffe2"/>
<path d="M1456.9 694.1L1448.8 686.0L1450.8 685.1L1441.4 680.3L1446.2 689.7L1447.1 687.6L1455.3 695.8Z" fill="#00b2ff"/>
<path d="M1484.6 686.5L1473.1 686.5L1473.9 684.4L1463.9 687.6L1473.9 690.9L1473.1 688.8L1484.6 688.8Z" fill="#00b2ff"/>
<path d="M1507.0 679.3L1497.7 688.0L1496.9 685.9L1491.7 695.1L1501.2 690.6L1499.2 689.7L1508.6 681.0Z" fill="#52ffa5"/>
<path d="M1524.1 677.0L1524.1 689.1L1522.0 688.3L1525.2 698.3L1528.5 688.3L1526.4 689.1L1526.4 677.0Z" fill="#e2ff15"/>
<path d="M1545.1 680.8L1549.6 687.9L1547.4 688.3L1555.4 695.1L1552.8 684.9L1551.5 686.7L1547.1 679.6Z" fill="#ff6800"/>
<path d="M1580.6 686.6L1579.9 686.6L1580.6 684.9L1571.9 687.6L1580.6 690.4L1579.9 688.6L1580.6 688.6Z" fill="#ae0000"/>
<path d="M1603.4 687.6L1602.6 689.0L1600.9 689.0L1600.1 687.6L1600.9 686.2L1602.6 686.2Z" fill="#800000"/>
<path d="M1105.7 719.5L1105.7 709.7L1107.7 710.5L1104.5 700.5L1101.3 710.5L1103.3 709.7L1103.3 719.5Z" fill="#ff9700"/>
<path d="M1138.8 716.6L1129.5 707.9L1131.5 707.0L1122.0 702.5L1127.1 711.7L1127.9 709.6L1137.3 718.3Z" fill="#90ff67"/>
<path d="M1166.4 708.8L1153.8 708.8L1154.6 706.8L1144.6 710.0L1154.6 713.2L1153.8 711.1L1166.4 711.1Z" fill="#3effb9"/>
<path d="M1187.4 702.0L1179.5 709.8L1178.6 707.8L1173.8 717.2L1183.2 712.4L1181.1 711.5L1189.0 703.6Z" fill="#0099ff"/>
<path d="M1205.3 699.8L1205.3 710.9L1203.3 710.1L1206.5 720.1L1209.7 710.1L1207.7 710.9L1207.7 699.8Z" fill="#0099ff"/>
<path d="M1223.2 703.3L1232.5 712.0L1230.5 713.0L1240.0 717.5L1234.9 708.3L1234.1 710.3L1224.8 701.7Z" fill="#52ffa5"/>
<path d="M1268.2 708.8L1256.0 708.8L1256.9 706.8L1246.8 710.0L1256.9 713.2L1256.0 711.1L1268.2 711.1Z" fill="#e2ff15"/>
<path d="M1288.4 702.9L1282.5 708.9L1281.6 706.9L1276.8 716.2L1286.1 711.4L1284.1 710.5L1290.0 704.6Z" fill="#ff6800"/>
<path d="M1307.4 705.2L1307.4 706.0L1305.4 705.2L1308.5 714.8L1311.6 705.2L1309.6 706.0L1309.6 705.2Z" fill="#b90000"/>
<path d="M1335.6 710.0L1334.8 711.4L1333.2 711.4L1332.4 710.0L1333.2 708.6L1334.8 708.6Z" fill="#800000"/>
<path d="M1361.1 710.0L1360.3 711.4L1358.7 711.4L1357.9 710.0L1358.7 708.6L1360.3 708.6Z" fill="#800000"/>
<path d="M1381.5 714.7L1383.2 713.1L1384.0 715.2L1389.3 706.1L1379.7 710.4L1381.7 711.4L1379.9 713.0Z" fill="#d60000"/>
<path d="M1411.7 719.5L1411.7 709.7L1413.7 710.5L1410.5 700.5L1407.3 710.5L1409.3 709.7L1409.3 719.5Z" fill="#ff9700"/>
<path d="M1444.8 716.6L1435.5 707.9L1437.5 707.0L1428.0 702.5L1433.1 711.7L1433.9 709.6L1443.3 718.3Z" fill="#90ff67"/>
<path d="M1472.4 708.8L1459.8 708.8L1460.6 706.8L1450.6 710.0L1460.6 713.2L1459.8 711.1L1472.4 711.1Z" fill="#3effb9"/>
<path d="M1493.4 702.0L1485.5 709.8L1484.6 707.8L1479.8 717.2L1489.2 712.4L1487.1 711.5L1495.0 703.6Z" fill="#0099ff"/>
<path d="M1511.3 699.8L1511.3 710.9L1509.3 710.1L1512.5 720.1L1515.7 710.1L1513.7 710.9L1513.7 699.8Z" fill="#0099ff"/>
<path d="M1529.2 703.3L1538.5 712.0L1536.5 713.0L1546.0 717.5L1540.9 708.3L1540.1 710.3L1530.8 701.7Z" fill="#52ffa5"/>
<path d="M1574.2 708.8L1562.0 708.8L1562.9 706.8L1552.8 710.0L1562.9 713.2L1562.0 711.1L1574.2 711.1Z" fill="#e2ff15"/>
<path d="M1594.4 702.9L1588.5 708.9L1587.6 706.9L1582.8 716.2L1592.1 711.4L1590.1 710.5L1596.0 704.6Z" fill="#ff6800"/>
<path d="M1613.4 705.2L1613.4 706.0L1611.4 705.2L1614.5 714.8L1617.6 705.2L1615.6 706.0L1615.6 705.2Z" fill="#b90000"/>
<path d="M1122.3 735.3L1120.6 733.7L1122.5 732.7L1112.9 728.4L1118.2 737.5L1119.0 735.5L1120.8 737.1Z" fill="#d60000"/>
<path d="M1152.3 731.2L1142.4 731.2L1143.2 729.1L1133.2 732.3L1143.2 735.5L1142.4 733.5L1152.3 733.5Z" fill="#ff9700"/>
<path d="M1175.2 723.7L1166.2 732.8L1165.3 730.7L1160.5 740.1L1169.8 735.3L1167.8 734.4L1176.8 725.4Z" fill="#90ff67"/>
<path d="M1192.6 721.5L1192.6 734.0L1190.5 733.2L1193.8 743.2L1197.0 733.2L1194.9 734.0L1194.9 721.5Z" fill="#29ffce"/>
<path d="M1210.8 726.5L1219.2 733.8L1217.3 734.9L1226.9 739.0L1221.5 730.0L1220.7 732.1L1212.3 724.8Z" fill="#0099ff"/>
<path d="M1234.4 733.5L1245.9 733.5L1245.1 735.5L1255.1 732.3L1245.1 729.1L1245.9 731.2L1234.4 731.2Z" fill="#00b2ff"/>
<path d="M1277.2 723.8L1268.2 732.7L1267.3 730.7L1262.5 740.0L1271.9 735.2L1269.9 734.3L1278.8 725.4Z" fill="#3effb9"/>
<path d="M1294.6 721.7L1294.6 733.8L1292.5 733.0L1295.8 743.0L1299.0 733.0L1296.9 733.8L1296.9 721.7Z" fill="#e2ff15"/>
<path d="M1313.8 727.5L1320.2 732.9L1318.3 734.0L1328.0 738.0L1322.4 729.1L1321.7 731.2L1315.2 725.8Z" fill="#ff6800"/>
<path d="M1342.0 733.4L1342.7 733.4L1342.0 735.4L1351.5 732.3L1342.0 729.2L1342.7 731.2L1342.0 731.2Z" fill="#b90000"/>
<path d="M1373.9 732.3L1373.1 733.7L1371.4 733.7L1370.6 732.3L1371.4 730.9L1373.1 730.9Z" fill="#800000"/>
<path d="M1399.4 732.3L1398.6 733.7L1396.9 733.7L1396.1 732.3L1396.9 730.9L1398.6 730.9Z" fill="#800000"/>
<path d="M1428.3 735.3L1426.6 733.7L1428.5 732.7L1418.9 728.4L1424.2 737.5L1425.0 735.5L1426.8 737.1Z" fill="#d60000"/>
<path d="M1458.3 731.2L1448.4 731.2L1449.2 729.1L1439.2 732.3L1449.2 735.5L1448.4 733.5L1458.3 733.5Z" fill="#ff9700"/>
<path d="M1481.2 723.7L1472.2 732.8L1471.3 730.7L1466.5 740.1L1475.8 735.3L1473.8 734.4L1482.8 725.4Z" fill="#90ff67"/>
<path d="M1498.6 721.5L1498.6 734.0L1496.5 733.2L1499.8 743.2L1503.0 733.2L1500.9 734.0L1500.9 721.5Z" fill="#29ffce"/>
<path d="M1516.8 726.5L1525.2 733.8L1523.3 734.9L1532.9 739.0L1527.5 730.0L1526.7 732.1L1518.3 724.8Z" fill="#0099ff"/>
<path d="M1540.4 733.5L1551.9 733.5L1551.1 735.5L1561.1 732.3L1551.1 729.1L1551.9 731.2L1540.4 731.2Z" fill="#00b2ff"/>
<path d="M1583.2 723.8L1574.2 732.7L1573.3 730.7L1568.5 740.0L1577.9 735.2L1575.9 734.3L1584.8 725.4Z" fill="#3effb9"/>
<path d="M1600.6 721.7L1600.6 733.8L1598.5 733.0L1601.8 743.0L1605.0 733.0L1602.9 733.8L1602.9 721.7Z" fill="#e2ff15"/>
<path d="M1106.1 754.7L1105.3 756.1L1103.7 756.1L1102.9 754.7L1103.7 753.3L1105.3 753.3Z" fill="#800000"/>
<path d="M1131.6 754.7L1130.8 756.1L1129.2 756.1L1128.4 754.7L1129.2 753.3L1130.8 753.3Z" fill="#800000"/>
<path d="M1159.0 749.9L1157.3 751.5L1156.5 749.4L1151.2 758.5L1160.8 754.2L1158.8 753.2L1160.6 751.6Z" fill="#d60000"/>
<path d="M1179.8 745.1L1179.8 755.0L1177.8 754.2L1181.0 764.2L1184.2 754.2L1182.2 755.0L1182.2 745.1Z" fill="#ff9700"/>
<path d="M1197.6 748.2L1207.1 756.7L1205.1 757.7L1214.7 762.0L1209.4 752.9L1208.6 755.0L1199.1 746.5Z" fill="#90ff67"/>
<path d="M1221.2 755.8L1233.6 755.8L1232.8 757.9L1242.8 754.7L1232.8 751.4L1233.6 753.5L1221.2 753.5Z" fill="#29ffce"/>
<path d="M1252.5 763.8L1259.1 754.4L1260.3 756.2L1263.4 746.2L1255.1 752.5L1257.2 753.1L1250.6 762.5Z" fill="#00b2ff"/>
<path d="M1284.2 765.2L1284.2 753.4L1286.2 754.2L1283.0 744.2L1279.8 754.2L1281.8 753.4L1281.8 765.2Z" fill="#00ccff"/>
<path d="M1317.7 760.6L1307.9 752.7L1309.8 751.6L1300.0 747.8L1305.8 756.6L1306.4 754.5L1316.3 762.4Z" fill="#3effb9"/>
<path d="M1344.7 753.5L1332.5 753.5L1333.4 751.4L1323.3 754.7L1333.4 757.9L1332.5 755.8L1344.7 755.8Z" fill="#e2ff15"/>
<path d="M1364.7 747.4L1358.9 753.6L1358.0 751.6L1353.5 761.1L1362.7 756.0L1360.6 755.2L1366.3 749.0Z" fill="#ff6800"/>
<path d="M1384.0 750.3L1384.0 751.0L1382.2 750.3L1385.0 759.0L1387.8 750.3L1386.0 751.0L1386.0 750.3Z" fill="#ae0000"/>
<path d="M1412.1 754.7L1411.3 756.1L1409.7 756.1L1408.9 754.7L1409.7 753.3L1411.3 753.3Z" fill="#800000"/>
<path d="M1437.6 754.7L1436.8 756.1L1435.2 756.1L1434.4 754.7L1435.2 753.3L1436.8 753.3Z" fill="#800000"/>
<path d="M1465.0 749.9L1463.3 751.5L1462.5 749.4L1457.2 758.5L1466.8 754.2L1464.8 753.2L1466.6 751.6Z" fill="#d60000"/>
<path d="M1485.8 745.1L1485.8 755.0L1483.8 754.2L1487.0 764.2L1490.2 754.2L1488.2 755.0L1488.2 745.1Z" fill="#ff9700"/>
<path d="M1503.6 748.2L1513.1 756.7L1511.1 757.7L1520.7 762.0L1515.4 752.9L1514.6 755.0L1505.1 746.5Z" fill="#90ff67"/>
<path d="M1527.2 755.8L1539.6 755.8L1538.8 757.9L1548.8 754.7L1538.8 751.4L1539.6 753.5L1527.2 753.5Z" fill="#29ffce"/>
<path d="M1558.5 763.8L1565.1 754.4L1566.3 756.2L1569.4 746.2L1561.1 752.5L1563.2 753.1L1556.6 762.5Z" fill="#00b2ff"/>
<path d="M1590.2 765.2L1590.2 753.4L1592.2 754.2L1589.0 744.2L1585.8 754.2L1587.8 753.4L1587.8 765.2Z" fill="#00ccff"/>
<path d="M1623.7 760.6L1613.9 752.7L1615.8 751.6L1606.0 747.8L1611.8 756.6L1612.4 754.5L1622.3 762.4Z" fill="#3effb9"/>
<path d="M1121.6 776.0L1120.9 776.0L1121.6 774.2L1112.9 777.0L1121.6 779.8L1120.9 778.0L1121.6 778.0Z" fill="#ae0000"/>
<path d="M1144.4 777.0L1143.6 778.4L1141.9 778.4L1141.1 777.0L1141.9 775.6L1143.6 775.6Z" fill="#800000"/>
<path d="M1169.9 777.0L1169.1 778.4L1167.4 778.4L1166.6 777.0L1167.4 775.6L1169.1 775.6Z" fill="#800000"/>
<path d="M1188.7 774.0L1190.4 775.6L1188.5 776.6L1198.1 780.9L1192.8 771.8L1192.0 773.9L1190.2 772.3Z" fill="#d60000"/>
<path d="M1209.7 778.1L1219.6 778.1L1218.8 780.2L1228.8 777.0L1218.8 773.8L1219.6 775.9L1209.7 775.9Z" fill="#ff9700"/>
<path d="M1238.6 786.2L1246.8 776.4L1247.8 778.3L1251.8 768.6L1242.9 774.2L1245.0 774.9L1236.8 784.7Z" fill="#90ff67"/>
<path d="M1271.4 787.7L1271.4 775.5L1273.5 776.3L1270.2 766.3L1267.0 776.3L1269.1 775.5L1269.1 787.7Z" fill="#15ffe2"/>
<path d="M1303.9 783.5L1295.8 775.4L1297.8 774.5L1288.4 769.7L1293.2 779.0L1294.1 777.0L1302.3 785.1Z" fill="#00b2ff"/>
<path d="M1331.6 775.9L1320.1 775.9L1320.9 773.8L1310.9 777.0L1320.9 780.2L1320.1 778.1L1331.6 778.1Z" fill="#00b2ff"/>
<path d="M1354.0 768.7L1344.7 777.4L1343.9 775.3L1338.7 784.5L1348.2 780.0L1346.2 779.0L1355.6 770.4Z" fill="#52ffa5"/>
<path d="M1371.1 766.3L1371.1 778.5L1369.0 777.6L1372.2 787.7L1375.5 777.6L1373.4 778.5L1373.4 766.3Z" fill="#e2ff15"/>
<path d="M1392.1 770.1L1396.6 777.3L1394.4 777.7L1402.4 784.5L1399.8 774.3L1398.5 776.1L1394.1 768.9Z" fill="#ff6800"/>
<path d="M1427.6 776.0L1426.9 776.0L1427.6 774.2L1418.9 777.0L1427.6 779.8L1426.9 778.0L1427.6 778.0Z" fill="#ae0000"/>
<path d="M1450.4 777.0L1449.6 778.4L1447.9 778.4L1447.1 777.0L1447.9 775.6L1449.6 775.6Z" fill="#800000"/>
<path d="M1475.9 777.0L1475.1 778.4L1473.4 778.4L1472.6 777.0L1473.4 775.6L1475.1 775.6Z" fill="#800000"/>
<path d="M1494.7 774.0L1496.4 775.6L1494.5 776.6L1504.1 780.9L1498.8 771.8L1498.0 773.9L1496.2 772.3Z" fill="#d60000"/>
<path d="M1515.7 778.1L1525.6 778.1L1524.8 780.2L1534.8 777.0L1524.8 773.8L1525.6 775.9L1515.7 775.9Z" fill="#ff9700"/>
<path d="M1544.6 786.2L1552.8 776.4L1553.8 778.3L1557.8 768.6L1548.9 774.2L1551.0 774.9L1542.8 784.7Z" fill="#90ff67"/>
<path d="M1577.4 787.7L1577.4 775.5L1579.5 776.3L1576.2 766.3L1573.0 776.3L1575.1 775.5L1575.1 787.7Z" fill="#15ffe2"/>
<path d="M1609.9 783.5L1601.8 775.4L1603.8 774.5L1594.4 769.7L1599.2 779.0L1600.1 777.0L1608.3 785.1Z" fill="#00b2ff"/>
<path d="M1115.2 798.2L1103.0 798.2L1103.9 796.1L1093.8 799.3L1103.9 802.6L1103.0 800.5L1115.2 800.5Z" fill="#e2ff15"/>
<path d="M1135.4 792.3L1129.5 798.2L1128.6 796.2L1123.8 805.6L1133.1 800.8L1131.1 799.9L1137.0 793.9Z" fill="#ff6800"/>
<path d="M1154.4 794.5L1154.4 795.3L1152.4 794.5L1155.5 804.1L1158.6 794.5L1156.6 795.3L1156.6 794.5Z" fill="#b90000"/>
<path d="M1182.6 799.3L1181.8 800.7L1180.2 800.7L1179.4 799.3L1180.2 797.9L1181.8 797.9Z" fill="#800000"/>
<path d="M1208.1 799.3L1207.3 800.7L1205.7 800.7L1204.9 799.3L1205.7 797.9L1207.3 797.9Z" fill="#800000"/>
<path d="M1228.5 804.1L1230.2 802.5L1231.0 804.6L1236.3 795.5L1226.7 799.8L1228.7 800.8L1226.9 802.4Z" fill="#d60000"/>
<path d="M1258.7 808.9L1258.7 799.0L1260.7 799.8L1257.5 789.8L1254.3 799.8L1256.3 799.0L1256.3 808.9Z" fill="#ff9700"/>
<path d="M1291.8 806.0L1282.5 797.3L1284.5 796.3L1275.0 791.8L1280.1 801.0L1280.9 799.0L1290.3 807.7Z" fill="#90ff67"/>
<path d="M1319.4 798.2L1306.8 798.2L1307.6 796.1L1297.6 799.3L1307.6 802.6L1306.8 800.5L1319.4 800.5Z" fill="#3effb9"/>
<path d="M1340.4 791.3L1332.5 799.2L1331.6 797.2L1326.8 806.5L1336.2 801.7L1334.1 800.8L1342.0 793.0Z" fill="#0099ff"/>
<path d="M1358.3 789.2L1358.3 800.3L1356.3 799.5L1359.5 809.5L1362.7 799.5L1360.7 800.3L1360.7 789.2Z" fill="#0099ff"/>
<path d="M1376.2 792.7L1385.5 801.4L1383.5 802.3L1393.0 806.8L1387.9 797.6L1387.1 799.7L1377.8 791.0Z" fill="#52ffa5"/>
<path d="M1421.2 798.2L1409.0 798.2L1409.9 796.1L1399.8 799.3L1409.9 802.6L1409.0 800.5L1421.2 800.5Z" fill="#e2ff15"/>
<path d="M1441.4 792.3L1435.5 798.2L1434.6 796.2L1429.8 805.6L1439.1 800.8L1437.1 799.9L1443.0 793.9Z" fill="#ff6800"/>
<path d="M1460.4 794.5L1460.4 795.3L1458.4 794.5L1461.5 804.1L1464.6 794.5L1462.6 795.3L1462.6 794.5Z" fill="#b90000"/>
<path d="M1488.6 799.3L1487.8 800.7L1486.2 800.7L1485.4 799.3L1486.2 797.9L1487.8 797.9Z" fill="#800000"/>
<path d="M1514.1 799.3L1513.3 800.7L1511.7 800.7L1510.9 799.3L1511.7 797.9L1513.3 797.9Z" fill="#800000"/>
<path d="M1534.5 804.1L1536.2 802.5L1537.0 804.6L1542.3 795.5L1532.7 799.8L1534.7 800.8L1532.9 802.4Z" fill="#d60000"/>
<path d="M1564.7 808.9L1564.7 799.0L1566.7 799.8L1563.5 789.8L1560.3 799.8L1562.3 799.0L1562.3 808.9Z" fill="#ff9700"/>
<path d="M1597.8 806.0L1588.5 797.3L1590.5 796.3L1581.0 791.8L1586.1 801.0L1586.9 799.0L1596.3 807.7Z" fill="#90ff67"/>
<path d="M1625.4 798.2L1612.8 798.2L1613.6 796.1L1603.6 799.3L1613.6 802.6L1612.8 800.5L1625.4 800.5Z" fill="#3effb9"/>
<path d="M1124.2 813.2L1115.2 822.1L1114.3 820.0L1109.5 829.4L1118.9 824.6L1116.9 823.7L1125.8 814.8Z" fill="#3effb9"/>
<path d="M1141.6 811.0L1141.6 823.1L1139.5 822.3L1142.8 832.3L1146.0 822.3L1143.9 823.1L1143.9 811.0Z" fill="#e2ff15"/>
<path d="M1160.8 816.9L1167.2 822.3L1165.3 823.4L1175.0 827.3L1169.4 818.4L1168.7 820.5L1162.2 815.1Z" fill="#ff6800"/>
<path d="M1189.0 822.8L1189.7 822.8L1189.0 824.8L1198.5 821.7L1189.0 818.6L1189.7 820.6L1189.0 820.6Z" fill="#b90000"/>
<path d="M1220.9 821.7L1220.1 823.1L1218.4 823.1L1217.6 821.7L1218.4 820.3L1220.1 820.3Z" fill="#800000"/>
<path d="M1246.4 821.7L1245.6 823.1L1243.9 823.1L1243.1 821.7L1243.9 820.3L1245.6 820.3Z" fill="#800000"/>
<path d="M1275.3 824.7L1273.6 823.1L1275.5 822.1L1265.9 817.8L1271.2 826.9L1272.0 824.8L1273.8 826.4Z" fill="#d60000"/>
<path d="M1305.3 820.5L1295.4 820.5L1296.2 818.5L1286.2 821.7L1296.2 824.9L1295.4 822.8L1305.3 822.8Z" fill="#ff9700"/>
<path d="M1328.2 813.1L1319.2 822.1L1318.3 820.1L1313.5 829.4L1322.8 824.7L1320.8 823.8L1329.8 814.7Z" fill="#90ff67"/>
<path d="M1345.6 810.8L1345.6 823.3L1343.5 822.5L1346.8 832.5L1350.0 822.5L1347.9 823.3L1347.9 810.8Z" fill="#29ffce"/>
<path d="M1363.8 815.9L1372.2 823.2L1370.3 824.2L1379.9 828.3L1374.5 819.4L1373.7 821.4L1365.3 814.1Z" fill="#0099ff"/>
<path d="M1387.4 822.8L1398.9 822.8L1398.1 824.9L1408.1 821.7L1398.1 818.5L1398.9 820.5L1387.4 820.5Z" fill="#00b2ff"/>
<path d="M1430.2 813.2L1421.2 822.1L1420.3 820.0L1415.5 829.4L1424.9 824.6L1422.9 823.7L1431.8 814.8Z" fill="#3effb9"/>
<path d="M1447.6 811.0L1447.6 823.1L1445.5 822.3L1448.8 832.3L1452.0 822.3L1449.9 823.1L1449.9 811.0Z" fill="#e2ff15"/>
<path d="M1466.8 816.9L1473.2 822.3L1471.3 823.4L1481.0 827.3L1475.4 818.4L1474.7 820.5L1468.2 815.1Z" fill="#ff6800"/>
<path d="M1495.0 822.8L1495.7 822.8L1495.0 824.8L1504.5 821.7L1495.0 818.6L1495.7 820.6L1495.0 820.6Z" fill="#b90000"/>
<path d="M1526.9 821.7L1526.1 823.1L1524.4 823.1L1523.6 821.7L1524.4 820.3L1526.1 820.3Z" fill="#800000"/>
<path d="M1552.4 821.7L1551.6 823.1L1549.9 823.1L1549.1 821.7L1549.9 820.3L1551.6 820.3Z" fill="#800000"/>
<path d="M1581.3 824.7L1579.6 823.1L1581.5 822.1L1571.9 817.8L1577.2 826.9L1578.0 824.8L1579.8 826.4Z" fill="#d60000"/>
<path d="M1611.3 820.5L1601.4 820.5L1602.2 818.5L1592.2 821.7L1602.2 824.9L1601.4 822.8L1611.3 822.8Z" fill="#ff9700"/>
<path d="M1099.5 853.2L1106.1 843.7L1107.3 845.6L1110.4 835.5L1102.1 841.9L1104.2 842.4L1097.6 851.8Z" fill="#00b2ff"/>
<path d="M1131.2 854.5L1131.2 842.7L1133.2 843.5L1130.0 833.5L1126.8 843.5L1128.8 842.7L1128.8 854.5Z" fill="#00ccff"/>
<path d="M1164.7 850.0L1154.9 842.1L1156.8 840.9L1147.0 837.2L1152.8 846.0L1153.4 843.8L1163.3 851.8Z" fill="#3effb9"/>
<path d="M1191.7 842.9L1179.5 842.9L1180.4 840.8L1170.3 844.0L1180.4 847.2L1179.5 845.2L1191.7 845.2Z" fill="#e2ff15"/>
<path d="M1211.7 836.8L1205.9 842.9L1205.0 840.9L1200.5 850.5L1209.7 845.3L1207.6 844.5L1213.3 838.4Z" fill="#ff6800"/>
<path d="M1231.0 839.7L1231.0 840.4L1229.2 839.7L1232.0 848.3L1234.8 839.7L1233.0 840.4L1233.0 839.7Z" fill="#ae0000"/>
<path d="M1259.1 844.0L1258.3 845.4L1256.7 845.4L1255.9 844.0L1256.7 842.6L1258.3 842.6Z" fill="#800000"/>
<path d="M1284.6 844.0L1283.8 845.4L1282.2 845.4L1281.4 844.0L1282.2 842.6L1283.8 842.6Z" fill="#800000"/>
<path d="M1312.0 839.3L1310.3 840.9L1309.5 838.8L1304.2 847.9L1313.8 843.6L1311.8 842.6L1313.6 841.0Z" fill="#d60000"/>
<path d="M1332.8 834.5L1332.8 844.3L1330.8 843.5L1334.0 853.5L1337.2 843.5L1335.2 844.3L1335.2 834.5Z" fill="#ff9700"/>
<path d="M1350.6 837.5L1360.1 846.1L1358.1 847.1L1367.7 851.4L1362.4 842.3L1361.6 844.4L1352.1 835.8Z" fill="#90ff67"/>
<path d="M1374.2 845.2L1386.6 845.2L1385.8 847.2L1395.8 844.0L1385.8 840.8L1386.6 842.9L1374.2 842.9Z" fill="#29ffce"/>
<path d="M1405.5 853.2L1412.1 843.7L1413.3 845.6L1416.4 835.5L1408.1 841.9L1410.2 842.4L1403.6 851.8Z" fill="#00b2ff"/>
<path d="M1437.2 854.5L1437.2 842.7L1439.2 843.5L1436.0 833.5L1432.8 843.5L1434.8 842.7L1434.8 854.5Z" fill="#00ccff"/>
<path d="M1470.7 850.0L1460.9 842.1L1462.8 840.9L1453.0 837.2L1458.8 846.0L1459.4 843.8L1469.3 851.8Z" fill="#3effb9"/>
<path d="M1497.7 842.9L1485.5 842.9L1486.4 840.8L1476.3 844.0L1486.4 847.2L1485.5 845.2L1497.7 845.2Z" fill="#e2ff15"/>
<path d="M1517.7 836.8L1511.9 842.9L1511.0 840.9L1506.5 850.5L1515.7 845.3L1513.6 844.5L1519.3 838.4Z" fill="#ff6800"/>
<path d="M1537.0 839.7L1537.0 840.4L1535.2 839.7L1538.0 848.3L1540.8 839.7L1539.0 840.4L1539.0 839.7Z" fill="#ae0000"/>
<path d="M1565.1 844.0L1564.3 845.4L1562.7 845.4L1561.9 844.0L1562.7 842.6L1564.3 842.6Z" fill="#800000"/>
<path d="M1590.6 844.0L1589.8 845.4L1588.2 845.4L1587.4 844.0L1588.2 842.6L1589.8 842.6Z" fill="#800000"/>
<path d="M1618.0 839.3L1616.3 840.9L1615.5 838.8L1610.2 847.9L1619.8 843.6L1617.8 842.6L1619.6 841.0Z" fill="#d60000"/>
<path d="M1118.4 877.1L1118.4 864.8L1120.5 865.6L1117.2 855.6L1114.0 865.6L1116.1 864.8L1116.1 877.1Z" fill="#15ffe2"/>
<path d="M1150.9 872.9L1142.8 864.7L1144.8 863.8L1135.4 859.0L1140.2 868.4L1141.1 866.4L1149.3 874.5Z" fill="#00b2ff"/>
<path d="M1178.6 865.2L1167.1 865.2L1167.9 863.1L1157.9 866.4L1167.9 869.6L1167.1 867.5L1178.6 867.5Z" fill="#00b2ff"/>
<path d="M1201.0 858.0L1191.7 866.7L1190.9 864.7L1185.7 873.8L1195.2 869.4L1193.2 868.4L1202.6 859.7Z" fill="#52ffa5"/>
<path d="M1218.1 855.7L1218.1 867.8L1216.0 867.0L1219.2 877.0L1222.5 867.0L1220.4 867.8L1220.4 855.7Z" fill="#e2ff15"/>
<path d="M1239.1 859.5L1243.6 866.6L1241.4 867.0L1249.4 873.8L1246.8 863.6L1245.5 865.4L1241.1 858.3Z" fill="#ff6800"/>
<path d="M1274.6 865.4L1273.9 865.4L1274.6 863.6L1265.9 866.4L1274.6 869.1L1273.9 867.4L1274.6 867.4Z" fill="#ae0000"/>
<path d="M1297.4 866.4L1296.6 867.8L1294.9 867.8L1294.1 866.4L1294.9 865.0L1296.6 865.0Z" fill="#800000"/>
<path d="M1322.9 866.4L1322.1 867.8L1320.4 867.8L1319.6 866.4L1320.4 865.0L1322.1 865.0Z" fill="#800000"/>
<path d="M1341.7 863.3L1343.4 864.9L1341.5 865.9L1351.1 870.2L1345.8 861.1L1345.0 863.2L1343.2 861.6Z" fill="#d60000"/>
<path d="M1362.7 867.5L1372.6 867.5L1371.8 869.6L1381.8 866.4L1371.8 863.1L1372.6 865.2L1362.7 865.2Z" fill="#ff9700"/>
<path d="M1391.6 875.5L1399.8 865.7L1400.8 867.7L1404.8 857.9L1395.9 863.5L1398.0 864.3L1389.8 874.0Z" fill="#90ff67"/>
<path d="M1424.4 877.1L1424.4 864.8L1426.5 865.6L1423.2 855.6L1420.0 865.6L1422.1 864.8L1422.1 877.1Z" fill="#15ffe2"/>
<path d="M1456.9 872.9L1448.8 864.7L1450.8 863.8L1441.4 859.0L1446.2 868.4L1447.1 866.4L1455.3 874.5Z" fill="#00b2ff"/>
<path d="M1484.6 865.2L1473.1 865.2L1473.9 863.1L1463.9 866.4L1473.9 869.6L1473.1 867.5L1484.6 867.5Z" fill="#00b2ff"/>
<path d="M1507.0 858.0L1497.7 866.7L1496.9 864.7L1491.7 873.8L1501.2 869.4L1499.2 868.4L1508.6 859.7Z" fill="#52ffa5"/>
<path d="M1524.1 855.7L1524.1 867.8L1522.0 867.0L1525.2 877.0L1528.5 867.0L1526.4 867.8L1526.4 855.7Z" fill="#e2ff15"/>
<path d="M1545.1 859.5L1549.6 866.6L1547.4 867.0L1555.4 873.8L1552.8 863.6L1551.5 865.4L1547.1 858.3Z" fill="#ff6800"/>
<path d="M1580.6 865.4L1579.9 865.4L1580.6 863.6L1571.9 866.4L1580.6 869.1L1579.9 867.4L1580.6 867.4Z" fill="#ae0000"/>
<path d="M1603.4 866.4L1602.6 867.8L1600.9 867.8L1600.1 866.4L1600.9 865.0L1602.6 865.0Z" fill="#800000"/>
<path d="M1105.7 898.2L1105.7 888.4L1107.7 889.2L1104.5 879.2L1101.3 889.2L1103.3 888.4L1103.3 898.2Z" fill="#ff9700"/>
<path d="M1138.8 895.4L1129.5 886.6L1131.5 885.7L1122.0 881.2L1127.1 890.4L1127.9 888.3L1137.3 897.0Z" fill="#90ff67"/>
<path d="M1166.4 887.5L1153.8 887.5L1154.6 885.5L1144.6 888.7L1154.6 891.9L1153.8 889.8L1166.4 889.8Z" fill="#3effb9"/>
<path d="M1187.4 880.7L1179.5 888.6L1178.6 886.5L1173.8 895.9L1183.2 891.1L1181.1 890.2L1189.0 882.3Z" fill="#0099ff"/>
<path d="M1205.3 878.5L1205.3 889.7L1203.3 888.9L1206.5 898.9L1209.7 888.9L1207.7 889.7L1207.7 878.5Z" fill="#0099ff"/>
<path d="M1223.2 882.1L1232.5 890.7L1230.5 891.7L1240.0 896.2L1234.9 887.0L1234.1 889.1L1224.8 880.4Z" fill="#52ffa5"/>
<path d="M1268.2 887.5L1256.0 887.5L1256.9 885.5L1246.8 888.7L1256.9 891.9L1256.0 889.8L1268.2 889.8Z" fill="#e2ff15"/>
<path d="M1288.4 881.7L1282.5 887.6L1281.6 885.6L1276.8 894.9L1286.1 890.1L1284.1 889.2L1290.0 883.3Z" fill="#ff6800"/>
<path d="M1307.4 883.9L1307.4 884.7L1305.4 883.9L1308.5 893.5L1311.6 883.9L1309.6 884.7L1309.6 883.9Z" fill="#b90000"/>
<path d="M1335.6 888.7L1334.8 890.1L1333.2 890.1L1332.4 888.7L1333.2 887.3L1334.8 887.3Z" fill="#800000"/>
<path d="M1361.1 888.7L1360.3 890.1L1358.7 890.1L1357.9 888.7L1358.7 887.3L1360.3 887.3Z" fill="#800000"/>
<path d="M1381.5 893.4L1383.2 891.8L1384.0 893.9L1389.3 884.8L1379.7 889.1L1381.7 890.1L1379.9 891.7Z" fill="#d60000"/>
<path d="M1411.7 898.2L1411.7 888.4L1413.7 889.2L1410.5 879.2L1407.3 889.2L1409.3 888.4L1409.3 898.2Z" fill="#ff9700"/>
<path d="M1444.8 895.4L1435.5 886.6L1437.5 885.7L1428.0 881.2L1433.1 890.4L1433.9 888.3L1443.3 897.0Z" fill="#90ff67"/>
<path d="M1472.4 887.5L1459.8 887.5L1460.6 885.5L1450.6 888.7L1460.6 891.9L1459.8 889.8L1472.4 889.8Z" fill="#3effb9"/>
<path d="M1493.4 880.7L1485.5 888.6L1484.6 886.5L1479.8 895.9L1489.2 891.1L1487.1 890.2L1495.0 882.3Z" fill="#0099ff"/>
<path d="M1511.3 878.5L1511.3 889.7L1509.3 888.9L1512.5 898.9L1515.7 888.9L1513.7 889.7L1513.7 878.5Z" fill="#0099ff"/>
<path d="M1529.2 882.1L1538.5 890.7L1536.5 891.7L1546.0 896.2L1540.9 887.0L1540.1 889.1L1530.8 880.4Z" fill="#52ffa5"/>
<path d="M1574.2 887.5L1562.0 887.5L1562.9 885.5L1552.8 888.7L1562.9 891.9L1562.0 889.8L1574.2 889.8Z" fill="#e2ff15"/>
<path d="M1594.4 881.7L1588.5 887.6L1587.6 885.6L1582.8 894.9L1592.1 890.1L1590.1 889.2L1596.0 883.3Z" fill="#ff6800"/>
<path d="M1613.4 883.9L1613.4 884.7L1611.4 883.9L1614.5 893.5L1617.6 883.9L1615.6 884.7L1615.6 883.9Z" fill="#b90000"/>
<path d="M1122.3 914.1L1120.6 912.5L1122.5 911.5L1112.9 907.2L1118.2 916.3L1119.0 914.2L1120.8 915.8Z" fill="#d60000"/>
<path d="M1152.3 909.9L1142.4 909.9L1143.2 907.8L1133.2 911.0L1143.2 914.3L1142.4 912.2L1152.3 912.2Z" fill="#ff9700"/>
<path d="M1175.2 902.5L1166.2 911.5L1165.3 909.5L1160.5 918.8L1169.8 914.0L1167.8 913.1L1176.8 904.1Z" fill="#90ff67"/>
<path d="M1192.6 900.2L1192.6 912.7L1190.5 911.9L1193.8 921.9L1197.0 911.9L1194.9 912.7L1194.9 900.2Z" fill="#29ffce"/>
<path d="M1210.8 905.2L1219.2 912.5L1217.3 913.6L1226.9 917.7L1221.5 908.7L1220.7 910.8L1212.3 903.5Z" fill="#0099ff"/>
<path d="M1234.4 912.2L1245.9 912.2L1245.1 914.3L1255.1 911.0L1245.1 907.8L1245.9 909.9L1234.4 909.9Z" fill="#00b2ff"/>
<path d="M1277.2 902.5L1268.2 911.4L1267.3 909.4L1262.5 918.8L1271.9 914.0L1269.9 913.1L1278.8 904.1Z" fill="#3effb9"/>
<path d="M1294.6 900.4L1294.6 912.5L1292.5 911.7L1295.8 921.7L1299.0 911.7L1296.9 912.5L1296.9 900.4Z" fill="#e2ff15"/>
<path d="M1313.8 906.3L1320.2 911.7L1318.3 912.7L1328.0 916.7L1322.4 907.8L1321.7 909.9L1315.2 904.5Z" fill="#ff6800"/>
<path d="M1342.0 912.1L1342.7 912.1L1342.0 914.1L1351.5 911.0L1342.0 908.0L1342.7 909.9L1342.0 909.9Z" fill="#b90000"/>
<path d="M1373.9 911.0L1373.1 912.4L1371.4 912.4L1370.6 911.0L1371.4 909.6L1373.1 909.6Z" fill="#800000"/>
<path d="M1399.4 911.0L1398.6 912.4L1396.9 912.4L1396.1 911.0L1396.9 909.6L1398.6 909.6Z" fill="#800000"/>
<path d="M1428.3 914.1L1426.6 912.5L1428.5 911.5L1418.9 907.2L1424.2 916.3L1425.0 914.2L1426.8 915.8Z" fill="#d60000"/>
<path d="M1458.3 909.9L1448.4 909.9L1449.2 907.8L1439.2 911.0L1449.2 914.3L1448.4 912.2L1458.3 912.2Z" fill="#ff9700"/>
<path d="M1481.2 902.5L1472.2 911.5L1471.3 909.5L1466.5 918.8L1475.8 914.0L1473.8 913.1L1482.8 904.1Z" fill="#90ff67"/>
<path d="M1498.6 900.2L1498.6 912.7L1496.5 911.9L1499.8 921.9L1503.0 911.9L1500.9 912.7L1500.9 900.2Z" fill="#29ffce"/>
<path d="M1516.8 905.2L1525.2 912.5L1523.3 913.6L1532.9 917.7L1527.5 908.7L1526.7 910.8L1518.3 903.5Z" fill="#0099ff"/>
<path d="M1540.4 912.2L1551.9 912.2L1551.1 914.3L1561.1 911.0L1551.1 907.8L1551.9 909.9L1540.4 909.9Z" fill="#00b2ff"/>
<path d="M1583.2 902.5L1574.2 911.4L1573.3 909.4L1568.5 918.8L1577.9 914.0L1575.9 913.1L1584.8 904.1Z" fill="#3effb9"/>
<path d="M1600.6 900.4L1600.6 912.5L1598.5 911.7L1601.8 921.7L1605.0 911.7L1602.9 912.5L1602.9 900.4Z" fill="#e2ff15"/>
<path d="M1106.1 933.4L1105.3 934.8L1103.7 934.8L1102.9 933.4L1103.7 932.0L1105.3 932.0Z" fill="#800000"/>
<path d="M1131.6 933.4L1130.8 934.8L1129.2 934.8L1128.4 933.4L1129.2 932.0L1130.8 932.0Z" fill="#800000"/>
<path d="M1159.0 928.6L1157.3 930.2L1156.5 928.2L1151.2 937.3L1160.8 933.0L1158.8 932.0L1160.6 930.4Z" fill="#d60000"/>
<path d="M1179.8 923.9L1179.8 933.7L1177.8 932.9L1181.0 942.9L1184.2 932.9L1182.2 933.7L1182.2 923.9Z" fill="#ff9700"/>
<path d="M1197.6 926.9L1207.1 935.4L1205.1 936.4L1214.7 940.7L1209.4 931.6L1208.6 933.7L1199.1 925.2Z" fill="#90ff67"/>
<path d="M1221.2 934.5L1233.6 934.5L1232.8 936.6L1242.8 933.4L1232.8 930.2L1233.6 932.2L1221.2 932.2Z" fill="#29ffce"/>
<path d="M1252.5 942.5L1259.1 933.1L1260.3 934.9L1263.4 924.9L1255.1 931.3L1257.2 931.8L1250.6 941.2Z" fill="#00b2ff"/>
<path d="M1284.2 943.9L1284.2 932.1L1286.2 932.9L1283.0 922.9L1279.8 932.9L1281.8 932.1L1281.8 943.9Z" fill="#00ccff"/>
<path d="M1317.7 939.4L1307.9 931.4L1309.8 930.3L1300.0 926.5L1305.8 935.3L1306.4 933.2L1316.3 941.1Z" fill="#3effb9"/>
<path d="M1344.7 932.2L1332.5 932.2L1333.4 930.2L1323.3 933.4L1333.4 936.6L1332.5 934.5L1344.7 934.5Z" fill="#e2ff15"/>
<path d="M1364.7 926.2L1358.9 932.3L1358.0 930.3L1353.5 939.8L1362.7 934.7L1360.6 933.9L1366.3 927.7Z" fill="#ff6800"/>
<path d="M1384.0 929.1L1384.0 929.8L1382.2 929.1L1385.0 937.7L1387.8 929.1L1386.0 929.8L1386.0 929.1Z" fill="#ae0000"/>
<path d="M1412.1 933.4L1411.3 934.8L1409.7 934.8L1408.9 933.4L1409.7 932.0L1411.3 932.0Z" fill="#800000"/>
<path d="M1437.6 933.4L1436.8 934.8L1435.2 934.8L1434.4 933.4L1435.2 932.0L1436.8 932.0Z" fill="#800000"/>
<path d="M1465.0 928.6L1463.3 930.2L1462.5 928.2L1457.2 937.3L1466.8 933.0L1464.8 932.0L1466.6 930.4Z" fill="#d60000"/>
<path d="M1485.8 923.9L1485.8 933.7L1483.8 932.9L1487.0 942.9L1490.2 932.9L1488.2 933.7L1488.2 923.9Z" fill="#ff9700"/>
<path d="M1503.6 926.9L1513.1 935.4L1511.1 936.4L1520.7 940.7L1515.4 931.6L1514.6 933.7L1505.1 925.2Z" fill="#90ff67"/>
<path d="M1527.2 934.5L1539.6 934.5L1538.8 936.6L1548.8 933.4L1538.8 930.2L1539.6 932.2L1527.2 932.2Z" fill="#29ffce"/>
<path d="M1558.5 942.5L1565.1 933.1L1566.3 934.9L1569.4 924.9L1561.1 931.3L1563.2 931.8L1556.6 941.2Z" fill="#00b2ff"/>
<path d="M1590.2 943.9L1590.2 932.1L1592.2 932.9L1589.0 922.9L1585.8 932.9L1587.8 932.1L1587.8 943.9Z" fill="#00ccff"/>
<path d="M1623.7 939.4L1613.9 931.4L1615.8 930.3L1606.0 926.5L1611.8 935.3L1612.4 933.2L1622.3 941.1Z" fill="#3effb9"/>
<path d="M1121.6 954.7L1120.9 954.7L1121.6 952.9L1112.9 955.7L1121.6 958.5L1120.9 956.7L1121.6 956.7Z" fill="#ae0000"/>
<path d="M1144.4 955.7L1143.6 957.1L1141.9 957.1L1141.1 955.7L1141.9 954.3L1143.6 954.3Z" fill="#800000"/>
<path d="M1169.9 955.7L1169.1 957.1L1167.4 957.1L1166.6 955.7L1167.4 954.3L1169.1 954.3Z" fill="#800000"/>
<path d="M1188.7 952.7L1190.4 954.3L1188.5 955.3L1198.1 959.6L1192.8 950.5L1192.0 952.6L1190.2 951.0Z" fill="#d60000"/>
<path d="M1209.7 956.9L1219.6 956.9L1218.8 958.9L1228.8 955.7L1218.8 952.5L1219.6 954.6L1209.7 954.6Z" fill="#ff9700"/>
<path d="M1238.6 964.9L1246.8 955.1L1247.8 957.0L1251.8 947.3L1242.9 952.9L1245.0 953.6L1236.8 963.4Z" fill="#90ff67"/>
<path d="M1271.4 966.5L1271.4 954.2L1273.5 955.0L1270.2 945.0L1267.0 955.0L1269.1 954.2L1269.1 966.5Z" fill="#15ffe2"/>
<path d="M1303.9 962.2L1295.8 954.1L1297.8 953.2L1288.4 948.4L1293.2 957.8L1294.1 955.7L1302.3 963.8Z" fill="#00b2ff"/>
<path d="M1331.6 954.6L1320.1 954.6L1320.9 952.5L1310.9 955.7L1320.9 958.9L1320.1 956.9L1331.6 956.9Z" fill="#00b2ff"/>
<path d="M1354.0 947.4L1344.7 956.1L1343.9 954.0L1338.7 963.2L1348.2 958.7L1346.2 957.8L1355.6 949.1Z" fill="#52ffa5"/>
<path d="M1371.1 945.1L1371.1 957.2L1369.0 956.4L1372.2 966.4L1375.5 956.4L1373.4 957.2L1373.4 945.1Z" fill="#e2ff15"/>
<path d="M1392.1 948.9L1396.6 956.0L1394.4 956.4L1402.4 963.2L1399.8 953.0L1398.5 954.8L1394.1 947.6Z" fill="#ff6800"/>
<path d="M1427.6 954.7L1426.9 954.7L1427.6 952.9L1418.9 955.7L1427.6 958.5L1426.9 956.7L1427.6 956.7Z" fill="#ae0000"/>
<path d="M1450.4 955.7L1449.6 957.1L1447.9 957.1L1447.1 955.7L1447.9 954.3L1449.6 954.3Z" fill="#800000"/>
<path d="M1475.9 955.7L1475.1 957.1L1473.4 957.1L1472.6 955.7L1473.4 954.3L1475.1 954.3Z" fill="#800000"/>
<path d="M1494.7 952.7L1496.4 954.3L1494.5 955.3L1504.1 959.6L1498.8 950.5L1498.0 952.6L1496.2 951.0Z" fill="#d60000"/>
<path d="M1515.7 956.9L1525.6 956.9L1524.8 958.9L1534.8 955.7L1524.8 952.5L1525.6 954.6L1515.7 954.6Z" fill="#ff9700"/>
<path d="M1544.6 964.9L1552.8 955.1L1553.8 957.0L1557.8 947.3L1548.9 952.9L1551.0 953.6L1542.8 963.4Z" fill="#90ff67"/>
<path d="M1577.4 966.5L1577.4 954.2L1579.5 955.0L1576.2 945.0L1573.0 955.0L1575.1 954.2L1575.1 966.5Z" fill="#15ffe2"/>
<path d="M1609.9 962.2L1601.8 954.1L1603.8 953.2L1594.4 948.4L1599.2 957.8L1600.1 955.7L1608.3 963.8Z" fill="#00b2ff"/>
<path d="M1115.2 976.9L1103.0 976.9L1103.9 974.8L1093.8 978.1L1103.9 981.3L1103.0 979.2L1115.2 979.2Z" fill="#e2ff15"/>
<path d="M1135.4 971.0L1129.5 977.0L1128.6 974.9L1123.8 984.3L1133.1 979.5L1131.1 978.6L1137.0 972.7Z" fill="#ff6800"/>
<path d="M1154.4 973.3L1154.4 974.0L1152.4 973.3L1155.5 982.9L1158.6 973.3L1156.6 974.0L1156.6 973.3Z" fill="#b90000"/>
<path d="M1182.6 978.1L1181.8 979.5L1180.2 979.5L1179.4 978.1L1180.2 976.7L1181.8 976.7Z" fill="#800000"/>
<path d="M1208.1 978.1L1207.3 979.5L1205.7 979.5L1204.9 978.1L1205.7 976.7L1207.3 976.7Z" fill="#800000"/>
<path d="M1228.5 982.8L1230.2 981.2L1231.0 983.3L1236.3 974.2L1226.7 978.5L1228.7 979.5L1226.9 981.1Z" fill="#d60000"/>
<path d="M1258.7 987.6L1258.7 977.7L1260.7 978.5L1257.5 968.5L1254.3 978.5L1256.3 977.7L1256.3 987.6Z" fill="#ff9700"/>
<path d="M1291.8 984.7L1282.5 976.0L1284.5 975.0L1275.0 970.6L1280.1 979.7L1280.9 977.7L1290.3 986.4Z" fill="#90ff67"/>
<path d="M1319.4 976.9L1306.8 976.9L1307.6 974.8L1297.6 978.1L1307.6 981.3L1306.8 979.2L1319.4 979.2Z" fill="#3effb9"/>
<path d="M1340.4 970.1L1332.5 977.9L1331.6 975.9L1326.8 985.2L1336.2 980.4L1334.1 979.6L1342.0 971.7Z" fill="#0099ff"/>
<path d="M1358.3 967.9L1358.3 979.0L1356.3 978.2L1359.5 988.2L1362.7 978.2L1360.7 979.0L1360.7 967.9Z" fill="#0099ff"/>
<path d="M1376.2 971.4L1385.5 980.1L1383.5 981.1L1393.0 985.5L1387.9 976.4L1387.1 978.4L1377.8 969.7Z" fill="#52ffa5"/>
<path d="M1421.2 976.9L1409.0 976.9L1409.9 974.8L1399.8 978.1L1409.9 981.3L1409.0 979.2L1421.2 979.2Z" fill="#e2ff15"/>
<path d="M1441.4 971.0L1435.5 977.0L1434.6 974.9L1429.8 984.3L1439.1 979.5L1437.1 978.6L1443.0 972.7Z" fill="#ff6800"/>
<path d="M1460.4 973.3L1460.4 974.0L1458.4 973.3L1461.5 982.9L1464.6 973.3L1462.6 974.0L1462.6 973.3Z" fill="#b90000"/>
<path d="M1488.6 978.1L1487.8 979.5L1486.2 979.5L1485.4 978.1L1486.2 976.7L1487.8 976.7Z" fill="#800000"/>
<path d="M1514.1 978.1L1513.3 979.5L1511.7 979.5L1510.9 978.1L1511.7 976.7L1513.3 976.7Z" fill="#800000"/>
<path d="M1534.5 982.8L1536.2 981.2L1537.0 983.3L1542.3 974.2L1532.7 978.5L1534.7 979.5L1532.9 981.1Z" fill="#d60000"/>
<path d="M1564.7 987.6L1564.7 977.7L1566.7 978.5L1563.5 968.5L1560.3 978.5L1562.3 977.7L1562.3 987.6Z" fill="#ff9700"/>
<path d="M1597.8 984.7L1588.5 976.0L1590.5 975.0L1581.0 970.6L1586.1 979.7L1586.9 977.7L1596.3 986.4Z" fill="#90ff67"/>
<path d="M1625.4 976.9L1612.8 976.9L1613.6 974.8L1603.6 978.1L1613.6 981.3L1612.8 979.2L1625.4 979.2Z" fill="#3effb9"/>
<path d="M1124.2 991.9L1115.2 1000.8L1114.3 998.8L1109.5 1008.1L1118.9 1003.3L1116.9 1002.4L1125.8 993.5Z" fill="#3effb9"/>
<path d="M1141.6 989.7L1141.6 1001.9L1139.5 1001.0L1142.8 1011.1L1146.0 1001.0L1143.9 1001.9L1143.9 989.7Z" fill="#e2ff15"/>
<path d="M1160.8 995.6L1167.2 1001.0L1165.3 1002.1L1175.0 1006.1L1169.4 997.2L1168.7 999.3L1162.2 993.9Z" fill="#ff6800"/>
<path d="M1189.0 1001.5L1189.7 1001.5L1189.0 1003.5L1198.5 1000.4L1189.0 997.3L1189.7 999.3L1189.0 999.3Z" fill="#b90000"/>
<path d="M1220.9 1000.4L1220.1 1001.8L1218.4 1001.8L1217.6 1000.4L1218.4 999.0L1220.1 999.0Z" fill="#800000"/>
<path d="M1246.4 1000.4L1245.6 1001.8L1243.9 1001.8L1243.1 1000.4L1243.9 999.0L1245.6 999.0Z" fill="#800000"/>
<path d="M1275.3 1003.4L1273.6 1001.8L1275.5 1000.8L1265.9 996.5L1271.2 1005.6L1272.0 1003.5L1273.8 1005.1Z" fill="#d60000"/>
<path d="M1305.3 999.2L1295.4 999.2L1296.2 997.2L1286.2 1000.4L1296.2 1003.6L1295.4 1001.5L1305.3 1001.5Z" fill="#ff9700"/>
<path d="M1328.2 991.8L1319.2 1000.8L1318.3 998.8L1313.5 1008.2L1322.8 1003.4L1320.8 1002.5L1329.8 993.4Z" fill="#90ff67"/>
<path d="M1345.6 989.6L1345.6 1002.0L1343.5 1001.2L1346.8 1011.2L1350.0 1001.2L1347.9 1002.0L1347.9 989.6Z" fill="#29ffce"/>
<path d="M1363.8 994.6L1372.2 1001.9L1370.3 1002.9L1379.9 1007.1L1374.5 998.1L1373.7 1000.2L1365.3 992.9Z" fill="#0099ff"/>
<path d="M1387.4 1001.5L1398.9 1001.5L1398.1 1003.6L1408.1 1000.4L1398.1 997.2L1398.9 999.2L1387.4 999.2Z" fill="#00b2ff"/>
<path d="M1430.2 991.9L1421.2 1000.8L1420.3 998.8L1415.5 1008.1L1424.9 1003.3L1422.9 1002.4L1431.8 993.5Z" fill="#3effb9"/>
<path d="M1447.6 989.7L1447.6 1001.9L1445.5 1001.0L1448.8 1011.1L1452.0 1001.0L1449.9 1001.9L1449.9 989.7Z" fill="#e2ff15"/>
<path d="M1466.8 995.6L1473.2 1001.0L1471.3 1002.1L1481.0 1006.1L1475.4 997.2L1474.7 999.3L1468.2 993.9Z" fill="#ff6800"/>
<path d="M1495.0 1001.5L1495.7 1001.5L1495.0 1003.5L1504.5 1000.4L1495.0 997.3L1495.7 999.3L1495.0 999.3Z" fill="#b90000"/>
<path d="M1526.9 1000.4L1526.1 1001.8L1524.4 1001.8L1523.6 1000.4L1524.4 999.0L1526.1 999.0Z" fill="#800000"/>
<path d="M1552.4 1000.4L1551.6 1001.8L1549.9 1001.8L1549.1 1000.4L1549.9 999.0L1551.6 999.0Z" fill="#800000"/>
<path d="M1581.3 1003.4L1579.6 1001.8L1581.5 1000.8L1571.9 996.5L1577.2 1005.6L1578.0 1003.5L1579.8 1005.1Z" fill="#d60000"/>
<path d="M1611.3 999.2L1601.4 999.2L1602.2 997.2L1592.2 1000.4L1602.2 1003.6L1601.4 1001.5L1611.3 1001.5Z" fill="#ff9700"/>
<path d="M1099.5 1031.9L1106.1 1022.5L1107.3 1024.3L1110.4 1014.3L1102.1 1020.6L1104.2 1021.1L1097.6 1030.6Z" fill="#00b2ff"/>
<path d="M1131.2 1033.2L1131.2 1021.4L1133.2 1022.2L1130.0 1012.2L1126.8 1022.2L1128.8 1021.4L1128.8 1033.2Z" fill="#00ccff"/>
<path d="M1164.7 1028.7L1154.9 1020.8L1156.8 1019.7L1147.0 1015.9L1152.8 1024.7L1153.4 1022.6L1163.3 1030.5Z" fill="#3effb9"/>
<path d="M1191.7 1021.6L1179.5 1021.6L1180.4 1019.5L1170.3 1022.7L1180.4 1026.0L1179.5 1023.9L1191.7 1023.9Z" fill="#e2ff15"/>
<path d="M1211.7 1015.5L1205.9 1021.7L1205.0 1019.7L1200.5 1029.2L1209.7 1024.1L1207.6 1023.2L1213.3 1017.1Z" fill="#ff6800"/>
<path d="M1231.0 1018.4L1231.0 1019.1L1229.2 1018.4L1232.0 1027.1L1234.8 1018.4L1233.0 1019.1L1233.0 1018.4Z" fill="#ae0000"/>
<path d="M1259.1 1022.7L1258.3 1024.1L1256.7 1024.1L1255.9 1022.7L1256.7 1021.3L1258.3 1021.3Z" fill="#800000"/>
<path d="M1284.6 1022.7L1283.8 1024.1L1282.2 1024.1L1281.4 1022.7L1282.2 1021.3L1283.8 1021.3Z" fill="#800000"/>
<path d="M1312.0 1018.0L1310.3 1019.6L1309.5 1017.5L1304.2 1026.6L1313.8 1022.3L1311.8 1021.3L1313.6 1019.7Z" fill="#d60000"/>
<path d="M1332.8 1013.2L1332.8 1023.1L1330.8 1022.3L1334.0 1032.3L1337.2 1022.3L1335.2 1023.1L1335.2 1013.2Z" fill="#ff9700"/>
<path d="M1350.6 1016.2L1360.1 1024.8L1358.1 1025.8L1367.7 1030.1L1362.4 1021.0L1361.6 1023.1L1352.1 1014.5Z" fill="#90ff67"/>
<path d="M1374.2 1023.9L1386.6 1023.9L1385.8 1026.0L1395.8 1022.7L1385.8 1019.5L1386.6 1021.6L1374.2 1021.6Z" fill="#29ffce"/>
<path d="M1405.5 1031.9L1412.1 1022.5L1413.3 1024.3L1416.4 1014.3L1408.1 1020.6L1410.2 1021.1L1403.6 1030.6Z" fill="#00b2ff"/>
<path d="M1437.2 1033.2L1437.2 1021.4L1439.2 1022.2L1436.0 1012.2L1432.8 1022.2L1434.8 1021.4L1434.8 1033.2Z" fill="#00ccff"/>
<path d="M1470.7 1028.7L1460.9 1020.8L1462.8 1019.7L1453.0 1015.9L1458.8 1024.7L1459.4 1022.6L1469.3 1030.5Z" fill="#3effb9"/>
<path d="M1497.7 1021.6L1485.5 1021.6L1486.4 1019.5L1476.3 1022.7L1486.4 1026.0L1485.5 1023.9L1497.7 1023.9Z" fill="#e2ff15"/>
<path d="M1517.7 1015.5L1511.9 1021.7L1511.0 1019.7L1506.5 1029.2L1515.7 1024.1L1513.6 1023.2L1519.3 1017.1Z" fill="#ff6800"/>
<path d="M1537.0 1018.4L1537.0 1019.1L1535.2 1018.4L1538.0 1027.1L1540.8 1018.4L1539.0 1019.1L1539.0 1018.4Z" fill="#ae0000"/>
<path d="M1565.1 1022.7L1564.3 1024.1L1562.7 1024.1L1561.9 1022.7L1562.7 1021.3L1564.3 1021.3Z" fill="#800000"/>
<path d="M1590.6 1022.7L1589.8 1024.1L1588.2 1024.1L1587.4 1022.7L1588.2 1021.3L1589.8 1021.3Z" fill="#800000"/>
<path d="M1618.0 1018.0L1616.3 1019.6L1615.5 1017.5L1610.2 1026.6L1619.8 1022.3L1617.8 1021.3L1619.6 1019.7Z" fill="#d60000"/>
<path d="M1118.4 1055.8L1118.4 1043.5L1120.5 1044.3L1117.2 1034.3L1114.0 1044.3L1116.1 1043.5L1116.1 1055.8Z" fill="#15ffe2"/>
<path d="M1150.9 1051.6L1142.8 1043.5L1144.8 1042.6L1135.4 1037.8L1140.2 1047.1L1141.1 1045.1L1149.3 1053.2Z" fill="#00b2ff"/>
<path d="M1178.6 1043.9L1167.1 1043.9L1167.9 1041.9L1157.9 1045.1L1167.9 1048.3L1167.1 1046.2L1178.6 1046.2Z" fill="#00b2ff"/>
<path d="M1201.0 1036.8L1191.7 1045.4L1190.9 1043.4L1185.7 1052.6L1195.2 1048.1L1193.2 1047.1L1202.6 1038.4Z" fill="#52ffa5"/>
<path d="M1218.1 1034.4L1218.1 1046.5L1216.0 1045.7L1219.2 1055.7L1222.5 1045.7L1220.4 1046.5L1220.4 1034.4Z" fill="#e2ff15"/>
<path d="M1239.1 1038.2L1243.6 1045.4L1241.4 1045.8L1249.4 1052.5L1246.8 1042.4L1245.5 1044.1L1241.1 1037.0Z" fill="#ff6800"/>
<path d="M1274.6 1044.1L1273.9 1044.1L1274.6 1042.3L1265.9 1045.1L1274.6 1047.9L1273.9 1046.1L1274.6 1046.1Z" fill="#ae0000"/>
<path d="M1297.4 1045.1L1296.6 1046.5L1294.9 1046.5L1294.1 1045.1L1294.9 1043.7L1296.6 1043.7Z" fill="#800000"/>
<path d="M1322.9 1045.1L1322.1 1046.5L1320.4 1046.5L1319.6 1045.1L1320.4 1043.7L1322.1 1043.7Z" fill="#800000"/>
<path d="M1341.7 1042.1L1343.4 1043.7L1341.5 1044.7L1351.1 1049.0L1345.8 1039.9L1345.0 1041.9L1343.2 1040.3Z" fill="#d60000"/>
<path d="M1362.7 1046.2L1372.6 1046.2L1371.8 1048.3L1381.8 1045.1L1371.8 1041.9L1372.6 1043.9L1362.7 1043.9Z" fill="#ff9700"/>
<path d="M1391.6 1054.2L1399.8 1044.5L1400.8 1046.4L1404.8 1036.7L1395.9 1042.3L1398.0 1043.0L1389.8 1052.8Z" fill="#90ff67"/>
<path d="M1424.4 1055.8L1424.4 1043.5L1426.5 1044.3L1423.2 1034.3L1420.0 1044.3L1422.1 1043.5L1422.1 1055.8Z" fill="#15ffe2"/>
<path d="M1456.9 1051.6L1448.8 1043.5L1450.8 1042.6L1441.4 1037.8L1446.2 1047.1L1447.1 1045.1L1455.3 1053.2Z" fill="#00b2ff"/>
<path d="M1484.6 1043.9L1473.1 1043.9L1473.9 1041.9L1463.9 1045.1L1473.9 1048.3L1473.1 1046.2L1484.6 1046.2Z" fill="#00b2ff"/>
<path d="M1507.0 1036.8L1497.7 1045.4L1496.9 1043.4L1491.7 1052.6L1501.2 1048.1L1499.2 1047.1L1508.6 1038.4Z" fill="#52ffa5"/>
<path d="M1524.1 1034.4L1524.1 1046.5L1522.0 1045.7L1525.2 1055.7L1528.5 1045.7L1526.4 1046.5L1526.4 1034.4Z" fill="#e2ff15"/>
<path d="M1545.1 1038.2L1549.6 1045.4L1547.4 1045.8L1555.4 1052.5L1552.8 1042.4L1551.5 1044.1L1547.1 1037.0Z" fill="#ff6800"/>
<path d="M1580.6 1044.1L1579.9 1044.1L1580.6 1042.3L1571.9 1045.1L1580.6 1047.9L1579.9 1046.1L1580.6 1046.1Z" fill="#ae0000"/>
<path d="M1603.4 1045.1L1602.6 1046.5L1600.9 1046.5L1600.1 1045.1L1600.9 1043.7L1602.6 1043.7Z" fill="#800000"/>
<path d="M1105.7 1076.9L1105.7 1067.1L1107.7 1067.9L1104.5 1057.9L1101.3 1067.9L1103.3 1067.1L1103.3 1076.9Z" fill="#ff9700"/>
<path d="M1138.8 1074.1L1129.5 1065.4L1131.5 1064.4L1122.0 1059.9L1127.1 1069.1L1127.9 1067.0L1137.3 1075.8Z" fill="#90ff67"/>
<path d="M1166.4 1066.3L1153.8 1066.3L1154.6 1064.2L1144.6 1067.4L1154.6 1070.6L1153.8 1068.6L1166.4 1068.6Z" fill="#3effb9"/>
<path d="M1187.4 1059.4L1179.5 1067.3L1178.6 1065.3L1173.8 1074.6L1183.2 1069.8L1181.1 1068.9L1189.0 1061.0Z" fill="#0099ff"/>
<path d="M1205.3 1057.3L1205.3 1068.4L1203.3 1067.6L1206.5 1077.6L1209.7 1067.6L1207.7 1068.4L1207.7 1057.3Z" fill="#0099ff"/>
<path d="M1223.2 1060.8L1232.5 1069.5L1230.5 1070.4L1240.0 1074.9L1234.9 1065.7L1234.1 1067.8L1224.8 1059.1Z" fill="#52ffa5"/>
<path d="M1268.2 1066.3L1256.0 1066.3L1256.9 1064.2L1246.8 1067.4L1256.9 1070.6L1256.0 1068.6L1268.2 1068.6Z" fill="#e2ff15"/>
<path d="M1288.4 1060.4L1282.5 1066.3L1281.6 1064.3L1276.8 1073.6L1286.1 1068.8L1284.1 1068.0L1290.0 1062.0Z" fill="#ff6800"/>
<path d="M1307.4 1062.6L1307.4 1063.4L1305.4 1062.6L1308.5 1072.2L1311.6 1062.6L1309.6 1063.4L1309.6 1062.6Z" fill="#b90000"/>
<path d="M1335.6 1067.4L1334.8 1068.8L1333.2 1068.8L1332.4 1067.4L1333.2 1066.0L1334.8 1066.0Z" fill="#800000"/>
<path d="M1361.1 1067.4L1360.3 1068.8L1358.7 1068.8L1357.9 1067.4L1358.7 1066.0L1360.3 1066.0Z" fill="#800000"/>
<path d="M1381.5 1072.2L1383.2 1070.6L1384.0 1072.6L1389.3 1063.5L1379.7 1067.8L1381.7 1068.8L1379.9 1070.4Z" fill="#d60000"/>
<path d="M1411.7 1076.9L1411.7 1067.1L1413.7 1067.9L1410.5 1057.9L1407.3 1067.9L1409.3 1067.1L1409.3 1076.9Z" fill="#ff9700"/>
<path d="M1444.8 1074.1L1435.5 1065.4L1437.5 1064.4L1428.0 1059.9L1433.1 1069.1L1433.9 1067.0L1443.3 1075.8Z" fill="#90ff67"/>
<path d="M1472.4 1066.3L1459.8 1066.3L1460.6 1064.2L1450.6 1067.4L1460.6 1070.6L1459.8 1068.6L1472.4 1068.6Z" fill="#3effb9"/>
<path d="M1493.4 1059.4L1485.5 1067.3L1484.6 1065.3L1479.8 1074.6L1489.2 1069.8L1487.1 1068.9L1495.0 1061.0Z" fill="#0099ff"/>
<path d="M1511.3 1057.3L1511.3 1068.4L1509.3 1067.6L1512.5 1077.6L1515.7 1067.6L1513.7 1068.4L1513.7 1057.3Z" fill="#0099ff"/>
<path d="M1529.2 1060.8L1538.5 1069.5L1536.5 1070.4L1546.0 1074.9L1540.9 1065.7L1540.1 1067.8L1530.8 1059.1Z" fill="#52ffa5"/>
<path d="M1574.2 1066.3L1562.0 1066.3L1562.9 1064.2L1552.8 1067.4L1562.9 1070.6L1562.0 1068.6L1574.2 1068.6Z" fill="#e2ff15"/>
<path d="M1594.4 1060.4L1588.5 1066.3L1587.6 1064.3L1582.8 1073.6L1592.1 1068.8L1590.1 1068.0L1596.0 1062.0Z" fill="#ff6800"/>
<path d="M1613.4 1062.6L1613.4 1063.4L1611.4 1062.6L1614.5 1072.2L1617.6 1062.6L1615.6 1063.4L1615.6 1062.6Z" fill="#b90000"/>
<path d="M1122.3 1092.8L1120.6 1091.2L1122.5 1090.2L1112.9 1085.9L1118.2 1095.0L1119.0 1092.9L1120.8 1094.5Z" fill="#d60000"/>
<path d="M1152.3 1088.6L1142.4 1088.6L1143.2 1086.5L1133.2 1089.8L1143.2 1093.0L1142.4 1090.9L1152.3 1090.9Z" fill="#ff9700"/>
<path d="M1175.2 1081.2L1166.2 1090.2L1165.3 1088.2L1160.5 1097.5L1169.8 1092.7L1167.8 1091.8L1176.8 1082.8Z" fill="#90ff67"/>
<path d="M1192.6 1078.9L1192.6 1091.4L1190.5 1090.6L1193.8 1100.6L1197.0 1090.6L1194.9 1091.4L1194.9 1078.9Z" fill="#29ffce"/>
<path d="M1210.8 1084.0L1219.2 1091.3L1217.3 1092.3L1226.9 1096.4L1221.5 1087.4L1220.7 1089.5L1212.3 1082.2Z" fill="#0099ff"/>
<path d="M1234.4 1090.9L1245.9 1090.9L1245.1 1093.0L1255.1 1089.8L1245.1 1086.5L1245.9 1088.6L1234.4 1088.6Z" fill="#00b2ff"/>
<path d="M1277.2 1081.2L1268.2 1090.2L1267.3 1088.1L1262.5 1097.5L1271.9 1092.7L1269.9 1091.8L1278.8 1082.9Z" fill="#3effb9"/>
<path d="M1294.6 1079.1L1294.6 1091.2L1292.5 1090.4L1295.8 1100.4L1299.0 1090.4L1296.9 1091.2L1296.9 1079.1Z" fill="#e2ff15"/>
<path d="M1313.8 1085.0L1320.2 1090.4L1318.3 1091.5L1328.0 1095.4L1322.4 1086.5L1321.7 1088.6L1315.2 1083.2Z" fill="#ff6800"/>
<path d="M1342.0 1090.9L1342.7 1090.9L1342.0 1092.8L1351.5 1089.8L1342.0 1086.7L1342.7 1088.7L1342.0 1088.7Z" fill="#b90000"/>
<path d="M1373.9 1089.8L1373.1 1091.2L1371.4 1091.2L1370.6 1089.8L1371.4 1088.4L1373.1 1088.4Z" fill="#800000"/>
<path d="M1399.4 1089.8L1398.6 1091.2L1396.9 1091.2L1396.1 1089.8L1396.9 1088.4L1398.6 1088.4Z" fill="#800000"/>
<path d="M1428.3 1092.8L1426.6 1091.2L1428.5 1090.2L1418.9 1085.9L1424.2 1095.0L1425.0 1092.9L1426.8 1094.5Z" fill="#d60000"/>
<path d="M1458.3 1088.6L1448.4 1088.6L1449.2 1086.5L1439.2 1089.8L1449.2 1093.0L1448.4 1090.9L1458.3 1090.9Z" fill="#ff9700"/>
<path d="M1481.2 1081.2L1472.2 1090.2L1471.3 1088.2L1466.5 1097.5L1475.8 1092.7L1473.8 1091.8L1482.8 1082.8Z" fill="#90ff67"/>
<path d="M1498.6 1078.9L1498.6 1091.4L1496.5 1090.6L1499.8 1100.6L1503.0 1090.6L1500.9 1091.4L1500.9 1078.9Z" fill="#29ffce"/>
<path d="M1516.8 1084.0L1525.2 1091.3L1523.3 1092.3L1532.9 1096.4L1527.5 1087.4L1526.7 1089.5L1518.3 1082.2Z" fill="#0099ff"/>
<path d="M1540.4 1090.9L1551.9 1090.9L1551.1 1093.0L1561.1 1089.8L1551.1 1086.5L1551.9 1088.6L1540.4 1088.6Z" fill="#00b2ff"/>
<path d="M1583.2 1081.2L1574.2 1090.2L1573.3 1088.1L1568.5 1097.5L1577.9 1092.7L1575.9 1091.8L1584.8 1082.9Z" fill="#3effb9"/>
<path d="M1600.6 1079.1L1600.6 1091.2L1598.5 1090.4L1601.8 1100.4L1605.0 1090.4L1602.9 1091.2L1602.9 1079.1Z" fill="#e2ff15"/>
<path d="M1106.1 1112.1L1105.3 1113.5L1103.7 1113.5L1102.9 1112.1L1103.7 1110.7L1105.3 1110.7Z" fill="#800000"/>
<path d="M1131.6 1112.1L1130.8 1113.5L1129.2 1113.5L1128.4 1112.1L1129.2 1110.7L1130.8 1110.7Z" fill="#800000"/>
<path d="M1159.0 1107.4L1157.3 1109.0L1156.5 1106.9L1151.2 1116.0L1160.8 1111.7L1158.8 1110.7L1160.6 1109.1Z" fill="#d60000"/>
<path d="M1179.8 1102.6L1179.8 1112.4L1177.8 1111.6L1181.0 1121.6L1184.2 1111.6L1182.2 1112.4L1182.2 1102.6Z" fill="#ff9700"/>
<path d="M1197.6 1105.6L1207.1 1114.1L1205.1 1115.1L1214.7 1119.5L1209.4 1110.4L1208.6 1112.4L1199.1 1103.9Z" fill="#90ff67"/>
<path d="M1221.2 1113.2L1233.6 1113.2L1232.8 1115.3L1242.8 1112.1L1232.8 1108.9L1233.6 1110.9L1221.2 1110.9Z" fill="#29ffce"/>
<path d="M1252.5 1121.2L1259.1 1111.8L1260.3 1113.7L1263.4 1103.6L1255.1 1110.0L1257.2 1110.5L1250.6 1119.9Z" fill="#00b2ff"/>
<path d="M1284.2 1122.6L1284.2 1110.8L1286.2 1111.6L1283.0 1101.6L1279.8 1111.6L1281.8 1110.8L1281.8 1122.6Z" fill="#00ccff"/>
<path d="M1317.7 1118.1L1307.9 1110.1L1309.8 1109.0L1300.0 1105.2L1305.8 1114.0L1306.4 1111.9L1316.3 1119.9Z" fill="#3effb9"/>
<path d="M1344.7 1110.9L1332.5 1110.9L1333.4 1108.9L1323.3 1112.1L1333.4 1115.3L1332.5 1113.2L1344.7 1113.2Z" fill="#e2ff15"/>
<path d="M1364.7 1104.9L1358.9 1111.0L1358.0 1109.0L1353.5 1118.5L1362.7 1113.4L1360.6 1112.6L1366.3 1106.4Z" fill="#ff6800"/>
<path d="M1384.0 1107.8L1384.0 1108.5L1382.2 1107.8L1385.0 1116.4L1387.8 1107.8L1386.0 1108.5L1386.0 1107.8Z" fill="#ae0000"/>
<path d="M1412.1 1112.1L1411.3 1113.5L1409.7 1113.5L1408.9 1112.1L1409.7 1110.7L1411.3 1110.7Z" fill="#800000"/>
<path d="M1437.6 1112.1L1436.8 1113.5L1435.2 1113.5L1434.4 1112.1L1435.2 1110.7L1436.8 1110.7Z" fill="#800000"/>
<path d="M1465.0 1107.4L1463.3 1109.0L1462.5 1106.9L1457.2 1116.0L1466.8 1111.7L1464.8 1110.7L1466.6 1109.1Z" fill="#d60000"/>
<path d="M1485.8 1102.6L1485.8 1112.4L1483.8 1111.6L1487.0 1121.6L1490.2 1111.6L1488.2 1112.4L1488.2 1102.6Z" fill="#ff9700"/>
<path d="M1503.6 1105.6L1513.1 1114.1L1511.1 1115.1L1520.7 1119.5L1515.4 1110.4L1514.6 1112.4L1505.1 1103.9Z" fill="#90ff67"/>
<path d="M1527.2 1113.2L1539.6 1113.2L1538.8 1115.3L1548.8 1112.1L1538.8 1108.9L1539.6 1110.9L1527.2 1110.9Z" fill="#29ffce"/>
<path d="M1558.5 1121.2L1565.1 1111.8L1566.3 1113.7L1569.4 1103.6L1561.1 1110.0L1563.2 1110.5L1556.6 1119.9Z" fill="#00b2ff"/>
<path d="M1590.2 1122.6L1590.2 1110.8L1592.2 1111.6L1589.0 1101.6L1585.8 1111.6L1587.8 1110.8L1587.8 1122.6Z" fill="#00ccff"/>
<path d="M1623.7 1118.1L1613.9 1110.1L1615.8 1109.0L1606.0 1105.2L1611.8 1114.0L1612.4 1111.9L1622.3 1119.9Z" fill="#3effb9"/>
<path d="M1121.6 1133.4L1120.9 1133.4L1121.6 1131.7L1112.9 1134.4L1121.6 1137.2L1120.9 1135.4L1121.6 1135.4Z" fill="#ae0000"/>
<path d="M1144.4 1134.4L1143.6 1135.8L1141.9 1135.8L1141.1 1134.4L1141.9 1133.0L1143.6 1133.0Z" fill="#800000"/>
<path d="M1169.9 1134.4L1169.1 1135.8L1167.4 1135.8L1166.6 1134.4L1167.4 1133.0L1169.1 1133.0Z" fill="#800000"/>
<path d="M1188.7 1131.4L1190.4 1133.0L1188.5 1134.0L1198.1 1138.3L1192.8 1129.2L1192.0 1131.3L1190.2 1129.7Z" fill="#d60000"/>
<path d="M1209.7 1135.6L1219.6 1135.6L1218.8 1137.7L1228.8 1134.4L1218.8 1131.2L1219.6 1133.3L1209.7 1133.3Z" fill="#ff9700"/>
<path d="M1238.6 1143.6L1246.8 1133.8L1247.8 1135.8L1251.8 1126.0L1242.9 1131.6L1245.0 1132.3L1236.8 1142.1Z" fill="#90ff67"/>
<path d="M1271.4 1145.2L1271.4 1132.9L1273.5 1133.7L1270.2 1123.7L1267.0 1133.7L1269.1 1132.9L1269.1 1145.2Z" fill="#15ffe2"/>
<path d="M1303.9 1140.9L1295.8 1132.8L1297.8 1131.9L1288.4 1127.1L1293.2 1136.5L1294.1 1134.4L1302.3 1142.6Z" fill="#00b2ff"/>
<path d="M1331.6 1133.3L1320.1 1133.3L1320.9 1131.2L1310.9 1134.4L1320.9 1137.7L1320.1 1135.6L1331.6 1135.6Z" fill="#00b2ff"/>
<path d="M1354.0 1126.1L1344.7 1134.8L1343.9 1132.7L1338.7 1141.9L1348.2 1137.4L1346.2 1136.5L1355.6 1127.8Z" fill="#52ffa5"/>
<path d="M1371.1 1123.8L1371.1 1135.9L1369.0 1135.1L1372.2 1145.1L1375.5 1135.1L1373.4 1135.9L1373.4 1123.8Z" fill="#e2ff15"/>
<path d="M1392.1 1127.6L1396.6 1134.7L1394.4 1135.1L1402.4 1141.9L1399.8 1131.7L1398.5 1133.5L1394.1 1126.4Z" fill="#ff6800"/>
<path d="M1427.6 1133.4L1426.9 1133.4L1427.6 1131.7L1418.9 1134.4L1427.6 1137.2L1426.9 1135.4L1427.6 1135.4Z" fill="#ae0000"/>
<path d="M1450.4 1134.4L1449.6 1135.8L1447.9 1135.8L1447.1 1134.4L1447.9 1133.0L1449.6 1133.0Z" fill="#800000"/>
<path d="M1475.9 1134.4L1475.1 1135.8L1473.4 1135.8L1472.6 1134.4L1473.4 1133.0L1475.1 1133.0Z" fill="#800000"/>
<path d="M1494.7 1131.4L1496.4 1133.0L1494.5 1134.0L1504.1 1138.3L1498.8 1129.2L1498.0 1131.3L1496.2 1129.7Z" fill="#d60000"/>
<path d="M1515.7 1135.6L1525.6 1135.6L1524.8 1137.7L1534.8 1134.4L1524.8 1131.2L1525.6 1133.3L1515.7 1133.3Z" fill="#ff9700"/>
<path d="M1544.6 1143.6L1552.8 1133.8L1553.8 1135.8L1557.8 1126.0L1548.9 1131.6L1551.0 1132.3L1542.8 1142.1Z" fill="#90ff67"/>
<path d="M1577.4 1145.2L1577.4 1132.9L1579.5 1133.7L1576.2 1123.7L1573.0 1133.7L1575.1 1132.9L1575.1 1145.2Z" fill="#15ffe2"/>
<path d="M1609.9 1140.9L1601.8 1132.8L1603.8 1131.9L1594.4 1127.1L1599.2 1136.5L1600.1 1134.4L1608.3 1142.6Z" fill="#00b2ff"/>
<path d="M1115.2 1155.6L1103.0 1155.6L1103.9 1153.6L1093.8 1156.8L1103.9 1160.0L1103.0 1157.9L1115.2 1157.9Z" fill="#e2ff15"/>
<path d="M1135.4 1149.7L1129.5 1155.7L1128.6 1153.7L1123.8 1163.0L1133.1 1158.2L1131.1 1157.3L1137.0 1151.4Z" fill="#ff6800"/>
<path d="M1154.4 1152.0L1154.4 1152.8L1152.4 1152.0L1155.5 1161.6L1158.6 1152.0L1156.6 1152.8L1156.6 1152.0Z" fill="#b90000"/>
<path d="M1182.6 1156.8L1181.8 1158.2L1180.2 1158.2L1179.4 1156.8L1180.2 1155.4L1181.8 1155.4Z" fill="#800000"/>
<path d="M1208.1 1156.8L1207.3 1158.2L1205.7 1158.2L1204.9 1156.8L1205.7 1155.4L1207.3 1155.4Z" fill="#800000"/>
<path d="M1228.5 1161.5L1230.2 1159.9L1231.0 1162.0L1236.3 1152.9L1226.7 1157.2L1228.7 1158.2L1226.9 1159.8Z" fill="#d60000"/>
<path d="M1258.7 1166.3L1258.7 1156.5L1260.7 1157.3L1257.5 1147.3L1254.3 1157.3L1256.3 1156.5L1256.3 1166.3Z" fill="#ff9700"/>
<path d="M1291.8 1163.4L1282.5 1154.7L1284.5 1153.8L1275.0 1149.3L1280.1 1158.5L1280.9 1156.4L1290.3 1165.1Z" fill="#90ff67"/>
<path d="M1319.4 1155.6L1306.8 1155.6L1307.6 1153.6L1297.6 1156.8L1307.6 1160.0L1306.8 1157.9L1319.4 1157.9Z" fill="#3effb9"/>
<path d="M1340.4 1148.8L1332.5 1156.6L1331.6 1154.6L1326.8 1164.0L1336.2 1159.2L1334.1 1158.3L1342.0 1150.4Z" fill="#0099ff"/>
<path d="M1358.3 1146.6L1358.3 1157.7L1356.3 1156.9L1359.5 1166.9L1362.7 1156.9L1360.7 1157.7L1360.7 1146.6Z" fill="#0099ff"/>
<path d="M1376.2 1150.1L1385.5 1158.8L1383.5 1159.8L1393.0 1164.3L1387.9 1155.1L1387.1 1157.1L1377.8 1148.5Z" fill="#52ffa5"/>
<path d="M1421.2 1155.6L1409.0 1155.6L1409.9 1153.6L1399.8 1156.8L1409.9 1160.0L1409.0 1157.9L1421.2 1157.9Z" fill="#e2ff15"/>
<path d="M1441.4 1149.7L1435.5 1155.7L1434.6 1153.7L1429.8 1163.0L1439.1 1158.2L1437.1 1157.3L1443.0 1151.4Z" fill="#ff6800"/>
<path d="M1460.4 1152.0L1460.4 1152.8L1458.4 1152.0L1461.5 1161.6L1464.6 1152.0L1462.6 1152.8L1462.6 1152.0Z" fill="#b90000"/>
<path d="M1488.6 1156.8L1487.8 1158.2L1486.2 1158.2L1485.4 1156.8L1486.2 1155.4L1487.8 1155.4Z" fill="#800000"/>
<path d="M1514.1 1156.8L1513.3 1158.2L1511.7 1158.2L1510.9 1156.8L1511.7 1155.4L1513.3 1155.4Z" fill="#800000"/>
<path d="M1534.5 1161.5L1536.2 1159.9L1537.0 1162.0L1542.3 1152.9L1532.7 1157.2L1534.7 1158.2L1532.9 1159.8Z" fill="#d60000"/>
<path d="M1564.7 1166.3L1564.7 1156.5L1566.7 1157.3L1563.5 1147.3L1560.3 1157.3L1562.3 1156.5L1562.3 1166.3Z" fill="#ff9700"/>
<path d="M1597.8 1163.4L1588.5 1154.7L1590.5 1153.8L1581.0 1149.3L1586.1 1158.5L1586.9 1156.4L1596.3 1165.1Z" fill="#90ff67"/>
<path d="M1625.4 1155.6L1612.8 1155.6L1613.6 1153.6L1603.6 1156.8L1613.6 1160.0L1612.8 1157.9L1625.4 1157.9Z" fill="#3effb9"/></g></g>
<line x1="582.5" y1="41.7" x2="582.5" y2="498.0" stroke="#7f7f7f" stroke-width="3" stroke-dasharray="12.5 7.5"/>
<line x1="885.6" y1="41.7" x2="885.6" y2="498.0" stroke="#7f7f7f" stroke-width="3" stroke-dasharray="12.5 7.5"/>
<polyline points="279.6,79.5 373.0,79.5 466.3,79.5 559.6,79.5 653.0,269.9 746.4,269.9 839.7,269.9 933.0,460.2 1026.4,460.2" fill="none" stroke="#ff0000" stroke-width="4.3" stroke-linejoin="round"/>
<polyline points="279.6,460.2 373.0,437.2 466.3,413.0 559.6,389.0 653.0,302.8 746.4,286.0 839.7,256.6 933.0,220.0 1026.4,193.0" fill="none" stroke="#0000ff" stroke-width="4.3" stroke-linejoin="round"/>
<circle cx="279.6" cy="79.5" r="10.5" fill="none" stroke="#e0101c" stroke-width="3"/>
<circle cx="373.0" cy="79.5" r="10.5" fill="none" stroke="#e0101c" stroke-width="3"/>
<circle cx="466.3" cy="79.5" r="10.5" fill="none" stroke="#e0101c" stroke-width="3"/>
<circle cx="559.6" cy="79.5" r="10.5" fill="none" stroke="#e0101c" stroke-width="3"/>
<circle cx="653.0" cy="269.9" r="10.5" fill="none" stroke="#e0101c" stroke-width="3"/>
<circle cx="746.4" cy="269.9" r="10.5" fill="none" stroke="#e0101c" stroke-width="3"/>
<circle cx="839.7" cy="269.9" r="10.5" fill="none" stroke="#e0101c" stroke-width="3"/>
<circle cx="933.0" cy="460.2" r="10.5" fill="none" stroke="#e0101c" stroke-width="3"/>
<circle cx="1026.4" cy="460.2" r="10.5" fill="none" stroke="#e0101c" stroke-width="3"/>
<rect x="269.6" y="450.2" width="20" height="20" fill="none" stroke="#0a10e8" stroke-width="3"/>
<rect x="363.0" y="427.2" width="20" height="20" fill="none" stroke="#0a10e8" stroke-width="3"/>
<rect x="456.3" y="403.0" width="20" height="20" fill="none" stroke="#0a10e8" stroke-width="3"/>
<rect x="549.6" y="379.0" width="20" height="20" fill="none" stroke="#0a10e8" stroke-width="3"/>
<rect x="643.0" y="292.8" width="20" height="20" fill="none" stroke="#0a10e8" stroke-width="3"/>
<rect x="736.4" y="276.0" width="20" height="20" fill="none" stroke="#0a10e8" stroke-width="3"/>
<rect x="829.7" y="246.6" width="20" height="20" fill="none" stroke="#0a10e8" stroke-width="3"/>
<rect x="923.0" y="210.0" width="20" height="20" fill="none" stroke="#0a10e8" stroke-width="3"/>
<rect x="1016.4" y="183.0" width="20" height="20" fill="none" stroke="#0a10e8" stroke-width="3"/>
<rect x="242.7" y="41.7" width="820.8" height="456.3" fill="none" stroke="#000" stroke-width="3"/>
<line x1="279.6" y1="498.0" x2="279.6" y2="484.0" stroke="#000" stroke-width="3"/>
<text x="279.6" y="539" text-anchor="middle" style="font-family:'DejaVu Sans','Liberation Sans',sans-serif;font-size:36px">0.000</text>
<line x1="466.3" y1="498.0" x2="466.3" y2="484.0" stroke="#000" stroke-width="3"/>
<text x="466.3" y="539" text-anchor="middle" style="font-family:'DejaVu Sans','Liberation Sans',sans-serif;font-size:36px">0.002</text>
<line x1="653.0" y1="498.0" x2="653.0" y2="484.0" stroke="#000" stroke-width="3"/>
<text x="653.0" y="539" text-anchor="middle" style="font-family:'DejaVu Sans','Liberation Sans',sans-serif;font-size:36px">0.004</text>
<line x1="839.7" y1="498.0" x2="839.7" y2="484.0" stroke="#000" stroke-width="3"/>
<text x="839.7" y="539" text-anchor="middle" style="font-family:'DejaVu Sans','Liberation Sans',sans-serif;font-size:36px">0.006</text>
<line x1="1026.4" y1="498.0" x2="1026.4" y2="484.0" stroke="#000" stroke-width="3"/>
<text x="1026.4" y="539" text-anchor="middle" style="font-family:'DejaVu Sans','Liberation Sans',sans-serif;font-size:36px">0.008</text>
<line x1="242.7" y1="460.2" x2="256.7" y2="460.2" stroke="#000" stroke-width="3"/>
<text x="229.5" y="473.4" text-anchor="end" style="font-family:'DejaVu Sans','Liberation Sans',sans-serif;font-size:36px">0.0</text>
<line x1="242.7" y1="365.0" x2="256.7" y2="365.0" stroke="#000" stroke-width="3"/>
<text x="229.5" y="378.2" text-anchor="end" style="font-family:'DejaVu Sans','Liberation Sans',sans-serif;font-size:36px">0.5</text>
<line x1="242.7" y1="269.9" x2="256.7" y2="269.9" stroke="#000" stroke-width="3"/>
<text x="229.5" y="283.1" text-anchor="end" style="font-family:'DejaVu Sans','Liberation Sans',sans-serif;font-size:36px">1.0</text>
<line x1="242.7" y1="174.7" x2="256.7" y2="174.7" stroke="#000" stroke-width="3"/>
<text x="229.5" y="187.9" text-anchor="end" style="font-family:'DejaVu Sans','Liberation Sans',sans-serif;font-size:36px">1.5</text>
<line x1="242.7" y1="79.5" x2="256.7" y2="79.5" stroke="#000" stroke-width="3"/>
<text x="229.5" y="92.7" text-anchor="end" style="font-family:'DejaVu Sans','Liberation Sans',sans-serif;font-size:36px">2.0</text>
<line x1="1063.5" y1="460.2" x2="1049.5" y2="460.2" stroke="#000" stroke-width="3"/>
<text x="1077" y="473.4" text-anchor="start" style="font-family:'DejaVu Sans','Liberation Sans',sans-serif;font-size:36px">0.00</text>
<line x1="1063.5" y1="269.9" x2="1049.5" y2="269.9" stroke="#000" stroke-width="3"/>
<text x="1077" y="283.1" text-anchor="start" style="font-family:'DejaVu Sans','Liberation Sans',sans-serif;font-size:36px">0.25</text>
<line x1="1063.5" y1="79.5" x2="1049.5" y2="79.5" stroke="#000" stroke-width="3"/>
<text x="1077" y="92.7" text-anchor="start" style="font-family:'DejaVu Sans','Liberation Sans',sans-serif;font-size:36px">0.50</text>
<path d="M413.6 115.3 L317.6 115.3 L317.6 103 L292 117.8 L317.6 132.7 L317.6 120.3 L413.6 120.3 Z" fill="#ff0000"/>
<path d="M910 131.8 L1006 131.8 L1006 119 L1031.6 134.3 L1006 149.6 L1006 136.8 L910 136.8 Z" fill="#0000ff"/>
<line x1="279" y1="231" x2="370" y2="231" stroke="#ff0000" stroke-width="3.6"/>
<circle cx="324.5" cy="231" r="10.5" fill="none" stroke="#e0101c" stroke-width="3"/>
<line x1="279" y1="299.5" x2="370" y2="299.5" stroke="#0000ff" stroke-width="3.6"/>
<rect x="314.5" y="289.5" width="20" height="20" fill="none" stroke="#0a10e8" stroke-width="3"/>
<text x="405" y="246.5" style="font-family:'DejaVu Sans','Liberation Sans',sans-serif;font-size:42.5px">|<tspan font-style="oblique">n</tspan><tspan font-style="oblique" font-size="29.7" dy="7">sk</tspan><tspan dy="-7">|</tspan></text>
<text x="405" y="314.5" style="font-family:'DejaVu Sans','Liberation Sans',sans-serif;font-size:42.5px">|<tspan font-style="oblique">M</tspan><tspan font-style="oblique" font-size="29.7" dy="7">z</tspan><tspan dy="-7">|</tspan></text>
<text transform="translate(145,269) rotate(-90)" text-anchor="middle" style="font-family:'DejaVu Sans','Liberation Sans',sans-serif;font-size:36px">|<tspan font-style="oblique">n</tspan><tspan font-style="oblique" font-size="25.2" dy="6">sk</tspan><tspan dy="-6">|</tspan></text>
<text transform="translate(1163,272) rotate(90)" text-anchor="middle" style="font-family:'DejaVu Sans','Liberation Sans',sans-serif;font-size:36px">|<tspan font-style="oblique">M</tspan><tspan font-style="oblique" font-size="25.2" dy="6">z</tspan><tspan dy="-6">|</tspan></text>
<text x="632" y="589.5" style="font-family:'DejaVu Sans','Liberation Sans',sans-serif;font-size:36px"><tspan font-style="oblique">H</tspan><tspan font-style="oblique" font-size="25.2" dy="6">z</tspan></text>
<line x1="417" y1="441" x2="296.9" y2="667.4" stroke="#000" stroke-width="4.6" stroke-linecap="round"/>
<line x1="758.6" y1="439" x2="777.1" y2="657.4" stroke="#000" stroke-width="4.6" stroke-linecap="round"/>
<line x1="1032.8" y1="442.4" x2="1325" y2="657.4" stroke="#000" stroke-width="4.6" stroke-linecap="round"/>
<defs><linearGradient id="cb" x1="0" y1="0" x2="0" y2="1"><stop offset="0.00" stop-color="#800000"/><stop offset="0.02" stop-color="#970000"/><stop offset="0.04" stop-color="#ae0000"/><stop offset="0.06" stop-color="#c50000"/><stop offset="0.08" stop-color="#dc0000"/><stop offset="0.10" stop-color="#f30900"/><stop offset="0.12" stop-color="#ff1c00"/><stop offset="0.14" stop-color="#ff2f00"/><stop offset="0.16" stop-color="#ff4200"/><stop offset="0.18" stop-color="#ff5500"/><stop offset="0.20" stop-color="#ff6800"/><stop offset="0.22" stop-color="#ff7b00"/><stop offset="0.24" stop-color="#ff8e00"/><stop offset="0.26" stop-color="#ffa100"/><stop offset="0.28" stop-color="#ffb300"/><stop offset="0.30" stop-color="#ffc600"/><stop offset="0.32" stop-color="#ffd900"/><stop offset="0.34" stop-color="#ffec00"/><stop offset="0.36" stop-color="#efff08"/><stop offset="0.38" stop-color="#deff19"/><stop offset="0.40" stop-color="#ceff29"/><stop offset="0.42" stop-color="#bdff3a"/><stop offset="0.44" stop-color="#adff4a"/><stop offset="0.46" stop-color="#9cff5a"/><stop offset="0.48" stop-color="#8cff6b"/><stop offset="0.50" stop-color="#7bff7b"/><stop offset="0.52" stop-color="#6bff8c"/><stop offset="0.54" stop-color="#5aff9c"/><stop offset="0.56" stop-color="#4affad"/><stop offset="0.58" stop-color="#3affbd"/><stop offset="0.60" stop-color="#29ffce"/><stop offset="0.62" stop-color="#19ffde"/><stop offset="0.64" stop-color="#08f0ef"/><stop offset="0.66" stop-color="#00dbff"/><stop offset="0.68" stop-color="#00c7ff"/><stop offset="0.70" stop-color="#00b2ff"/><stop offset="0.72" stop-color="#009eff"/><stop offset="0.74" stop-color="#008aff"/><stop offset="0.76" stop-color="#0075ff"/><stop offset="0.78" stop-color="#0061ff"/><stop offset="0.80" stop-color="#004dff"/><stop offset="0.82" stop-color="#0038ff"/><stop offset="0.84" stop-color="#0024ff"/><stop offset="0.86" stop-color="#000fff"/><stop offset="0.88" stop-color="#0000ff"/><stop offset="0.90" stop-color="#0000f3"/><stop offset="0.92" stop-color="#0000dc"/><stop offset="0.94" stop-color="#0000c5"/><stop offset="0.96" stop-color="#0000ae"/><stop offset="0.98" stop-color="#000097"/><stop offset="1.00" stop-color="#000080"/></linearGradient></defs>
<rect x="1640.5" y="814.4" width="29.7" height="339.2" fill="url(#cb)"/>
<text x="1690" y="828.5" style="font-family:'Liberation Serif',serif;font-size:42px">1</text>
<text x="1690" y="998.5" style="font-family:'Liberation Serif',serif;font-size:42px">0</text>
<text x="1676" y="1168" style="font-family:'Liberation Serif',serif;font-size:42px">−1</text>
<text x="1659" y="791.5" style="font-family:'Liberation Serif',serif;font-size:48px;font-style:italic" stroke="#000" stroke-width="0.7">S<tspan font-size="25" dy="8" stroke-width="0.4">z</tspan></text>
<text x="2" y="40.3" style="font-family:'Liberation Sans',sans-serif;font-size:45px">(a)</text>
<text x="10.8" y="614.2" style="font-family:'Liberation Sans',sans-serif;font-size:45px">(b)</text>
<text x="570.4" y="614" style="font-family:'Liberation Sans',sans-serif;font-size:45px">(c)</text>
<text x="1102.8" y="614" style="font-family:'Liberation Sans',sans-serif;font-size:45px">(d)</text>
</svg>
</body></html>
